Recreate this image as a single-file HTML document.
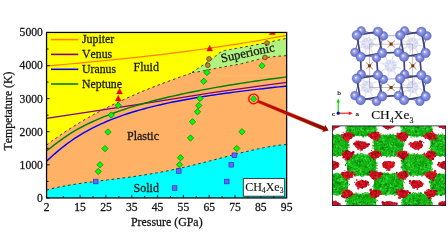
<!DOCTYPE html>
<html lang="en"><head><meta charset="utf-8"><title>CH4Xe3 phase diagram</title>
<style>html,body{margin:0;padding:0;background:#fff;overflow:hidden}body{width:448px;height:252px}</style></head>
<body>
<svg width="448" height="252" viewBox="0 0 448 252" style="display:block;font-kerning:none">
<defs>
<clipPath id="pc"><rect x="46.55" y="32.45" width="240.1" height="165.5"/></clipPath>
<radialGradient id="xe" cx="0.5" cy="0.5" r="0.55" fx="0.4" fy="0.37"><stop offset="0" stop-color="#ffffff"/><stop offset="0.1" stop-color="#e4e8ff"/><stop offset="0.24" stop-color="#a7b0f0"/><stop offset="0.52" stop-color="#848ee0"/><stop offset="0.82" stop-color="#6a74ca"/><stop offset="1" stop-color="#464ea2"/></radialGradient>
<radialGradient id="xf" cx="0.5" cy="0.5" r="0.5"><stop offset="0" stop-color="#e2e5f6"/><stop offset="0.35" stop-color="#cfd3ee"/><stop offset="0.8" stop-color="#d3d6ef"/><stop offset="1" stop-color="#e2e4f5"/></radialGradient>
<clipPath id="mdc"><rect x="332.5" y="125.9" width="113.1" height="79.5"/></clipPath>
<linearGradient id="ag" gradientUnits="userSpaceOnUse" x1="258" y1="101" x2="329" y2="130"><stop offset="0" stop-color="#d40000"/><stop offset="0.5" stop-color="#b80202"/><stop offset="1" stop-color="#8c0808"/></linearGradient>
</defs>
<rect width="448" height="252" fill="#ffffff"/>
<g clip-path="url(#pc)">
<rect x="40" y="28" width="252" height="174" fill="#ffff00"/>
<path d="M46.5 145.19 L48.97 143.16 L51.43 141.35 L53.9 139.59 L56.36 137.86 L58.83 136.15 L61.3 134.46 L63.76 132.79 L66.23 131.14 L68.69 129.52 L71.16 127.93 L73.63 126.36 L76.09 124.82 L78.56 123.31 L81.03 121.82 L83.49 120.36 L85.96 118.92 L88.42 117.51 L90.89 116.12 L93.36 114.75 L95.82 113.41 L98.29 112.09 L100.75 110.78 L103.22 109.5 L105.69 108.24 L108.15 107 L110.62 105.78 L113.08 104.57 L115.55 103.38 L118.02 102.21 L120.48 101.05 L122.95 99.91 L125.42 98.79 L127.88 97.68 L130.35 96.58 L132.81 95.5 L135.28 94.43 L137.75 93.38 L140.21 92.34 L142.68 91.31 L145.14 90.29 L147.61 89.29 L150.08 88.29 L152.54 87.31 L155.01 86.34 L157.47 85.38 L159.94 84.43 L162.41 83.49 L164.87 82.56 L167.34 81.64 L169.81 80.73 L172.27 79.83 L174.74 78.94 L177.2 78.06 L179.67 77.18 L182.14 76.32 L184.6 75.46 L187.07 74.61 L189.53 73.77 L192 72.93 L192.55 72.44 L193.21 72.38 L194 72.31 L194.91 72.22 L195.95 72.1 L197.14 71.95 L198.49 71.75 L200 71.5 L201.77 71.17 L203.85 70.77 L206.13 70.3 L208.53 69.81 L210.96 69.31 L213.32 68.83 L215.53 68.38 L217.5 68 L219.23 67.68 L220.81 67.39 L222.27 67.14 L223.66 66.91 L224.99 66.68 L226.3 66.46 L227.63 66.24 L229 66 L230.39 65.76 L231.76 65.52 L233.12 65.29 L234.47 65.06 L235.82 64.82 L237.19 64.57 L238.58 64.3 L240 64 L241.44 63.67 L242.9 63.33 L244.37 62.96 L245.85 62.57 L247.35 62.18 L248.88 61.79 L250.43 61.39 L252 61 L253.63 60.6 L255.34 60.17 L257.09 59.73 L258.85 59.29 L260.59 58.87 L262.28 58.47 L263.9 58.11 L265.4 57.8 L266.77 57.54 L268.01 57.33 L269.17 57.16 L270.29 57.01 L271.39 56.87 L272.52 56.75 L273.71 56.63 L275 56.5 L276.47 56.36 L278.11 56.23 L279.85 56.09 L281.6 55.97 L283.27 55.85 L284.79 55.75 L286.06 55.67 L287 55.6 L292 56 L292 202 L40 202 L40 143 Z" fill="#ffb266"/>
<path d="M192 72.5 L193.04 71.8 L194.47 70.84 L196.18 69.69 L198.05 68.43 L199.98 67.13 L201.85 65.87 L203.56 64.72 L205 63.75 L206.16 62.97 L207.15 62.32 L208.02 61.75 L208.82 61.23 L209.59 60.73 L210.37 60.19 L211.23 59.6 L212.2 58.9 L213.27 58.07 L214.39 57.13 L215.56 56.13 L216.76 55.1 L217.98 54.09 L219.21 53.14 L220.46 52.29 L221.7 51.6 L222.92 51.07 L224.13 50.66 L225.34 50.35 L226.57 50.1 L227.83 49.89 L229.15 49.69 L230.53 49.47 L232 49.2 L233.53 48.9 L235.08 48.62 L236.67 48.34 L238.33 48.06 L240.07 47.76 L241.92 47.44 L243.89 47.09 L246 46.7 L248.3 46.27 L250.78 45.79 L253.41 45.29 L256.12 44.77 L258.89 44.23 L261.66 43.68 L264.38 43.14 L267 42.6 L269.68 42.03 L272.54 41.42 L275.45 40.78 L278.31 40.14 L281.01 39.54 L283.43 39 L285.46 38.54 L287 38.2 L292 37 L292 56 L287 55.6 L286.06 55.67 L284.79 55.75 L283.27 55.85 L281.6 55.97 L279.85 56.09 L278.11 56.23 L276.47 56.36 L275 56.5 L273.71 56.63 L272.52 56.75 L271.39 56.87 L270.29 57.01 L269.17 57.16 L268.01 57.33 L266.77 57.54 L265.4 57.8 L263.9 58.11 L262.28 58.47 L260.59 58.87 L258.85 59.29 L257.09 59.73 L255.34 60.17 L253.63 60.6 L252 61 L250.43 61.39 L248.88 61.79 L247.35 62.18 L245.85 62.57 L244.37 62.96 L242.9 63.33 L241.44 63.67 L240 64 L238.58 64.3 L237.19 64.57 L235.82 64.82 L234.47 65.06 L233.12 65.29 L231.76 65.52 L230.39 65.76 L229 66 L227.63 66.24 L226.3 66.46 L224.99 66.68 L223.66 66.91 L222.27 67.14 L220.81 67.39 L219.23 67.68 L217.5 68 L215.53 68.38 L213.32 68.83 L210.96 69.31 L208.53 69.81 L206.13 70.3 L203.85 70.77 L201.77 71.17 L200 71.5 L198.49 71.75 L197.14 71.95 L195.95 72.1 L194.91 72.22 L194 72.31 L193.21 72.38 L192.55 72.44 L192 72.5 Z" fill="#b2f27f"/>
<path d="M46.5 190.04 L50.58 189 L54.65 188.03 L58.73 187.15 L62.81 186.33 L66.88 185.57 L70.96 184.87 L75.03 184.22 L79.11 183.6 L83.19 183.02 L87.26 182.47 L91.34 181.94 L95.42 181.42 L99.49 180.92 L103.57 180.42 L107.64 179.93 L111.72 179.43 L115.8 178.93 L119.87 178.42 L123.95 177.89 L128.03 177.35 L132.1 176.79 L136.18 176.2 L140.25 175.6 L144.33 174.96 L148.41 174.3 L152.48 173.62 L156.56 172.9 L160.64 172.15 L164.71 171.38 L168.79 170.57 L172.86 169.73 L176.94 168.86 L181.02 167.97 L185.09 167.05 L189.17 166.1 L193.25 165.12 L197.32 164.13 L201.4 163.11 L205.47 162.08 L209.55 161.03 L213.63 159.97 L217.7 158.9 L221.78 157.83 L225.86 156.76 L229.93 155.69 L234.01 154.64 L238.08 153.6 L242.16 152.58 L246.24 151.58 L250.31 150.62 L254.39 149.69 L258.47 148.81 L262.54 147.98 L266.62 147.21 L270.69 146.5 L274.77 145.87 L278.85 145.32 L282.92 144.86 L287 144.5 L292 144.4 L292 202 L40 202 L40 190 Z" fill="#00ffff"/>
<path d="M201 75.6 H286" stroke="#e9d070" stroke-width="0.55" stroke-opacity="0.75" fill="none"/>
<path d="M46.5 145.19 L48.97 143.16 L51.43 141.35 L53.9 139.59 L56.36 137.86 L58.83 136.15 L61.3 134.46 L63.76 132.79 L66.23 131.14 L68.69 129.52 L71.16 127.93 L73.63 126.36 L76.09 124.82 L78.56 123.31 L81.03 121.82 L83.49 120.36 L85.96 118.92 L88.42 117.51 L90.89 116.12 L93.36 114.75 L95.82 113.41 L98.29 112.09 L100.75 110.78 L103.22 109.5 L105.69 108.24 L108.15 107 L110.62 105.78 L113.08 104.57 L115.55 103.38 L118.02 102.21 L120.48 101.05 L122.95 99.91 L125.42 98.79 L127.88 97.68 L130.35 96.58 L132.81 95.5 L135.28 94.43 L137.75 93.38 L140.21 92.34 L142.68 91.31 L145.14 90.29 L147.61 89.29 L150.08 88.29 L152.54 87.31 L155.01 86.34 L157.47 85.38 L159.94 84.43 L162.41 83.49 L164.87 82.56 L167.34 81.64 L169.81 80.73 L172.27 79.83 L174.74 78.94 L177.2 78.06 L179.67 77.18 L182.14 76.32 L184.6 75.46 L187.07 74.61 L189.53 73.77 L192 72.93" fill="none" stroke="#1a1a1a" stroke-width="0.85" stroke-dasharray="2.6 2.9"/>
<path d="M192 72.5 L193.04 71.8 L194.47 70.84 L196.18 69.69 L198.05 68.43 L199.98 67.13 L201.85 65.87 L203.56 64.72 L205 63.75 L206.16 62.97 L207.15 62.32 L208.02 61.75 L208.82 61.23 L209.59 60.73 L210.37 60.19 L211.23 59.6 L212.2 58.9 L213.27 58.07 L214.39 57.13 L215.56 56.13 L216.76 55.1 L217.98 54.09 L219.21 53.14 L220.46 52.29 L221.7 51.6 L222.92 51.07 L224.13 50.66 L225.34 50.35 L226.57 50.1 L227.83 49.89 L229.15 49.69 L230.53 49.47 L232 49.2 L233.53 48.9 L235.08 48.62 L236.67 48.34 L238.33 48.06 L240.07 47.76 L241.92 47.44 L243.89 47.09 L246 46.7 L248.3 46.27 L250.78 45.79 L253.41 45.29 L256.12 44.77 L258.89 44.23 L261.66 43.68 L264.38 43.14 L267 42.6 L269.68 42.03 L272.54 41.42 L275.45 40.78 L278.31 40.14 L281.01 39.54 L283.43 39 L285.46 38.54 L287 38.2" fill="none" stroke="#1a1a1a" stroke-width="0.85" stroke-dasharray="2.6 2.9"/>
<path d="M192 72.5 L192.55 72.44 L193.21 72.38 L194 72.31 L194.91 72.22 L195.95 72.1 L197.14 71.95 L198.49 71.75 L200 71.5 L201.77 71.17 L203.85 70.77 L206.13 70.3 L208.53 69.81 L210.96 69.31 L213.32 68.83 L215.53 68.38 L217.5 68 L219.23 67.68 L220.81 67.39 L222.27 67.14 L223.66 66.91 L224.99 66.68 L226.3 66.46 L227.63 66.24 L229 66 L230.39 65.76 L231.76 65.52 L233.12 65.29 L234.47 65.06 L235.82 64.82 L237.19 64.57 L238.58 64.3 L240 64 L241.44 63.67 L242.9 63.33 L244.37 62.96 L245.85 62.57 L247.35 62.18 L248.88 61.79 L250.43 61.39 L252 61 L253.63 60.6 L255.34 60.17 L257.09 59.73 L258.85 59.29 L260.59 58.87 L262.28 58.47 L263.9 58.11 L265.4 57.8 L266.77 57.54 L268.01 57.33 L269.17 57.16 L270.29 57.01 L271.39 56.87 L272.52 56.75 L273.71 56.63 L275 56.5 L276.47 56.36 L278.11 56.23 L279.85 56.09 L281.6 55.97 L283.27 55.85 L284.79 55.75 L286.06 55.67 L287 55.6" fill="none" stroke="#1a1a1a" stroke-width="0.85" stroke-dasharray="2.6 2.9"/>
<path d="M46.5 190.04 L50.58 189 L54.65 188.03 L58.73 187.15 L62.81 186.33 L66.88 185.57 L70.96 184.87 L75.03 184.22 L79.11 183.6 L83.19 183.02 L87.26 182.47 L91.34 181.94 L95.42 181.42 L99.49 180.92 L103.57 180.42 L107.64 179.93 L111.72 179.43 L115.8 178.93 L119.87 178.42 L123.95 177.89 L128.03 177.35 L132.1 176.79 L136.18 176.2 L140.25 175.6 L144.33 174.96 L148.41 174.3 L152.48 173.62 L156.56 172.9 L160.64 172.15 L164.71 171.38 L168.79 170.57 L172.86 169.73 L176.94 168.86 L181.02 167.97 L185.09 167.05 L189.17 166.1 L193.25 165.12 L197.32 164.13 L201.4 163.11 L205.47 162.08 L209.55 161.03 L213.63 159.97 L217.7 158.9 L221.78 157.83 L225.86 156.76 L229.93 155.69 L234.01 154.64 L238.08 153.6 L242.16 152.58 L246.24 151.58 L250.31 150.62 L254.39 149.69 L258.47 148.81 L262.54 147.98 L266.62 147.21 L270.69 146.5 L274.77 145.87 L278.85 145.32 L282.92 144.86 L287 144.5" fill="none" stroke="#1a1a1a" stroke-width="0.85" stroke-dasharray="2.6 2.9"/>
<path d="M46.25 66.06 L56.28 65.17 L66.31 64.27 L76.34 63.35 L86.38 62.41 L96.41 61.44 L106.44 60.46 L116.47 59.45 L126.5 58.4 L136.53 57.33 L146.56 56.21 L156.59 55.06 L166.62 53.87 L176.66 52.63 L186.69 51.35 L196.72 50.01 L206.75 48.62 L216.78 47.18 L226.81 45.68 L236.84 44.11 L246.88 42.48 L256.91 40.79 L266.94 39.02 L276.97 37.18 L287 35.27" fill="none" stroke="#ff8000" stroke-width="1.2"/>
<path d="M46.5 161.27 L50.58 157.48 L54.65 153.83 L58.73 150.36 L62.81 147.06 L66.88 143.94 L70.96 141 L75.03 138.23 L79.11 135.62 L83.19 133.16 L87.26 130.84 L91.34 128.65 L95.42 126.59 L99.49 124.63 L103.57 122.79 L107.64 121.04 L111.72 119.38 L115.8 117.81 L119.87 116.31 L123.95 114.89 L128.03 113.54 L132.1 112.25 L136.18 111.02 L140.25 109.85 L144.33 108.72 L148.41 107.65 L152.48 106.62 L156.56 105.63 L160.64 104.68 L164.71 103.77 L168.79 102.89 L172.86 102.05 L176.94 101.23 L181.02 100.45 L185.09 99.69 L189.17 98.95 L193.25 98.24 L197.32 97.55 L201.4 96.88 L205.47 96.24 L209.55 95.6 L213.63 94.99 L217.7 94.39 L221.78 93.81 L225.86 93.24 L229.93 92.69 L234.01 92.15 L238.08 91.62 L242.16 91.1 L246.24 90.6 L250.31 90.1 L254.39 89.61 L258.47 89.13 L262.54 88.66 L266.62 88.2 L270.69 87.75 L274.77 87.3 L278.85 86.86 L282.92 86.42 L287 85.99" fill="none" stroke="#0000ff" stroke-width="1.45"/>
<path d="M46.5 118.4 L96 110.9 L150 102.6 L214 92.3 L270 84.7 L287 82.4" fill="none" stroke="#800080" stroke-width="1.35"/>
<path d="M46.5 150.56 L50.58 147.82 L54.65 144.66 L58.73 141.54 L62.81 138.59 L66.88 135.81 L70.96 133.2 L75.03 130.74 L79.11 128.44 L83.19 126.26 L87.26 124.2 L91.34 122.24 L95.42 120.38 L99.49 118.61 L103.57 116.92 L107.64 115.31 L111.72 113.76 L115.8 112.27 L119.87 110.84 L123.95 109.46 L128.03 108.14 L132.1 106.86 L136.18 105.62 L140.25 104.43 L144.33 103.27 L148.41 102.15 L152.48 101.07 L156.56 100.01 L160.64 98.99 L164.71 98 L168.79 97.03 L172.86 96.09 L176.94 95.17 L181.02 94.28 L185.09 93.41 L189.17 92.56 L193.25 91.73 L197.32 90.93 L201.4 90.14 L205.47 89.36 L209.55 88.61 L213.63 87.87 L217.7 87.15 L221.78 86.45 L225.86 85.76 L229.93 85.08 L234.01 84.42 L238.08 83.77 L242.16 83.13 L246.24 82.5 L250.31 81.89 L254.39 81.29 L258.47 80.7 L262.54 80.12 L266.62 79.55 L270.69 79 L274.77 78.45 L278.85 77.91 L282.92 77.38 L287 76.86" fill="none" stroke="#008000" stroke-width="1.45"/>
<rect x="93.45" y="179.2" width="4.6" height="4.6" fill="#6666f8" stroke="#3030c4" stroke-width="0.7"/>
<rect x="176.45" y="168.7" width="4.6" height="4.6" fill="#6666f8" stroke="#3030c4" stroke-width="0.7"/>
<rect x="172.3" y="185.7" width="4.6" height="4.6" fill="#6666f8" stroke="#3030c4" stroke-width="0.7"/>
<rect x="232.2" y="152.95" width="4.6" height="4.6" fill="#6666f8" stroke="#3030c4" stroke-width="0.7"/>
<rect x="228.95" y="162.45" width="4.6" height="4.6" fill="#6666f8" stroke="#3030c4" stroke-width="0.7"/>
<rect x="224.45" y="179.2" width="4.6" height="4.6" fill="#6666f8" stroke="#3030c4" stroke-width="0.7"/>
<path d="M98.25 168.35 L101.4 171.5 L98.25 174.65 L95.1 171.5 Z" fill="#00ff00" stroke="#0b820b" stroke-width="0.75"/>
<path d="M100 161.6 L103.15 164.75 L100 167.9 L96.85 164.75 Z" fill="#00ff00" stroke="#0b820b" stroke-width="0.75"/>
<path d="M105 145.45 L108.15 148.6 L105 151.75 L101.85 148.6 Z" fill="#00ff00" stroke="#0b820b" stroke-width="0.75"/>
<path d="M108 128.85 L111.15 132 L108 135.15 L104.85 132 Z" fill="#00ff00" stroke="#0b820b" stroke-width="0.75"/>
<path d="M111.25 111.85 L114.4 115 L111.25 118.15 L108.1 115 Z" fill="#00ff00" stroke="#0b820b" stroke-width="0.75"/>
<path d="M118.25 102.35 L121.4 105.5 L118.25 108.65 L115.1 105.5 Z" fill="#00ff00" stroke="#0b820b" stroke-width="0.75"/>
<path d="M179.5 161.6 L182.65 164.75 L179.5 167.9 L176.35 164.75 Z" fill="#00ff00" stroke="#0b820b" stroke-width="0.75"/>
<path d="M180.5 154.6 L183.65 157.75 L180.5 160.9 L177.35 157.75 Z" fill="#00ff00" stroke="#0b820b" stroke-width="0.75"/>
<path d="M190.5 134.85 L193.65 138 L190.5 141.15 L187.35 138 Z" fill="#00ff00" stroke="#0b820b" stroke-width="0.75"/>
<path d="M192.5 118.6 L195.65 121.75 L192.5 124.9 L189.35 121.75 Z" fill="#00ff00" stroke="#0b820b" stroke-width="0.75"/>
<path d="M197.5 108.6 L200.65 111.75 L197.5 114.9 L194.35 111.75 Z" fill="#00ff00" stroke="#0b820b" stroke-width="0.75"/>
<path d="M198.75 102.35 L201.9 105.5 L198.75 108.65 L195.6 105.5 Z" fill="#00ff00" stroke="#0b820b" stroke-width="0.75"/>
<path d="M200 95.35 L203.15 98.5 L200 101.65 L196.85 98.5 Z" fill="#00ff00" stroke="#0b820b" stroke-width="0.75"/>
<path d="M203.75 78.1 L206.9 81.25 L203.75 84.4 L200.6 81.25 Z" fill="#00ff00" stroke="#0b820b" stroke-width="0.75"/>
<path d="M207 69.35 L210.15 72.5 L207 75.65 L203.85 72.5 Z" fill="#00ff00" stroke="#0b820b" stroke-width="0.75"/>
<path d="M236.75 145.35 L239.9 148.5 L236.75 151.65 L233.6 148.5 Z" fill="#00ff00" stroke="#0b820b" stroke-width="0.75"/>
<path d="M242 128.6 L245.15 131.75 L242 134.9 L238.85 131.75 Z" fill="#00ff00" stroke="#0b820b" stroke-width="0.75"/>
<path d="M253.6 95.75 L256.75 98.9 L253.6 102.05 L250.45 98.9 Z" fill="#00ff00" stroke="#0b820b" stroke-width="0.75"/>
<path d="M262 62.55 L265.15 65.7 L262 68.85 L258.85 65.7 Z" fill="#00ff00" stroke="#0b820b" stroke-width="0.75"/>
<circle cx="209" cy="58.9" r="2.35" fill="#c08a24" stroke="#5e4010" stroke-width="0.8"/>
<circle cx="207.8" cy="65.2" r="2.35" fill="#c08a24" stroke="#5e4010" stroke-width="0.8"/>
<circle cx="267" cy="43" r="2.35" fill="#c08a24" stroke="#5e4010" stroke-width="0.8"/>
<circle cx="265" cy="57.5" r="2.35" fill="#c08a24" stroke="#5e4010" stroke-width="0.8"/>
<path d="M118.25 95.4 L121.15 100.9 L115.35 100.9 Z" fill="#ff0000" stroke="#b02020" stroke-width="0.6"/>
<path d="M119.5 88.4 L122.4 93.9 L116.6 93.9 Z" fill="#ff0000" stroke="#b02020" stroke-width="0.6"/>
<path d="M209.7 45.4 L212.6 50.9 L206.8 50.9 Z" fill="#ff0000" stroke="#b02020" stroke-width="0.6"/>
<path d="M272.4 29.1 L275.3 34.6 L269.5 34.6 Z" fill="#ff0000" stroke="#b02020" stroke-width="0.6"/>
</g>
<g font-family="'Liberation Serif', serif" font-size="11.8px" fill="#151515" stroke="#151515" stroke-width="0.26">
<line x1="51" y1="39.6" x2="78.3" y2="39.6" stroke="#ff8000" stroke-width="1.6"/>
<text x="82" y="43.2">Jupiter</text>
<line x1="51" y1="54.4" x2="78.3" y2="54.4" stroke="#800080" stroke-width="1.6"/>
<text x="82" y="58">Venus</text>
<line x1="51" y1="69.3" x2="78.3" y2="69.3" stroke="#0000ff" stroke-width="1.6"/>
<text x="82" y="72.9">Uranus</text>
<line x1="51" y1="84" x2="78.3" y2="84" stroke="#008000" stroke-width="1.6"/>
<text x="82" y="87.6">Neptune</text>
</g>
<rect x="46.55" y="32.45" width="240.1" height="165.5" fill="none" stroke="#000" stroke-width="1.25"/>
<path d="M63.33 197.95 v-2 M80.11 197.95 v-3.1 M93.02 197.95 v-2 M105.93 197.95 v-3.1 M118.84 197.95 v-2 M131.75 197.95 v-3.1 M144.66 197.95 v-2 M157.56 197.95 v-3.1 M170.47 197.95 v-2 M183.38 197.95 v-3.1 M196.29 197.95 v-2 M209.2 197.95 v-3.1 M222.11 197.95 v-2 M235.02 197.95 v-3.1 M247.92 197.95 v-2 M260.83 197.95 v-3.1 M273.74 197.95 v-2 M46.55 197.95 h3.1 M46.55 181.4 h2 M46.55 164.85 h3.1 M46.55 148.3 h2 M46.55 131.75 h3.1 M46.55 115.2 h2 M46.55 98.65 h3.1 M46.55 82.1 h2 M46.55 65.55 h3.1 M46.55 49 h2 M46.55 32.45 h3.1" stroke="#000" stroke-width="0.9" fill="none"/>
<g font-family="'Liberation Serif', serif" font-size="11.6px" fill="#151515" stroke="#151515" stroke-width="0.26">
<text x="46.55" y="210.8" text-anchor="middle">2</text>
<text x="80.11" y="210.8" text-anchor="middle">15</text>
<text x="105.93" y="210.8" text-anchor="middle">25</text>
<text x="131.75" y="210.8" text-anchor="middle">35</text>
<text x="157.56" y="210.8" text-anchor="middle">45</text>
<text x="183.38" y="210.8" text-anchor="middle">55</text>
<text x="209.2" y="210.8" text-anchor="middle">65</text>
<text x="235.02" y="210.8" text-anchor="middle">75</text>
<text x="260.83" y="210.8" text-anchor="middle">85</text>
<text x="286.65" y="210.8" text-anchor="middle">95</text>
<text x="42.8" y="201.85" text-anchor="end">0</text>
<text x="42.8" y="168.75" text-anchor="end">1000</text>
<text x="42.8" y="135.65" text-anchor="end">2000</text>
<text x="42.8" y="102.55" text-anchor="end">3000</text>
<text x="42.8" y="69.45" text-anchor="end">4000</text>
<text x="42.8" y="36.35" text-anchor="end">5000</text>
<text x="166.8" y="225.6" text-anchor="middle" font-size="11.9px">Pressure (GPa)</text>
<text transform="translate(12.4 111) rotate(-90)" text-anchor="middle" font-size="11.8px">Tempetature (K)</text>
</g>
<g font-family="'Liberation Serif', serif" font-size="12px" fill="#151515" stroke="#151515" stroke-width="0.26">
<text x="133.6" y="71.2">Fluid</text>
<text x="127" y="140">Plastic</text>
<text x="133.6" y="192.2">Solid</text>
<text transform="translate(221.8 62.4) rotate(-12)" font-size="12.6px">Superionic</text>
</g>
<rect x="243.3" y="178.6" width="41.4" height="17.6" fill="#fff" stroke="#2a2a2a" stroke-width="0.9"/>
<text x="245.2" y="191" font-family="'Liberation Serif', serif" font-size="12px" fill="#151515" stroke="#151515" stroke-width="0.12">CH<tspan font-size="7.6px" dy="2.3">4</tspan><tspan dy="-2.3">Xe</tspan><tspan font-size="7.6px" dy="2.3">3</tspan></text>
<circle cx="253.6" cy="98.9" r="4.85" fill="none" stroke="#ff0000" stroke-width="1.35"/>
<path d="M257.65 102.64 L324.57 131.06 L326.18 127.18 L258.75 99.96 Z" fill="url(#ag)"/>
<path d="M257.65 102.64 L324.57 131.06 M326.18 127.18 L258.75 99.96" fill="none" stroke="#8f9a28" stroke-width="0.45" stroke-opacity="0.85"/>
<path d="M328.7 130.5 L322.03 131.96 L324.63 128.82 L325.02 124.75 Z" fill="#8c0a0a"/>
<g>
<path d="M367.4 43.5 L377.57 46.1 M367.4 43.5 L372.76 52.53 M367.4 43.5 L364.8 53.67 M367.4 43.5 L358.37 48.86 M367.4 43.5 L357.23 40.9 M367.4 43.5 L362.04 34.47 M367.4 43.5 L370 33.33 M367.4 43.5 L376.43 38.14" stroke="#dfe1f3" stroke-width="1.3" fill="none"/>
<circle cx="367.4" cy="43.5" r="6.3" fill="url(#xf)"/>
<path d="M367.4 43.5 L373.21 44.98 M367.4 43.5 L370.46 48.66 M367.4 43.5 L365.92 49.31 M367.4 43.5 L362.24 46.56 M367.4 43.5 L361.59 42.02 M367.4 43.5 L364.34 38.34 M367.4 43.5 L368.88 37.69 M367.4 43.5 L372.56 40.44" stroke="#eceef9" stroke-width="0.9" fill="none"/>
<path d="M367.4 86.9 L377.57 89.5 M367.4 86.9 L372.76 95.93 M367.4 86.9 L364.8 97.07 M367.4 86.9 L358.37 92.26 M367.4 86.9 L357.23 84.3 M367.4 86.9 L362.04 77.87 M367.4 86.9 L370 76.73 M367.4 86.9 L376.43 81.54" stroke="#dfe1f3" stroke-width="1.3" fill="none"/>
<circle cx="367.4" cy="86.9" r="6.3" fill="url(#xf)"/>
<path d="M367.4 86.9 L373.21 88.38 M367.4 86.9 L370.46 92.06 M367.4 86.9 L365.92 92.71 M367.4 86.9 L362.24 89.96 M367.4 86.9 L361.59 85.42 M367.4 86.9 L364.34 81.74 M367.4 86.9 L368.88 81.09 M367.4 86.9 L372.56 83.84" stroke="#eceef9" stroke-width="0.9" fill="none"/>
<path d="M412.3 43.5 L422.47 46.1 M412.3 43.5 L417.66 52.53 M412.3 43.5 L409.7 53.67 M412.3 43.5 L403.27 48.86 M412.3 43.5 L402.13 40.9 M412.3 43.5 L406.94 34.47 M412.3 43.5 L414.9 33.33 M412.3 43.5 L421.33 38.14" stroke="#dfe1f3" stroke-width="1.3" fill="none"/>
<circle cx="412.3" cy="43.5" r="6.3" fill="url(#xf)"/>
<path d="M412.3 43.5 L418.11 44.98 M412.3 43.5 L415.36 48.66 M412.3 43.5 L410.82 49.31 M412.3 43.5 L407.14 46.56 M412.3 43.5 L406.49 42.02 M412.3 43.5 L409.24 38.34 M412.3 43.5 L413.78 37.69 M412.3 43.5 L417.46 40.44" stroke="#eceef9" stroke-width="0.9" fill="none"/>
<path d="M412.3 86.9 L422.47 89.5 M412.3 86.9 L417.66 95.93 M412.3 86.9 L409.7 97.07 M412.3 86.9 L403.27 92.26 M412.3 86.9 L402.13 84.3 M412.3 86.9 L406.94 77.87 M412.3 86.9 L414.9 76.73 M412.3 86.9 L421.33 81.54" stroke="#dfe1f3" stroke-width="1.3" fill="none"/>
<circle cx="412.3" cy="86.9" r="6.3" fill="url(#xf)"/>
<path d="M412.3 86.9 L418.11 88.38 M412.3 86.9 L415.36 92.06 M412.3 86.9 L410.82 92.71 M412.3 86.9 L407.14 89.96 M412.3 86.9 L406.49 85.42 M412.3 86.9 L409.24 81.74 M412.3 86.9 L413.78 81.09 M412.3 86.9 L417.46 83.84" stroke="#eceef9" stroke-width="0.9" fill="none"/>
<path d="M390.6 65.8 L400.77 68.4 M390.6 65.8 L395.96 74.83 M390.6 65.8 L388 75.97 M390.6 65.8 L381.57 71.16 M390.6 65.8 L380.43 63.2 M390.6 65.8 L385.24 56.77 M390.6 65.8 L393.2 55.63 M390.6 65.8 L399.63 60.44" stroke="#dfe1f3" stroke-width="1.3" fill="none"/>
<circle cx="390.6" cy="65.8" r="6.3" fill="url(#xf)"/>
<path d="M390.6 65.8 L396.41 67.28 M390.6 65.8 L393.66 70.96 M390.6 65.8 L389.12 71.61 M390.6 65.8 L385.44 68.86 M390.6 65.8 L384.79 64.32 M390.6 65.8 L387.54 60.64 M390.6 65.8 L392.08 59.99 M390.6 65.8 L395.76 62.74" stroke="#eceef9" stroke-width="0.9" fill="none"/>
<rect x="369.4" y="44.1" width="43.4" height="43.4" fill="none" stroke="#8a8a8a" stroke-width="0.5"/>
<path d="M387.5 40.5 L394.7 47.7 M387.5 47.7 L394.7 40.5" stroke="#cfa690" stroke-width="1.1" fill="none"/>
<rect x="389.6" y="42.6" width="3" height="3" fill="#7a3b12"/>
<path d="M365.8 62.2 L373 69.4 M365.8 69.4 L373 62.2" stroke="#cfa690" stroke-width="1.1" fill="none"/>
<rect x="367.9" y="64.3" width="3" height="3" fill="#7a3b12"/>
<path d="M409.2 62.2 L416.4 69.4 M409.2 69.4 L416.4 62.2" stroke="#cfa690" stroke-width="1.1" fill="none"/>
<rect x="411.3" y="64.3" width="3" height="3" fill="#7a3b12"/>
<path d="M387.5 83.9 L394.7 91.1 M387.5 91.1 L394.7 83.9" stroke="#cfa690" stroke-width="1.1" fill="none"/>
<rect x="389.6" y="86" width="3" height="3" fill="#7a3b12"/>
<path d="M383.5 35.9 L400.2 35.2 M383.5 79.3 L400.2 78.6" stroke="#bfc4e8" stroke-width="1.5" fill="none" stroke-linecap="round"/>
<path d="M361.2 30.8 L383.5 35.9 M383.5 35.9 L376.5 58 M376.5 58 L354.9 52.3 M354.9 52.3 L361.2 30.8 M361.2 74.2 L383.5 79.3 M383.5 79.3 L376.5 101.4 M376.5 101.4 L354.9 95.7 M354.9 95.7 L361.2 74.2 M404.6 30.8 L426.9 35.9 M426.9 35.9 L419.9 58 M419.9 58 L398.3 52.3 M398.3 52.3 L404.6 30.8 M404.6 74.2 L426.9 79.3 M426.9 79.3 L419.9 101.4 M419.9 101.4 L398.3 95.7 M398.3 95.7 L404.6 74.2" stroke="#5c60a0" stroke-width="0.9" fill="none" stroke-linecap="round"/>
<path d="M356.8 35.2 L378 31.7 M378 31.7 L382.2 53 M382.2 53 L360.6 56.8 M360.6 56.8 L356.8 35.2 M382.2 53 L398.3 52.3 M360.6 56.8 L361.2 74.2 M376.5 58 L378 75.1 M356.8 78.6 L378 75.1 M378 75.1 L382.2 96.4 M382.2 96.4 L360.6 100.2 M360.6 100.2 L356.8 78.6 M382.2 96.4 L398.3 95.7 M400.2 35.2 L421.4 31.7 M421.4 31.7 L425.6 53 M425.6 53 L404 56.8 M404 56.8 L400.2 35.2 M404 56.8 L404.6 74.2 M419.9 58 L421.4 75.1 M400.2 78.6 L421.4 75.1 M421.4 75.1 L425.6 96.4 M425.6 96.4 L404 100.2 M404 100.2 L400.2 78.6" stroke="#3f4280" stroke-width="1.7" fill="none" stroke-linecap="round"/>
<circle cx="361.2" cy="30.8" r="4.4" fill="url(#xe)" stroke="#5a62b0" stroke-width="0.3"/>
<circle cx="383.5" cy="35.9" r="4.4" fill="url(#xe)" stroke="#5a62b0" stroke-width="0.3"/>
<circle cx="376.5" cy="58" r="4.4" fill="url(#xe)" stroke="#5a62b0" stroke-width="0.3"/>
<circle cx="354.9" cy="52.3" r="4.4" fill="url(#xe)" stroke="#5a62b0" stroke-width="0.3"/>
<circle cx="361.2" cy="74.2" r="4.4" fill="url(#xe)" stroke="#5a62b0" stroke-width="0.3"/>
<circle cx="383.5" cy="79.3" r="4.4" fill="url(#xe)" stroke="#5a62b0" stroke-width="0.3"/>
<circle cx="376.5" cy="101.4" r="4.4" fill="url(#xe)" stroke="#5a62b0" stroke-width="0.3"/>
<circle cx="354.9" cy="95.7" r="4.4" fill="url(#xe)" stroke="#5a62b0" stroke-width="0.3"/>
<circle cx="404.6" cy="30.8" r="4.4" fill="url(#xe)" stroke="#5a62b0" stroke-width="0.3"/>
<circle cx="426.9" cy="35.9" r="4.4" fill="url(#xe)" stroke="#5a62b0" stroke-width="0.3"/>
<circle cx="419.9" cy="58" r="4.4" fill="url(#xe)" stroke="#5a62b0" stroke-width="0.3"/>
<circle cx="398.3" cy="52.3" r="4.4" fill="url(#xe)" stroke="#5a62b0" stroke-width="0.3"/>
<circle cx="404.6" cy="74.2" r="4.4" fill="url(#xe)" stroke="#5a62b0" stroke-width="0.3"/>
<circle cx="426.9" cy="79.3" r="4.4" fill="url(#xe)" stroke="#5a62b0" stroke-width="0.3"/>
<circle cx="419.9" cy="101.4" r="4.4" fill="url(#xe)" stroke="#5a62b0" stroke-width="0.3"/>
<circle cx="398.3" cy="95.7" r="4.4" fill="url(#xe)" stroke="#5a62b0" stroke-width="0.3"/>
<circle cx="356.8" cy="35.2" r="4.8" fill="url(#xe)" stroke="#5a62b0" stroke-width="0.3"/>
<circle cx="378" cy="31.7" r="4.8" fill="url(#xe)" stroke="#5a62b0" stroke-width="0.3"/>
<circle cx="382.2" cy="53" r="4.8" fill="url(#xe)" stroke="#5a62b0" stroke-width="0.3"/>
<circle cx="360.6" cy="56.8" r="4.8" fill="url(#xe)" stroke="#5a62b0" stroke-width="0.3"/>
<circle cx="356.8" cy="78.6" r="4.8" fill="url(#xe)" stroke="#5a62b0" stroke-width="0.3"/>
<circle cx="378" cy="75.1" r="4.8" fill="url(#xe)" stroke="#5a62b0" stroke-width="0.3"/>
<circle cx="382.2" cy="96.4" r="4.8" fill="url(#xe)" stroke="#5a62b0" stroke-width="0.3"/>
<circle cx="360.6" cy="100.2" r="4.8" fill="url(#xe)" stroke="#5a62b0" stroke-width="0.3"/>
<circle cx="400.2" cy="35.2" r="4.8" fill="url(#xe)" stroke="#5a62b0" stroke-width="0.3"/>
<circle cx="421.4" cy="31.7" r="4.8" fill="url(#xe)" stroke="#5a62b0" stroke-width="0.3"/>
<circle cx="425.6" cy="53" r="4.8" fill="url(#xe)" stroke="#5a62b0" stroke-width="0.3"/>
<circle cx="404" cy="56.8" r="4.8" fill="url(#xe)" stroke="#5a62b0" stroke-width="0.3"/>
<circle cx="400.2" cy="78.6" r="4.8" fill="url(#xe)" stroke="#5a62b0" stroke-width="0.3"/>
<circle cx="421.4" cy="75.1" r="4.8" fill="url(#xe)" stroke="#5a62b0" stroke-width="0.3"/>
<circle cx="425.6" cy="96.4" r="4.8" fill="url(#xe)" stroke="#5a62b0" stroke-width="0.3"/>
<circle cx="404" cy="100.2" r="4.8" fill="url(#xe)" stroke="#5a62b0" stroke-width="0.3"/>
</g>
<g>
<path d="M338.2 113.2 V101.6" stroke="#00d000" stroke-width="1.1"/>
<path d="M338.2 98.4 l1.7 4 h-3.4 z" fill="#00d000"/>
<path d="M338.2 113.2 H349.4" stroke="#ee1010" stroke-width="1.1"/>
<path d="M352.8 113.2 l-4 1.7 v-3.4 z" fill="#ee1010"/>
<circle cx="338.2" cy="113.2" r="1.6" fill="#0a0aa0"/>
<g font-family="'Liberation Sans', sans-serif" font-size="6.2px" font-weight="bold" fill="#222">
<text x="337.3" y="95.1">b</text><text x="355.6" y="115.6">a</text><text x="331.8" y="115.6">c</text>
</g></g>
<text x="371.2" y="119.3" font-family="'Liberation Serif', serif" font-size="13.4px" fill="#111" stroke="#111" stroke-width="0.15">CH<tspan font-size="8px" dy="3.3">4</tspan><tspan dy="-3.3">Xe</tspan><tspan font-size="8px" dy="3.3">3</tspan></text>
<g clip-path="url(#mdc)">
<rect x="332" y="125.6" width="116" height="79.6" fill="#fff"/>
<rect x="319" y="135.1" width="29" height="20.8" rx="7.5" ry="6.5" fill="#14b414"/>
<rect x="319" y="173.8" width="29" height="20.8" rx="7.5" ry="6.5" fill="#14b414"/>
<rect x="347" y="115.2" width="29" height="20.8" rx="7.5" ry="6.5" fill="#14b414"/>
<rect x="347" y="154.6" width="29" height="20.8" rx="7.5" ry="6.5" fill="#14b414"/>
<rect x="347" y="193.8" width="29" height="20.8" rx="7.5" ry="6.5" fill="#14b414"/>
<rect x="374" y="135.1" width="29" height="20.8" rx="7.5" ry="6.5" fill="#14b414"/>
<rect x="374" y="173.8" width="29" height="20.8" rx="7.5" ry="6.5" fill="#14b414"/>
<rect x="402.3" y="115.2" width="29" height="20.8" rx="7.5" ry="6.5" fill="#14b414"/>
<rect x="402.3" y="154.6" width="29" height="20.8" rx="7.5" ry="6.5" fill="#14b414"/>
<rect x="402.3" y="193.8" width="29" height="20.8" rx="7.5" ry="6.5" fill="#14b414"/>
<rect x="430.5" y="135.1" width="29" height="20.8" rx="7.5" ry="6.5" fill="#14b414"/>
<rect x="430.5" y="173.8" width="29" height="20.8" rx="7.5" ry="6.5" fill="#14b414"/>
<path d="M322.21 148.02h0M324.68 141.14h0M333.06 144.35h0M339.29 146.63h0M342.73 146.15h0M329.61 138.77h0M319.63 150.95h0M338.76 147.99h0M319.81 139.23h0M345.62 146.68h0M345.89 141.57h0M338.58 183.19h0M333.71 177.76h0M338.51 177.69h0M326.91 175.25h0M330.66 187.09h0M327.49 173.87h0M340.8 191.35h0M324.96 193.99h0M329.22 190.57h0M372.75 127.55h0M362.31 119.31h0M365.53 121.27h0M352.03 124.16h0M355.26 126.41h0M366.24 126.61h0M349.24 128.93h0M350.32 168.68h0M363.03 170.33h0M349.75 156.31h0M352.08 159h0M365.86 202.38h0M364.48 212.27h0M353.78 214.46h0M365.93 210.99h0M362.45 200.14h0M361.61 196.53h0M397.54 151.94h0M394.8 146.19h0M384.47 153.16h0M387.19 141.47h0M382.01 141.71h0M387.82 153.61h0M382.66 153.79h0M382.26 149.8h0M383.16 135.62h0M399.08 150.45h0M378.89 146.37h0M389.13 137.94h0M401.03 145.12h0M384.5 192.69h0M398.58 193.06h0M397.36 190.21h0M381.14 188.99h0M394.58 174.05h0M385.05 178.58h0M395.67 192.31h0M385.51 193.69h0M395.74 179.62h0M396.66 193.85h0M403.47 132.2h0M418.84 128.34h0M422.08 115.96h0M420.42 119.07h0M427.55 133.04h0M414.07 125.41h0M422.58 123.68h0M431.61 129.27h0M427.77 168.95h0M420.12 162.65h0M429.33 166.8h0M411.87 157.81h0M420.72 164.96h0M405.18 164.05h0M408.24 154.77h0M417.67 161.2h0M401.71 167.34h0M417.64 207.39h0M409.51 204.73h0M415.71 203.77h0M420.88 213.35h0M405.22 206.76h0M408.53 211.59h0M431.29 202.59h0M437.74 138.09h0M435.96 144.39h0M450.05 150.53h0M455.9 138.33h0M443.34 153.44h0M441.14 155.24h0M434.95 155.47h0M438.38 146.57h0M444.35 183.67h0M443.61 192.53h0M453.48 186.47h0M456.84 179.92h0M430.61 179.37h0M451.21 187.88h0M448.21 194.73h0" stroke="#0c9e0c" stroke-width="2.4" stroke-linecap="round" fill="none"/><path d="M319.55 148.65h0M340.03 147.36h0M319.76 149.4h0M331.19 139.35h0M322.55 149.87h0M333.76 141.72h0M335.44 140.9h0M344.36 150.5h0M330.63 150.67h0M332.56 141.12h0M330.71 156.02h0M323.97 140.4h0M338.08 174.75h0M342.49 189.78h0M326.57 178.06h0M347.33 185.77h0M346.02 181.78h0M321.51 191.06h0M321.27 186.25h0M329.73 190.88h0M341.57 176.36h0M319.42 181.71h0M339.37 180.71h0M338.3 181.23h0M348.81 123.04h0M348.91 125.44h0M365.95 129.84h0M352.73 128.76h0M354.85 131.45h0M360.01 120.1h0M371.86 135.18h0M374.43 122.73h0M359.64 134.18h0M351.45 117.54h0M372.19 123.19h0M364.93 157.71h0M354.38 166.38h0M362.38 162.36h0M368.08 204.77h0M371.25 195.23h0M357.26 202.18h0M366.99 202.23h0M354.95 201.82h0M359.07 203.41h0M357.95 214.58h0M373.48 196.32h0M397.54 153.53h0M390.24 144.57h0M394.27 142.28h0M397.02 155.86h0M380.86 143.79h0M399.16 140.42h0M382.59 136.43h0M386.96 149.27h0M384.24 147.24h0M381.92 150.97h0M379 147.15h0M377.28 153.02h0M377.05 183.57h0M376.35 191.8h0M396.82 188.73h0M386.17 181.53h0M402.58 181.25h0M401.26 186.02h0M401.63 126.75h0M414.27 136.25h0M426.98 128.68h0M409.56 122.08h0M411.58 133.43h0M402.28 130.54h0M419.61 170.75h0M420.52 163.09h0M408.27 163.73h0M426.04 155.11h0M408.87 160.25h0M420.79 165.15h0M405.49 171.98h0M413.31 174.12h0M412.04 163.98h0M408.43 155.94h0M409.55 208.56h0M428.51 204.58h0M415.14 202.77h0M435.81 147.53h0M448.96 145.51h0M435.99 144.63h0M454.54 142.31h0M431.93 144.92h0M457.76 150.47h0M433.1 150.3h0M449.06 155.75h0M447.08 149.5h0M451.6 193.29h0M437.11 194.22h0M453.81 190.01h0M451.1 184.84h0M431.9 185.82h0M459.82 182.56h0" stroke="#30d430" stroke-width="2.4" stroke-linecap="round" fill="none"/><path d="M338.13 153.21h0M325.93 137.56h0M326.93 147.13h0M335.63 145.48h0M342.75 152.38h0M338.44 141.52h0M329.8 146.45h0M331.25 153.5h0M345.82 144.4h0M341.78 148.2h0M332.32 135.06h0M341.85 191.82h0M341.43 182.34h0M318.77 181.48h0M339.59 176.32h0M332.23 191.76h0M321.23 176.08h0M325.59 189.87h0M319.5 182.29h0M354.34 134.01h0M351.72 133.73h0M365.84 166.54h0M358.04 174.54h0M364.88 156.97h0M365.51 162.87h0M364.76 158.74h0M352.03 168.68h0M352.49 156.26h0M354.85 161.74h0M356.15 161.95h0M362.3 160.82h0M358 164.75h0M375.28 165.09h0M370.81 211.5h0M367.37 195.89h0M352.54 202.17h0M356.16 205.11h0M361.98 197.57h0M351.91 206.25h0M359.39 202.32h0M396 139.46h0M392.88 143.3h0M377.69 144.67h0M374.73 140.61h0M389.53 137.74h0M398.9 153.36h0M398.23 145.65h0M387.59 137.21h0M381.29 148.43h0M387.43 190.81h0M386.64 174.51h0M394.38 185.32h0M378.34 182.56h0M387.84 173.72h0M397.91 182.74h0M377.62 193.67h0M382.33 173.6h0M384.41 173.72h0M393.3 179.78h0M378.87 181.06h0M377.2 176.23h0M404.15 127.24h0M409.42 119.8h0M418.68 121.42h0M425.12 119.98h0M415.78 127.08h0M405.54 122.87h0M418.01 127.34h0M416.43 120.54h0M404.34 122.91h0M403.37 125.64h0M425.34 123.49h0M422.51 129.06h0M414.49 160.38h0M419.38 168.41h0M420.06 161.78h0M424.77 172.34h0M415.31 165.65h0M411.29 211.59h0M412.4 210.16h0M419.04 207.26h0M406.25 203.65h0M420.42 202.49h0M412.32 207h0M418.51 200.8h0M427.78 211.74h0M424.72 208.97h0M420.93 193.57h0M449.86 141.93h0M435.19 139.67h0M452.01 151.69h0M446.54 151.23h0M459.8 143.87h0M449.37 144.09h0M439.45 147.9h0M447.69 156.03h0M441.82 146.38h0M454.46 145.09h0M453.67 142.62h0M454.68 154.7h0M459.43 139.9h0M439.32 175.78h0M446.09 192.6h0M450.2 173.43h0M450.27 174.5h0M456.99 183.38h0" stroke="#0a940a" stroke-width="2.4" stroke-linecap="round" fill="none"/><path d="M341.25 149.27h0M322.21 137.52h0M325.76 138.7h0M325.52 147.09h0M330.88 145.35h0M334.93 139.79h0M321.01 152.58h0M338.49 138.96h0M324.65 140.63h0M331.73 150.08h0M341.9 151.69h0M343.42 149.74h0M332.1 146.46h0M319.79 149.39h0M341.55 174.64h0M336.02 174.39h0M346.4 190.89h0M336.88 194.6h0M330.94 184.35h0M344.05 181.49h0M326.89 181.84h0M318.46 181.11h0M320.87 184.72h0M345.09 190.7h0M375.56 119.27h0M370.96 133.31h0M364.24 120.07h0M363.8 125.39h0M372.93 123.87h0M351.46 117.04h0M353.38 173.8h0M352.54 168.17h0M352.88 166.52h0M357.29 174.61h0M355.83 175.33h0M356.17 159.15h0M352.61 156h0M353.48 161.72h0M357.07 170.46h0M350.36 165.32h0M370.81 156.14h0M348.7 163.6h0M369.91 161.36h0M373.92 204.05h0M352.42 212.17h0M354.72 195.58h0M361.85 196h0M361.22 209.12h0M366.81 206.72h0M362.32 212.5h0M366.22 212.18h0M351.66 209.16h0M364.07 200.56h0M371.97 202.88h0M352.43 194.3h0M390.85 154.99h0M390.9 138.81h0M386.43 154.29h0M384.32 146.22h0M378.64 143.8h0M376.13 139.51h0M390.38 143.79h0M391.24 152.27h0M389.78 174.85h0M379.59 181.73h0M384.34 179.09h0M385.2 182.15h0M389.22 191.93h0M400.86 175.53h0M429.54 128.51h0M415.01 114.64h0M404.46 132.15h0M413.65 127.26h0M423.15 126.2h0M405.35 125.35h0M426.03 156.39h0M417.65 160.08h0M415.77 169.02h0M428.39 173.2h0M409.86 169.26h0M423.27 155.13h0M413.56 160.86h0M409.67 167.29h0M425.37 170.06h0M417.58 161.63h0M424.04 167.37h0M405.77 170.32h0M406.3 200.74h0M410.29 207.63h0M415.81 197.48h0M410.51 198.16h0M413.94 213.25h0M404.84 209.08h0M420.15 196.93h0M410.59 196.46h0M413.91 197.32h0M414.03 208.18h0M413.96 197.32h0M448.57 143.24h0M430.86 140.3h0M444.73 146.06h0M447.98 143.27h0M457.58 144.51h0M432.7 149.23h0M458.78 140.44h0M434.91 149.68h0M444.04 143.63h0M447.7 144.99h0M440.61 137.7h0M438.27 136.06h0M437.89 150.93h0M455.58 140.42h0M447.73 146.17h0M439.15 147.66h0M443.06 136.46h0M442.6 150.14h0M445.85 137.52h0M451.86 148.29h0M450.17 151.43h0M448.4 176.49h0M442.27 177.84h0M443.07 191.51h0M447.37 178.69h0M434.03 188.17h0M456.92 180.31h0M446.45 192.85h0M436.52 175.99h0M445.47 190.49h0" stroke="#22c822" stroke-width="2.4" stroke-linecap="round" fill="none"/><path d="M319.21 142.93h0M335.43 146.12h0M336.91 156.06h0M345.43 140.04h0M341.21 139.64h0M325.28 181.37h0M337.23 178.81h0M333.85 176.16h0M341.48 190.34h0M332.54 193.52h0M321.67 184.03h0M328.87 173.4h0M329.04 173.97h0M349.96 131.45h0M365.1 118.04h0M366.05 123.97h0M359.92 124.76h0M357.33 123.26h0M375.94 124.98h0M349.17 122.74h0M354.01 116.61h0M369.02 126.08h0M354.68 127.01h0M363.99 123.88h0M369.24 125.93h0M374.64 170.57h0M364.38 159.92h0M350.11 162.65h0M374.4 157.14h0M353.56 167.93h0M373.92 159.47h0M347.73 159.19h0M354.36 165.57h0M351.41 201.09h0M346.91 205.35h0M375 203.09h0M356.69 201.62h0M351.15 197.58h0M367.39 210.79h0M362.04 214.82h0M359.23 205.1h0M394.14 141.61h0M381.13 144.37h0M388.71 151.31h0M394.47 155.72h0M402.85 145.67h0M383.6 152.94h0M388.01 150.45h0M384.28 136.36h0M395.62 152.11h0M384.44 147.01h0M398.11 147.27h0M381.91 193.53h0M385.14 179.01h0M403.07 178.95h0M388.07 187.75h0M375.97 183.49h0M417.58 130.33h0M426.52 125.23h0M426.92 125.34h0M416.76 136.09h0M410.19 132.15h0M418.73 117.64h0M407.49 125.54h0M405.21 128.51h0M420.67 164.89h0M422.78 173.05h0M430.53 164.37h0M404.53 166.14h0M429.28 171.21h0M431.01 161.26h0M423.64 172.44h0M406.94 169.85h0M413.44 204.98h0M420.94 199.48h0M419.78 195.41h0M418.06 197.94h0M410.31 210.58h0M455.49 136.16h0M442.43 151.49h0M434.38 140.24h0M431.26 147.02h0M454.14 153.68h0M436.97 182.58h0M438.52 185.25h0M450.65 185.87h0M455.22 176.1h0M447.03 193.47h0M432.39 186.13h0M437.23 194.33h0M449.62 185.67h0M435.69 180.14h0M438.39 183.36h0M443.44 194.02h0" stroke="#0aa80a" stroke-width="2.4" stroke-linecap="round" fill="none"/><path d="M321.3 139.12h0M332.8 155.17h0M337.67 145.49h0M337.53 135.03h0M341.33 178.9h0M334.93 188.22h0M321.56 187.22h0M337.18 189.78h0M324.17 190.8h0M344.63 183.05h0M330.73 185.16h0M334.93 193.67h0M341.33 180.23h0M372.06 130.87h0M357.98 116.89h0M355.03 123.41h0M368.15 130.93h0M363.31 130.3h0M359.89 129.06h0M376.49 129.14h0M357.3 129.43h0M364.12 116.92h0M349.53 162.15h0M352.46 165.66h0M365.09 158.42h0M357.7 157.35h0M360.3 169.15h0M365.37 155.61h0M361.7 170.16h0M362.38 158.09h0M362.17 154.08h0M358.75 169.8h0M374.02 157.71h0M374.42 200.32h0M359.76 195.59h0M349.27 199.58h0M353.81 201.98h0M374.49 204.16h0M391.16 146.07h0M393.4 155.46h0M382.96 139.97h0M393.7 153.48h0M398.08 148.3h0M392.62 193.77h0M391.27 185.18h0M380.95 189.05h0M379.3 177.59h0M389.12 189.69h0M388.28 192.96h0M386.6 177.93h0M422.04 121.6h0M415.35 132.55h0M418.3 133.23h0M416.29 124.93h0M422.5 125.85h0M411.29 130.8h0M412.94 129.58h0M416.93 121.98h0M420.16 124.08h0M412.85 130.95h0M414.94 159.51h0M418.58 160.74h0M420.91 171.17h0M425.66 165.62h0M420.86 168.09h0M425.42 168.87h0M428.46 166.62h0M409.21 171.49h0M422.56 171.2h0M408.36 164.63h0M406.38 210.87h0M422.18 210.62h0M416.16 202.23h0M407.93 211.43h0M412.25 211.8h0M407.69 197.63h0M425.18 194.01h0M412.89 208.3h0M410.91 204.18h0M405.78 200.57h0M406.64 204.68h0M418.16 209.1h0M430.04 197.18h0M441.37 152.6h0M455.67 142.64h0M448.26 152.09h0M451.26 150.63h0M433.11 138.48h0M454.18 147.56h0M453.27 194.51h0M444.2 192.85h0M441.92 178.79h0M446.41 173.57h0M439.66 192.98h0M458.59 187h0M441.07 176.39h0M458.33 181.89h0M441.41 194.79h0M447.76 175.82h0" stroke="#46e046" stroke-width="2.4" stroke-linecap="round" fill="none"/><path d="M320.78 152.15h0M318.47 147.58h0M332.76 146.83h0M324.49 149.12h0M333.47 142.61h0M342.04 138.35h0M344.25 138.18h0M326.03 184.26h0M329.74 179.54h0M347.34 190.31h0M330.32 183.64h0M343.54 180.83h0M328.49 183.63h0M364.95 128.35h0M374.22 132.03h0M359.36 128.7h0M361.03 115.9h0M362.95 115.98h0M352.48 117.48h0M360.96 120.03h0M348.24 125.31h0M371.93 120.51h0M348.86 133.52h0M349.81 123.32h0M371.25 123.07h0M354.09 119.67h0M369.95 127.71h0M375.51 130.65h0M356.88 123.05h0M350.5 119.73h0M348.52 168.43h0M354.41 170.95h0M374.08 171.4h0M357.6 154.53h0M361.66 169.43h0M357.8 158.9h0M368.71 158.13h0M362.65 169.02h0M354.02 166.76h0M360.43 203.08h0M366.91 201.41h0M360.05 197.87h0M376.57 206.45h0M357.7 206.02h0M362.96 194.23h0M358.25 200.93h0M356.85 213.09h0M368.15 210.25h0M351.77 205.55h0M369.69 194.63h0M371.69 199.21h0M357.97 212.78h0M369.71 210.1h0M400.74 138.64h0M396.43 144.08h0M376.56 137.19h0M385.62 143.47h0M397.12 185h0M374.57 187.48h0M396.98 185.44h0M384.25 191.45h0M390.14 178.61h0M386.35 179.06h0M387.76 182.54h0M400.5 192.39h0M390.13 175.49h0M395.97 174.31h0M383.19 193.33h0M391.43 178.31h0M396.08 186.11h0M418.95 134.94h0M418.26 114.71h0M403.87 131.17h0M427.15 122.42h0M418.44 122.74h0M424.94 133.51h0M428.94 118.11h0M406.61 128.73h0M420.98 133h0M405.74 167.38h0M422.25 168.59h0M401.88 160.73h0M409.15 159.01h0M425.62 162.55h0M412.98 165.93h0M431.8 162.96h0M412.33 168.45h0M418.12 159.54h0M418.32 161.38h0M416.45 207.88h0M403.99 198.36h0M427.44 204.19h0M408.47 210.02h0M423.52 201.62h0M421.79 209.52h0M426.77 205.64h0M404.18 204.57h0M405.7 212.04h0M406.28 211.57h0M458.86 143.94h0M440.28 150.17h0M437.14 154.7h0M447.37 183.96h0M447.36 183.78h0M448.18 188.16h0M434.44 181.21h0M439.81 175.42h0M444.34 186.67h0M432.82 185.83h0M444.93 175.2h0M430.21 182.37h0M449.07 182.5h0M442.1 176.81h0" stroke="#18bc18" stroke-width="2.4" stroke-linecap="round" fill="none"/><path d="M326.77 148.15h0M344.72 136.21h0M343.04 151.14h0M334.43 154.73h0M345.14 150.14h0M322.6 144.57h0M333.44 185.37h0M327.13 193.94h0M335.96 182.37h0M327.5 190.85h0M334 176.91h0M319.55 182.74h0M331.49 188.29h0M336.12 189.38h0M364.58 129.81h0M363.17 136.29h0M369.23 125.98h0M353.09 121.3h0M353.61 126.2h0M350.72 126.53h0M357.54 162.19h0M356.71 172.09h0M348.12 168.98h0M367.88 174.28h0M348.52 166.7h0M370.08 160.15h0M375.04 163.51h0M350.29 155.57h0M363.56 161.93h0M359.9 161.87h0M369.97 213.53h0M357.32 211.05h0M358.94 196.64h0M361.05 208.98h0M364.04 210.51h0M361.23 212.27h0M374.73 210.43h0M366.99 211.85h0M360.17 195.7h0M354.07 203.31h0M396.01 145.52h0M382.57 148.03h0M398.94 152.66h0M391.83 150.7h0M381.69 142.37h0M385.27 145.04h0M392.42 137.79h0M396.98 147.17h0M396.44 185.95h0M379.47 177.99h0M375.84 185.44h0M393.16 188.68h0M375.12 179.94h0M380.8 184.96h0M387.2 190.95h0M379.84 185.44h0M398.56 178.31h0M381.47 180.23h0M396 189.65h0M415.9 131.33h0M421.33 115.61h0M413.31 120.65h0M423.07 117.8h0M430.88 129.96h0M409.85 123.7h0M404.36 123.35h0M407.36 133.97h0M425.8 128.36h0M408.8 130.49h0M423.88 116.18h0M423.88 163.52h0M416.01 158.4h0M417.89 173.37h0M410.42 173h0M426.1 165.64h0M423.51 173.43h0M409.4 208.38h0M421.38 205.35h0M410.32 207.76h0M414.31 198.94h0M416.63 206.99h0M416.9 200.68h0M405.75 213.39h0M404.61 197.07h0M409.17 202.89h0M414.15 212.41h0M408.87 204.75h0M432.68 143.53h0M458.34 146.41h0M445.91 154.4h0M448.13 150.69h0M435.09 153.39h0M433.67 188.08h0M433.63 185.86h0M434.45 184.69h0M439.26 174.58h0M451.07 183.54h0M459.18 183.05h0M444.68 192.79h0M441.15 194.89h0M436.17 194.29h0M432.7 188.19h0M439.45 180.65h0" stroke="#067e06" stroke-width="2.4" stroke-linecap="round" fill="none"/>
<path d="M348.45 142.33h0M333.71 136.67h0M331.07 142h0M329.95 146.66h0M341.78 153.38h0M332.49 153.58h0M341.95 136.59h0M334.88 135.98h0M338.5 147h0M322.49 140.34h0M348.82 144.78h0M331.03 149.32h0M342.34 142.74h0M322.49 148.17h0M347.77 151.02h0M334.44 135.68h0M335.29 147.61h0M319.7 138.09h0M323.99 151.34h0M338.56 143.62h0M328.72 145.57h0M332.02 154.94h0M324.32 143.03h0M325.7 138.55h0M343.4 152.73h0M320.78 141h0M337.27 183.14h0M339.88 180.3h0M321.22 187.34h0M329.27 185.76h0M346.58 177.64h0M339.63 177.55h0M347.17 189.43h0M347.32 181.4h0M339.16 186.88h0M330.34 185.31h0M345.61 191.84h0M337.98 195.07h0M322.42 187.51h0M325.15 190.7h0M345.2 189.78h0M334.61 194.55h0M333.23 182.25h0M322.07 187.25h0M328.08 176.63h0M341.44 174.2h0M328.21 181.44h0M349.01 179.13h0M333.3 180.27h0M329.25 182.83h0M359.4 123.06h0M371.94 117.19h0M357.91 127.9h0M363.76 135.4h0M360.48 123.34h0M367.83 127.5h0M363.54 126.47h0M363.97 126.95h0M369.98 128.35h0M372.22 130.98h0M346.66 131.84h0M368.67 114.86h0M369.76 120.77h0M349.08 124.58h0M357.5 128.17h0M370.05 118.14h0M375.4 131.87h0M354.6 133.34h0M376.26 172h0M360.81 153.5h0M364.41 166.74h0M348.39 172.32h0M369.25 175.55h0M357.38 164.88h0M363.72 158.92h0M354 161.95h0M367.3 172.47h0M361.96 163.86h0M359.37 166.56h0M372.11 161.88h0M351.87 166.45h0M353.8 165.37h0M364.21 169.64h0M365.28 171.16h0M365 199.14h0M356.1 210.31h0M348.67 205.77h0M353.12 206.95h0M346.23 199.94h0M373.47 209.34h0M368.55 210.68h0M367.58 203.04h0M347.26 205.64h0M371.73 214.14h0M345.68 200.87h0M364.49 195.56h0M349.69 199.87h0M376.17 205.2h0M360.16 212.53h0M363.82 205.56h0M365.56 212.89h0M361.86 199.66h0M369.75 194.04h0M349.92 204.82h0M374.5 198.89h0M366.38 196.39h0M379.07 139.75h0M376.61 136.37h0M386.96 136.56h0M388.12 140.25h0M400.01 146.42h0M394.15 138.02h0M385.72 145.03h0M402.77 137.97h0M389.94 134.23h0M375.68 145.79h0M381.5 156.23h0M377.97 150.88h0M391.88 152.54h0M387.12 156.23h0M399.81 149.67h0M373.99 140.9h0M392.34 155.47h0M398.99 143.08h0M393.78 141.05h0M380.79 152.23h0M395.32 141.53h0M383.7 152.49h0M380.06 185.21h0M398.16 194.71h0M391.63 182.98h0M398.54 184.81h0M387.99 175.48h0M380.92 192.62h0M384.67 186.75h0M392.26 183.94h0M392.76 176.56h0M374.7 185.87h0M384.61 173.32h0M388.72 190.17h0M392.69 173.65h0M399.38 175.92h0M377 182.22h0M402.95 186.88h0M393.63 192.17h0M396.75 176.73h0M395.23 185.15h0M401.78 191.85h0M405.18 127.3h0M427.93 129.82h0M415.82 131.45h0M431.02 130.39h0M430.22 124.8h0M413.94 133.2h0M406.35 119.52h0M414.73 118.69h0M411.53 126.43h0M409.58 127.47h0M422.16 135.67h0M422.36 134.78h0M409.33 135.41h0M405.86 122.87h0M419.9 127.94h0M416.08 131.99h0M420.01 120.23h0M418.59 123.27h0M423.23 120.08h0M419.4 127.64h0M422.13 124.87h0M426.28 121.62h0M401.28 130.91h0M416.2 115.23h0M415.8 121.14h0M405.58 129.12h0M402.03 165.92h0M415.59 160.28h0M408.36 156.64h0M429.63 173.88h0M422.51 175.49h0M417.43 163.67h0M402.75 161.39h0M414.83 168.72h0M416.44 166.92h0M402.23 162.83h0M422.08 164.54h0M410.83 175.85h0M413.17 176.45h0M407.4 166.45h0M406.85 175.68h0M402.98 171.92h0M413.6 162.99h0M417.31 167.65h0M411.86 173.86h0M428.8 165.81h0M418.15 155.29h0M403.3 157.33h0M418.48 172.09h0M407.64 156.97h0M429.25 156.46h0M412.02 204.32h0M408.63 207.73h0M408.16 203.8h0M426.17 198.81h0M410.2 211.72h0M406.2 194.05h0M417.37 212.96h0M405.33 209.3h0M413.69 192.8h0M418.3 196.26h0M410.59 203.76h0M418.34 195.14h0M420.92 214.15h0M418.89 193.05h0M422.68 212.76h0M402.59 208.88h0M416.95 203.23h0M438.28 140.51h0M446.21 134.39h0M440.87 134.86h0M431.33 150.64h0M447.36 138.02h0M435.6 148.55h0M445.82 155.54h0M439.41 143.87h0M442.78 140.49h0M448.67 184.88h0M457.06 183.61h0M455.03 176.26h0M455.05 184.79h0M447.97 191.32h0M440.51 175.61h0M438.79 179.37h0M458.63 181.56h0M432.89 178.99h0M453.45 183.8h0M456.18 177.71h0M444.67 182.34h0M440.89 185.35h0M444.12 191.43h0M445.84 179.24h0M440.1 186.07h0M434.57 186.38h0M452.38 190.84h0M432.99 184.7h0M457.07 178.73h0M446.1 179.84h0M429.4 181.67h0M430.93 186.23h0M432.63 175.74h0" stroke="#0aa80a" stroke-width="1.5" stroke-linecap="round" fill="none"/><path d="M332.77 145.33h0M348.14 142.33h0M329.59 142.78h0M329.46 155.26h0M331.64 154.19h0M325.74 156.18h0M321.93 147.63h0M329.62 145.87h0M346.14 153.36h0M330.19 140.62h0M347.72 147.59h0M331.92 150.54h0M328.29 135.67h0M330.41 135.52h0M327.17 142.89h0M333.23 139.82h0M335.73 140.67h0M327.89 155.27h0M331.85 184.44h0M337 177.02h0M320.92 177.41h0M327.45 186.64h0M319.46 181.98h0M334.04 192.1h0M338.48 174.35h0M322.45 178.66h0M324.72 177.72h0M340.04 193.95h0M322.91 187.4h0M336.67 191.24h0M340.84 181.69h0M323.82 188.1h0M343.14 193.12h0M343.67 182.34h0M339 182.46h0M337.89 191.19h0M331.57 179.08h0M346.99 182.43h0M337.43 185h0M345.62 186.9h0M354.3 126.86h0M375.83 122.91h0M364.12 121.93h0M353.23 125.21h0M364.35 121.56h0M369.42 118.42h0M375.3 123.27h0M361.71 130.16h0M376.06 119.43h0M374.06 128.65h0M369.36 125.44h0M375.11 131.3h0M355.09 115.47h0M367.43 121.89h0M358.36 130.67h0M368.86 118.59h0M371.54 126.57h0M354.89 124.89h0M355.52 126.39h0M357.24 129.52h0M363.7 117.99h0M346.24 130.97h0M354.42 123.97h0M365.69 122.36h0M354 160.98h0M375.65 163h0M365.09 173.03h0M364.36 170.86h0M371.22 165.34h0M356.38 163.77h0M360.12 166.09h0M359.54 162.68h0M362.56 158.81h0M348.82 167.34h0M352.74 154.47h0M347.3 157.59h0M376.91 168.36h0M367.66 156.1h0M353.78 154.31h0M367.23 167.26h0M375.41 172.05h0M356.92 160.14h0M349.96 172.79h0M369.78 157.86h0M373.94 169.89h0M354.92 175.79h0M366.56 173.04h0M364.21 172.78h0M359.22 159.79h0M355.42 169.39h0M348.15 160.07h0M345.73 164.8h0M362.69 197.9h0M368.49 213.21h0M363.96 203.7h0M353.54 201.46h0M362.31 195.79h0M349.83 212.11h0M360.39 201.58h0M356.12 193.06h0M367.07 213.01h0M360.38 204.3h0M355.34 213.84h0M371.15 198.11h0M356.39 194.39h0M373.26 199.43h0M363.25 211.18h0M360.58 214.85h0M367.38 202.98h0M372 198.67h0M370.92 205.45h0M355.65 213.98h0M383.48 136.62h0M393.56 145.13h0M376.63 154.67h0M394.71 139.55h0M376.87 149.93h0M386.03 144.63h0M403.41 144.88h0M400.13 151.26h0M378.64 140.02h0M389.12 143.58h0M377.78 147.75h0M378.76 150.62h0M385.23 143.94h0M383.13 145.32h0M380.25 137.49h0M390.59 134.78h0M402.95 139.83h0M390.38 141.09h0M384.14 136.09h0M377.12 143.57h0M390.85 135.71h0M385.72 151.47h0M395.02 152.9h0M389.05 146.81h0M395.58 147.84h0M376.09 154.59h0M400.12 141.34h0M390.79 177.81h0M388.27 194.31h0M375.88 177.77h0M386.39 184.32h0M387.8 186.27h0M391.78 177.7h0M377.57 193.15h0M394.06 192.49h0M385.8 188.84h0M373.82 189.67h0M374.49 184.09h0M388.63 179.52h0M382.96 184.15h0M372.96 186.38h0M385.13 186.89h0M386.67 188.65h0M384.21 193.3h0M378.5 190.89h0M392.87 189.63h0M392.78 193.48h0M402.88 125.84h0M412.16 118.84h0M401.49 125.93h0M421.43 131.15h0M424.07 132.21h0M425.79 127.44h0M421.55 115.59h0M412.27 130.4h0M410.7 120.37h0M419.41 135.29h0M405.96 131.28h0M415.47 126.38h0M418.28 125.76h0M428.62 135.28h0M423.46 125.4h0M421.84 136.43h0M421.02 134.54h0M408.37 116.9h0M401.59 123.48h0M412.79 117.16h0M409.44 116.68h0M416.16 124.74h0M425.53 118.39h0M418.29 135.96h0M414.34 135.34h0M413.19 132.77h0M407.7 117.9h0M421.13 170.71h0M424.43 159.36h0M404.18 160.46h0M419.91 165.85h0M406.37 169.33h0M422.69 164.21h0M414.96 165.83h0M428.55 169.23h0M416.95 161.55h0M416.88 156.83h0M422 170.34h0M405.94 157.61h0M428.73 167.27h0M426.48 172.78h0M416.93 155.12h0M432.11 169.42h0M414.78 159.84h0M431.16 160.33h0M413.17 172.77h0M422.67 166.71h0M429.48 158.04h0M421.16 170.29h0M416.53 211.08h0M424.54 200.51h0M413.59 198.92h0M412.47 212.44h0M406.65 196.6h0M416.93 194.12h0M415.19 215.71h0M420.27 200.3h0M426.22 194.07h0M409.49 202.54h0M423.86 201.81h0M404.81 203.88h0M430.89 204.99h0M403.45 209.26h0M420.68 193.09h0M405.82 198.97h0M416.84 200.2h0M419.04 199.74h0M416.33 204.42h0M407.11 206.92h0M448.53 146.68h0M433.2 137.82h0M444.82 135.97h0M457.93 143.66h0M453.42 152.28h0M447.79 145.58h0M445.03 149.63h0M439.55 155.66h0M442.95 154.8h0M436.75 137.13h0M444.91 145.72h0M447.7 142.67h0M441.59 136.11h0M432.7 146.71h0M458.59 141.79h0M445.12 140.33h0M447.75 154.78h0M442.5 149.48h0M452.09 134.73h0M446.32 155.16h0M444.76 156.32h0M446.45 188.91h0M432.75 178.9h0M459.69 182.9h0M456.93 191.64h0M452.46 178.03h0M456.21 189.9h0M445.76 181.68h0M443.2 188.6h0M445.09 181.54h0M445.7 191.32h0M460.21 183.92h0M434.82 185.79h0M453.61 175.53h0M451.46 186.11h0M454.27 182.76h0M451.56 183.17h0M459.27 181.29h0M446.05 181.48h0M455.86 183.65h0M446.18 183.46h0M432.64 177.77h0" stroke="#0c9e0c" stroke-width="1.5" stroke-linecap="round" fill="none"/><path d="M329.71 137.95h0M346.86 148.4h0M317.73 142.24h0M337.14 134.66h0M341.3 134.87h0M327.2 148.14h0M339.2 135.87h0M336.41 146.29h0M336.83 136.34h0M338.89 134.66h0M331.47 142.64h0M323.68 142.81h0M341.3 137.08h0M334.18 154.79h0M326.38 142.11h0M331.33 151.65h0M333.52 135.27h0M321.55 154.8h0M328.43 184.76h0M340.97 176.97h0M329.63 184.02h0M317.88 181.79h0M340.06 184.3h0M332.8 186.74h0M341.37 173.61h0M345.91 182.76h0M325.37 181.83h0M321.63 178.62h0M325.53 186.55h0M338.62 187.42h0M331.98 194.32h0M330.95 180.55h0M343.79 179.47h0M346.81 182.47h0M319.29 184h0M367.14 116.96h0M360.4 123.99h0M359.58 125.96h0M355.91 131.21h0M370.93 114.84h0M350.08 126.52h0M354.19 135.33h0M348.05 123.32h0M351.49 116.44h0M358.81 125.71h0M362.49 117.65h0M357.47 134.09h0M351.57 122.23h0M355.27 116.06h0M348.53 117.84h0M361.76 129.25h0M350.06 135.18h0M374.48 126.04h0M346.43 126.09h0M352.22 124.81h0M360.68 127.49h0M367.93 135.05h0M375.11 130.82h0M349.94 155.48h0M371.15 170.44h0M372.58 165.34h0M359.4 165.33h0M353.95 157.23h0M353.28 173.48h0M346.95 160.18h0M363.44 175.76h0M353.32 172.94h0M374.59 162.05h0M358.81 170.64h0M358.06 158.03h0M354.19 157.26h0M351.53 159.66h0M357.46 155.12h0M373.63 158.6h0M360.65 167.54h0M376.13 163.56h0M359.77 206.84h0M358.84 209.59h0M357.51 208.07h0M360.52 196.32h0M364.12 195.02h0M352.95 208.74h0M367.05 212.5h0M361.68 206.12h0M357.02 202.39h0M351.44 208h0M373.17 209.7h0M347.5 197.39h0M365.23 205.4h0M352.68 204.05h0M347.26 203.7h0M350.76 194.13h0M369.41 196h0M364.5 214.86h0M351.89 201.08h0M376.74 208.3h0M361.52 200.63h0M348.39 211.61h0M370.51 199.03h0M402.12 149.49h0M399.64 149.84h0M404.21 141.8h0M383.26 140.92h0M398.43 136.05h0M385.32 140.55h0M372.92 145.36h0M396.61 138.32h0M373.94 142.92h0M386.17 153.59h0M378.87 141.01h0M392.39 144.98h0M373.71 145.82h0M378.24 193.92h0M401.54 183.85h0M402.15 185.48h0M374.33 191.39h0M390.34 188.12h0M394.97 178.26h0M388.41 188.42h0M381.35 185.45h0M387.09 185.51h0M385.78 174.58h0M394.55 181.57h0M401.57 192.74h0M397.56 174.33h0M400.86 180.19h0M390.62 183.27h0M380.55 191.2h0M377.98 188.13h0M376.54 181.52h0M386.03 193.61h0M394.84 195.48h0M426.43 133.14h0M416.82 128.07h0M422.29 133.25h0M423.61 115.76h0M405.89 115.42h0M415.3 114.99h0M413.71 122.77h0M401.26 126.37h0M406.25 128.71h0M423.46 123.19h0M430.55 133.42h0M425.66 135.55h0M411.55 115.55h0M422.54 115.54h0M404.61 126.69h0M418.17 115.99h0M403.23 122.93h0M409.29 167.81h0M411.53 165.42h0M421.82 169.91h0M423.2 154.64h0M421.19 162.63h0M411.8 170.2h0M430.38 156.61h0M431.49 160.44h0M423.1 165.23h0M428.5 157.61h0M417.36 166.17h0M406.18 156.2h0M417.15 175.59h0M408.74 156.09h0M426.89 155.99h0M428.18 156.05h0M421.11 171.92h0M431.07 157.19h0M402.92 197.2h0M421.8 209.85h0M410.05 208.68h0M426.03 207.08h0M409.42 200.25h0M416.45 210.73h0M406.41 214.45h0M416.04 206.37h0M416.24 195.68h0M417.25 204.78h0M429.79 206.8h0M415.55 205.61h0M421.35 211.29h0M421.97 208.91h0M406.63 214.43h0M415.28 203.81h0M414.63 193.72h0M412.28 193.13h0M407.06 214.36h0M414.21 197.29h0M413.58 196.32h0M429.65 213.24h0M416.64 199.33h0M404.94 200.39h0M419.05 197.54h0M417.97 213.34h0M423.03 206.04h0M435.37 147.25h0M443.73 144.79h0M433.84 154.69h0M452.27 156.42h0M442 142.21h0M448.74 152.44h0M444.09 137.72h0M443.69 141.57h0M435.06 153.74h0M435.2 145.61h0M437.99 135.32h0M448.06 134.82h0M438.09 149.82h0M437.95 140.76h0M459.14 137.94h0M447.29 139.14h0M438.07 144.69h0M450.29 140.84h0M447.32 151.99h0M447.09 148.5h0M447.16 194.07h0M431.62 180.77h0M450.87 179.26h0M435.43 179.05h0M446.38 194.34h0M444.62 189.39h0M442.4 177.26h0M456.83 187.27h0M452.68 179.11h0M451.06 181.49h0M460.64 184.83h0M450.67 175.51h0M459.62 178.59h0M459.52 179.1h0M439.9 194.68h0M440.6 189.36h0M441.19 178.87h0M448.07 176.91h0" stroke="#0a940a" stroke-width="1.5" stroke-linecap="round" fill="none"/><path d="M344.77 145.26h0M331.95 136.42h0M332.48 134.73h0M336.56 153.07h0M337.24 143.14h0M320.86 149.45h0M345.5 148.92h0M339.45 151.32h0M331.57 143.87h0M324.91 155.71h0M319.62 137.26h0M336.74 156.33h0M347.44 149.04h0M321.91 147.18h0M344.07 150.39h0M346.72 136.57h0M347.06 146.26h0M340.34 144.76h0M317.79 145.85h0M325.74 141.89h0M334 146.72h0M341.2 151.44h0M335.55 149.31h0M332.74 151.79h0M321.62 149.27h0M327.56 154.22h0M332.74 152.48h0M346.72 149.66h0M332.13 154.16h0M320.99 143.27h0M319.4 150.96h0M343.57 177.69h0M346.42 177.46h0M345.43 174.86h0M334.97 187.38h0M322.63 188.98h0M347.46 185.17h0M341.75 195.24h0M348.67 179.87h0M340.83 183.22h0M371.31 136.24h0M348.72 116.39h0M371 116.47h0M364.62 118.94h0M351.13 127.83h0M370.13 123.81h0M355.54 115.25h0M371.1 127.92h0M362.53 136.27h0M358.79 120.2h0M373.36 134.17h0M369.82 120.03h0M368.66 135.03h0M368.96 115.65h0M347.11 132.29h0M361.99 119.73h0M360.08 115.46h0M371.26 120.17h0M347.67 117.97h0M371.6 117.2h0M355.89 117.22h0M356.71 116.18h0M351.49 119.11h0M355.44 135.39h0M359.95 130.2h0M346.2 160.57h0M356.75 172.93h0M347.27 158.39h0M351.62 169.26h0M348.27 164.67h0M362.11 173.02h0M355.95 172.55h0M364.77 162.09h0M369.03 167.46h0M374.68 156.09h0M352.26 159.66h0M361 155.28h0M360.92 169.85h0M348.22 159.96h0M365.09 163.2h0M370.07 156.75h0M348.51 195.4h0M353.94 210.88h0M375.26 211.75h0M362.53 212.96h0M373.78 200.16h0M367.27 206.16h0M375.58 211.12h0M360.89 203.98h0M372.55 195.52h0M353.86 202.29h0M359.91 207.15h0M368.38 193.37h0M348.16 203.31h0M365.38 215.67h0M362.18 196.01h0M360.75 197.2h0M367.52 196.98h0M359.87 203.19h0M370.63 209.85h0M376.8 209.17h0M346.68 205.12h0M354.9 202.81h0M401.18 148.61h0M391.99 143.82h0M394.73 137.27h0M398.59 155.21h0M388.31 156.09h0M398.08 151.78h0M381.56 152.84h0M387.55 145.26h0M373.08 146.73h0M403.98 143.89h0M383.3 141.83h0M394.93 146.56h0M383.97 142.39h0M393.75 140.91h0M387.9 151.76h0M391.89 143.22h0M372.81 141.94h0M396.32 147.54h0M383.58 147.35h0M383.38 139.83h0M393.72 184.61h0M383.74 175.59h0M398.57 192.74h0M391.24 179.33h0M383.87 183.11h0M400.1 185.8h0M383.15 182.7h0M376.61 178.94h0M387.04 173.51h0M375.7 190.23h0M400.69 179.31h0M401.29 175.77h0M394.87 182.22h0M401.07 182.93h0M398.13 177.77h0M386.33 186.68h0M384.74 173.38h0M404.14 182.54h0M394.8 189.31h0M385.19 187.62h0M386.59 195.32h0M381.02 179.55h0M426.8 115.17h0M411.63 119.99h0M432.27 129.81h0M404.8 129.53h0M403.19 130.34h0M416.33 128.78h0M410.1 126.34h0M423.51 119.83h0M411.4 131.06h0M422.17 127.61h0M421.35 122.04h0M410.97 116.77h0M403.24 132.07h0M410.4 128.4h0M422.46 114.77h0M419.83 128.23h0M427.3 129.8h0M420.08 120.62h0M417.97 130.02h0M401.04 127.72h0M408.53 135.32h0M422.5 155.47h0M424.23 164.28h0M429.76 164.95h0M417.74 173.7h0M429.46 167.33h0M416.61 172.78h0M412.94 153.89h0M429.97 166.25h0M417.24 169.16h0M412.23 162.81h0M402.3 161.05h0M405.18 169.26h0M414.4 174.77h0M420.66 159.49h0M413.72 167.45h0M413.05 158.92h0M431.48 161.21h0M432.53 164.01h0M430.56 170.93h0M408.84 203.13h0M410.19 208.06h0M408.23 212.08h0M426.31 214.45h0M422.32 204.46h0M415.41 193.08h0M432.1 203.8h0M425.19 213.46h0M425.9 193.77h0M425.29 206.61h0M425.24 205.67h0M432.66 203.47h0M426.05 208.78h0M422.56 215.53h0M419.5 210.61h0M406.71 200.02h0M415.49 194.41h0M421.84 213.18h0M420.73 201.7h0M409.83 194.49h0M428.36 198.74h0M418.59 209.23h0M414.94 194.83h0M429.64 207.82h0M430.17 207.96h0M443.43 153.08h0M433.73 142.07h0M452.79 153.51h0M438.62 135.51h0M448.36 139.7h0M448.63 154.91h0M444.94 136.77h0M459.93 150.19h0M448.94 141.43h0M438.36 143.12h0M436.32 137.55h0M456.77 140.65h0M453.74 153.88h0M457.83 153.43h0M444.14 141.46h0M446.99 138.02h0M430.47 140.31h0M433.82 147.49h0M432.92 136.23h0M453.89 154.94h0M459.09 150.07h0M434.99 150.27h0M430.59 140.85h0M457.94 149.99h0M433.85 148.5h0M436.84 145.05h0M441.15 145.18h0M449.81 174.78h0M441.96 187.53h0M450.44 181.7h0M438.99 185.55h0M452.92 194.37h0M434.16 183.08h0M453.48 174.8h0M453.71 175.46h0M457.51 190.24h0M435.49 183.63h0M432.07 186.29h0M436.8 186.29h0M446.58 191.25h0M460.58 188.66h0M432.87 190.17h0M443.75 191.47h0M434.44 176.25h0M454.27 180.25h0M434.92 177.36h0M454.46 187.7h0M449.42 190.72h0M449.9 182.65h0M445.33 195.01h0M432.99 191.7h0M446.04 186.75h0M451.53 176.48h0M443.46 186.2h0M439.28 193.31h0" stroke="#30d430" stroke-width="1.5" stroke-linecap="round" fill="none"/><path d="M321.69 151.46h0M333.86 154.22h0M337.81 145.83h0M332.16 147.12h0M323.94 147.83h0M324 138.58h0M328.14 137.54h0M323.7 142.52h0M327.06 141.47h0M328.51 156.7h0M332.99 155.03h0M328.59 139.64h0M323.47 143.66h0M334.32 137.4h0M329.28 137.44h0M331.56 151.77h0M339.64 145.87h0M318.31 140.95h0M322.41 152.34h0M346.56 144.29h0M344.53 148.6h0M339.76 153.58h0M343.67 142.33h0M339.53 144.39h0M325.36 143.9h0M344.34 135.61h0M330.19 194.33h0M345.55 188.56h0M338.74 186.31h0M327.61 178.36h0M342.69 183.18h0M324.75 185.39h0M325.92 179.18h0M334.04 177.5h0M334.44 189.9h0M344.13 189.07h0M331.76 184.23h0M332.15 186.3h0M340.56 192.03h0M341.77 188.76h0M349.36 184.42h0M345 180.19h0M319.82 177.89h0M327.17 191.86h0M344.46 190.98h0M341.06 184.44h0M339.84 192.64h0M362.2 118.49h0M364.83 121.55h0M346.43 128.23h0M358.28 118.76h0M358.05 130.26h0M358.89 118.96h0M368.74 133.84h0M358.97 130.55h0M364.12 123.5h0M355.95 127.18h0M365.48 119.84h0M351.34 121.23h0M357 126.4h0M365.23 128.13h0M354.16 126.63h0M375.82 127.49h0M352.84 122.04h0M353.89 121.38h0M359.11 132.63h0M361.92 124.93h0M353.86 171.62h0M348.07 173.82h0M350.44 170.74h0M354.83 174.21h0M349.93 168.01h0M361.41 166.15h0M349.37 167.36h0M370.52 165.72h0M349.11 158.08h0M361.64 174.04h0M363.1 154.61h0M355.45 175.32h0M363.07 175.35h0M375.35 157.86h0M361.34 167.8h0M361.43 159.95h0M373.05 166.44h0M376.05 158.65h0M362.68 174.07h0M351.15 157.76h0M373.55 165.42h0M352.9 164.19h0M347.81 159.71h0M360.09 154.86h0M358.37 164.78h0M361.34 176.27h0M360.8 175.13h0M361.3 198.98h0M374.01 199.11h0M350.29 198.53h0M347.44 204.57h0M366.82 193.92h0M368.79 204.27h0M350.14 203.92h0M364.58 204.02h0M358.46 206.55h0M364.49 195.03h0M350.85 204.32h0M397.23 151.46h0M394.46 141.64h0M399.19 135.24h0M388.11 142.02h0M401.09 142.43h0M389.29 150.2h0M384.56 142.95h0M398.06 146.78h0M375.9 146.43h0M394.65 145.94h0M392.89 134.84h0M399.54 153.07h0M398.59 141.2h0M398.3 146.5h0M395.63 145.99h0M385.31 138.55h0M392.25 150.14h0M378.54 154.19h0M373.65 152.06h0M379 136.46h0M395.46 138.04h0M394.8 155.13h0M376.27 153.53h0M385.29 152.56h0M386.64 156.69h0M374.96 147.84h0M377.17 140.01h0M377.24 181.54h0M386.52 185.82h0M397.35 177.72h0M400.24 190.26h0M375.19 180.12h0M382.19 174.01h0M396.28 175.91h0M374.75 180.73h0M399.96 175.7h0M379.26 179.22h0M395.34 174.3h0M381.32 187.27h0M389.7 180.03h0M387.65 185.36h0M398.25 194.59h0M403.13 179.89h0M394.37 180.59h0M401.97 180.27h0M388.65 179.16h0M378.97 187.8h0M387.31 173.39h0M394.07 179.99h0M374.46 177.56h0M400.98 177.52h0M395.08 177.87h0M392.25 186.35h0M419.61 120.58h0M415.15 123.55h0M421.76 119h0M411.11 127.41h0M411.46 125.38h0M428.49 122.48h0M414.89 118.39h0M403.69 129.85h0M414.01 133.67h0M401.99 123.74h0M430.26 118.65h0M429.77 117.66h0M407.44 133.22h0M410.79 133.57h0M424.24 125.21h0M427.2 126.74h0M410.98 136.93h0M413.56 124.7h0M415.87 130.8h0M428.15 118.49h0M427.28 116.62h0M430.32 171.62h0M428.2 167.79h0M404.3 160.11h0M412.65 165.37h0M411.07 154.53h0M430.26 158.94h0M406.52 157h0M422.02 172.65h0M402.54 162.28h0M427.2 160.73h0M422.17 165.38h0M417.14 160.17h0M422.31 175.56h0M416.77 157.79h0M430.85 167.63h0M408.5 202.84h0M409.79 199.01h0M429.05 198.79h0M409.35 213.12h0M415.8 208.57h0M417.81 202.76h0M406.3 205.54h0M406.07 213.49h0M401.88 202.47h0M429.75 203.15h0M421.67 208.45h0M410.91 205.04h0M416.13 193.63h0M426.84 206.41h0M420.74 204.18h0M412.44 205.54h0M435.68 142.33h0M434.3 152.34h0M440.17 156.2h0M455.9 139.36h0M430.29 151.32h0M445.38 148.18h0M459.97 149.49h0M452.19 152.43h0M437.64 148.15h0M429.22 148.2h0M438.28 134.22h0M429.68 139.83h0M458.39 140.62h0M454.19 139.04h0M442.22 143.19h0M451.02 146.9h0M443.59 151.25h0M433.89 135.85h0M459.95 144.37h0M447.59 152.67h0M443.35 139.93h0M453.3 135.53h0M457.16 183.81h0M455.06 192.64h0M451.55 195.15h0M433.15 189.23h0M448.91 189.48h0M457.24 193.77h0M439.62 173.5h0M451.66 194.59h0M439.23 180.54h0M460.59 186.15h0M447.24 194.36h0M432.26 183.46h0M443.61 192.51h0M448.21 176.72h0M441.91 177.44h0M444.09 174.7h0M430.16 182.19h0" stroke="#18bc18" stroke-width="1.5" stroke-linecap="round" fill="none"/><path d="M348.42 144.59h0M326.99 152.48h0M334.21 147.33h0M332.81 143h0M337.89 145.31h0M324.86 156.24h0M330 138.45h0M340.09 150.09h0M344.67 149.53h0M324.31 149.73h0M334.02 141.62h0M326.57 190.31h0M321.61 187.36h0M338.01 187.78h0M336.9 193.42h0M328.03 185.12h0M346.76 178.21h0M333.43 190.69h0M345.12 183.16h0M322.45 193.89h0M344.98 192.61h0M339.75 193.26h0M319.44 185.94h0M345.31 184.26h0M340.66 182.04h0M325.63 190.62h0M339.49 194.44h0M344.6 186.48h0M319.35 176.66h0M337.19 177h0M320.16 177.63h0M330.89 190.46h0M333.04 181.36h0M343.02 191.14h0M332.6 185.78h0M330.45 180.8h0M357.97 118.69h0M347.23 129.52h0M354.78 117.02h0M359.42 135.19h0M348.21 120.64h0M356.43 130.88h0M370.23 121.13h0M374.21 120.94h0M365.93 136.61h0M376.79 125.77h0M358.11 127.02h0M354.22 126.27h0M366.05 114.43h0M366.06 128.28h0M370.9 126.57h0M371.15 115.22h0M357.09 120.2h0M345.91 127.66h0M354.97 117.37h0M351.91 166.08h0M359.69 173.85h0M354.77 164.7h0M363.31 159.26h0M369.36 173.49h0M354.64 164.21h0M376.89 170.69h0M351.67 165.92h0M347.69 163.63h0M375.36 165.47h0M356.39 170.2h0M367.9 155.53h0M348.86 172.62h0M346.1 161.82h0M357.08 160.53h0M367.36 162.92h0M369.95 163.31h0M361.34 156.05h0M365.37 155.96h0M375.12 164.25h0M353.78 159.1h0M361 168.19h0M376.69 162.93h0M369.64 200.74h0M373.91 205.83h0M350.93 204.69h0M377.25 200.54h0M359.38 201.05h0M374.63 210.34h0M356.56 206.8h0M348.42 197.24h0M352.06 213.19h0M367.2 192.8h0M359.36 195.36h0M365.67 192.84h0M355.45 193.98h0M353.01 211.54h0M360.72 200.71h0M349.91 208.85h0M373.18 211.15h0M371.64 203.93h0M351.37 202.9h0M363.46 204.56h0M364.72 192.99h0M346.36 198.84h0M372.97 148.17h0M382.25 150.15h0M398.55 141.13h0M401.28 150.94h0M384.66 139.96h0M402.09 137.27h0M400.31 142.67h0M383.93 146.77h0M392.29 136.25h0M387.55 135.05h0M393.49 134.49h0M376.82 151.73h0M378.75 150.1h0M380.06 149.88h0M384.34 146.62h0M375.79 152.41h0M398.75 149.68h0M400.34 152.22h0M397.86 147.7h0M376.85 141.08h0M381.18 147.11h0M399.12 135.49h0M375.82 151.07h0M376.37 193.56h0M398.61 192.44h0M401.26 190.92h0M395.13 174.61h0M388.83 179.73h0M383.23 180.43h0M397.27 177.29h0M393.14 175h0M383.73 174.1h0M375.51 182.69h0M401.31 176.31h0M380.71 190.48h0M391.56 185.08h0M391.07 189.27h0M395.09 191.02h0M386.73 182.68h0M416.3 122h0M432.34 122.94h0M416.85 136.67h0M409.35 128.19h0M416.29 121.21h0M410.4 124.8h0M408.33 130.06h0M413.26 116.93h0M412.15 135.92h0M422.19 129.72h0M420.77 126.65h0M421.3 136.07h0M403.11 122.4h0M428.47 129.49h0M415.72 162.5h0M406.48 165.48h0M425.34 162.09h0M401.89 163.61h0M425.1 168.04h0M424.9 167.6h0M412.5 156.49h0M417.07 167.09h0M421.71 175.94h0M406.04 173.59h0M415.03 174.11h0M428.78 164.33h0M432.15 163.25h0M430.8 166.85h0M431.84 169.66h0M426.13 169.73h0M431.5 170.27h0M419.48 172.66h0M418.16 170.31h0M415.54 155.09h0M415.41 210.88h0M416.65 214h0M418.28 207.71h0M407.34 204.68h0M421.51 194.14h0M428.58 213.59h0M421.12 212.36h0M402.6 201.95h0M431.25 203.8h0M412.43 200.34h0M410.58 210.8h0M420.35 209.27h0M430.18 202.58h0M401.93 200.49h0M409.44 209.45h0M401.57 206.01h0M428.47 201.72h0M453.01 134.74h0M432.48 139.59h0M442.56 134.37h0M445.29 136.78h0M445.75 146.18h0M438.34 143h0M444.24 142.71h0M449.16 141.23h0M452.28 154.01h0M434.84 138.44h0M438.69 137.86h0M440.14 145.22h0M433.43 150.98h0M457.53 140.31h0M455.16 143.93h0M445.45 154.68h0M440.28 137.82h0M434.82 142.55h0M453.33 153.39h0M455.39 152.77h0M455.07 151.61h0M448.82 138.17h0M457.28 148.47h0M443.56 150.93h0M453.14 151.09h0M434.99 143.16h0M455.24 137.8h0M439.73 192.76h0M433.89 175.93h0M445.13 186.99h0M453.39 194.3h0M454.98 187.78h0M459.39 185.3h0M441.16 193.86h0M444.5 192.08h0M438.19 179.11h0M457.08 179.31h0M453.43 185.31h0M453.53 177.26h0M454.57 174.61h0M441.61 177.6h0M445.29 172.83h0M454.74 175.32h0M432.47 179.58h0M459.48 189.2h0M454.84 188.95h0" stroke="#22c822" stroke-width="1.5" stroke-linecap="round" fill="none"/><path d="M332.84 155.77h0M325.2 139.58h0M333.24 136.71h0M338.58 138.66h0M319.32 149.43h0M345.18 140.05h0M348.84 145.74h0M333.36 146.97h0M337.69 138.7h0M322.11 143.19h0M326.46 141.6h0M336.77 144.48h0M321.29 153.5h0M330.75 148.21h0M321.22 139.81h0M348.12 145.43h0M319.07 148.22h0M347.71 183.59h0M336.89 178.68h0M343.39 177.01h0M340.14 183.27h0M328.45 173.08h0M347.5 179.64h0M339.35 193.02h0M345.63 183.76h0M344.95 174.38h0M337.98 182.09h0M335.13 174.29h0M319.3 186.05h0M337.45 182.94h0M341.96 186.22h0M330.42 190.13h0M322.61 189.94h0M342.6 188.8h0M339.91 182.64h0M345.1 176.21h0M327.68 183.54h0M325.13 179.42h0M337.02 173.29h0M322.94 181.82h0M340.97 189.81h0M333.2 179.94h0M370.26 126.17h0M352.83 135.63h0M361.05 130.99h0M374.81 117.53h0M350.57 130.38h0M371.34 117.38h0M365.55 128.53h0M365.82 129.23h0M358.85 133.15h0M362.15 114.75h0M361.78 134.65h0M359.84 116.95h0M360.91 134.89h0M347.13 130.17h0M358.17 134.32h0M374.84 117.26h0M349.93 124.27h0M360.22 116.76h0M354.15 123.24h0M368.23 119.35h0M354 136.53h0M345.6 165.23h0M346.6 163.19h0M376.9 165.77h0M366.6 173.47h0M370.35 172.41h0M357.52 163.28h0M350.93 167.56h0M360.28 166.02h0M357.54 160.81h0M362.95 171.66h0M369.67 157.34h0M366.46 167.25h0M372.59 157.42h0M359.12 169.88h0M367.79 172.14h0M358.85 157.23h0M373.28 165h0M349.42 172.62h0M372.42 166.28h0M354.25 157.86h0M346.91 158.52h0M362.43 201.3h0M349.09 198.85h0M365.2 195.85h0M364.1 197.32h0M361.05 205.24h0M371.24 194.14h0M364.87 194.71h0M353.46 204.74h0M373.1 211.48h0M346.05 201.78h0M361.82 207.08h0M349.66 196.7h0M366.91 198.27h0M375.02 201.45h0M356.44 215.38h0M363.72 202.41h0M356.63 203.52h0M349.34 205.79h0M367.12 196.8h0M371.71 208.53h0M368.75 205.48h0M360.09 202.55h0M375.45 202.51h0M361.16 196.83h0M357.05 195.91h0M367.4 203.88h0M361.98 205.87h0M392.21 151.08h0M374.8 153.84h0M390.16 136.64h0M379.58 136.46h0M390.52 142.83h0M397.1 134.96h0M400.34 146.55h0M398.45 136.19h0M399.01 150.68h0M383.68 147.49h0M384.19 149.99h0M390.01 156.81h0M388.07 147.96h0M386.07 147.38h0M395.01 154.56h0M391.18 144.76h0M387.9 149.47h0M402.45 190.42h0M382.28 179h0M394.41 178.02h0M373.98 185.35h0M400.96 177.28h0M397.36 175.94h0M378.69 174.59h0M375.56 183.12h0M388.34 183.64h0M394.7 191.92h0M376.76 179.87h0M378.05 193.41h0M403.49 187.97h0M402.87 185.61h0M393.61 193.25h0M385.78 185.73h0M392.15 187.5h0M386.25 184.9h0M385.63 184.19h0M391.63 184.55h0M387.73 174.87h0M378.67 190.52h0M430.02 119h0M407.45 116.86h0M417.3 125.08h0M419.24 114.1h0M418.89 119.31h0M411.88 118.62h0M422.2 124.58h0M420.86 125.34h0M430.73 131.4h0M423.73 121.79h0M408.74 123.94h0M417.53 123.2h0M415.88 132.48h0M412.99 131.98h0M425.16 120.8h0M412.65 135.23h0M415.76 131.12h0M424.41 123.34h0M422.5 126.5h0M403.95 121.89h0M431.82 130.94h0M429.96 127.72h0M418.04 172.95h0M406.21 163.99h0M430.79 160.38h0M423.34 161.91h0M405.68 165.47h0M418.35 165.21h0M403.2 161.97h0M418.75 171.11h0M401.55 160.39h0M430 158.85h0M404.43 172.57h0M418.54 172.65h0M426.07 163.98h0M404.47 172.81h0M419.87 157.26h0M428.94 173.16h0M416.95 154.56h0M405.49 167.8h0M403.25 162.1h0M423.05 173.45h0M418.89 171.14h0M414.25 154.09h0M415.98 172.5h0M418.36 204.03h0M405.16 201.9h0M406.27 204.48h0M402.81 207.74h0M430.91 196.18h0M405.93 202.17h0M409.02 207.73h0M409.93 198.45h0M414.06 208.21h0M420.44 196.08h0M416.89 199.64h0M402.44 210.74h0M406.86 197.07h0M409.69 210.23h0M429.24 202.82h0M406.95 212.76h0M430.12 195.52h0M423.86 211.26h0M423.87 210.79h0M432.52 205.25h0M429.35 196.08h0M429.83 200.56h0M413.8 200.15h0M409.52 207.18h0M419.21 193.67h0M431.91 207.98h0M419.26 203.04h0M409.76 199.56h0M434.89 143.21h0M440.75 138.93h0M456.36 146.9h0M454.61 143.25h0M445.35 139.76h0M454.86 136.79h0M435.88 141.61h0M440.87 141.16h0M449.78 152.07h0M431.55 145.61h0M439.45 147.21h0M452.15 141.74h0M457.79 145.25h0M437.25 146.23h0M445.41 154.13h0M447.43 141.7h0M458.59 152.75h0M459.9 138.86h0M458.64 149.99h0M447 194.95h0M452.47 176.6h0M431.66 182.58h0M441.73 187.19h0M459.43 185.64h0M447.91 176.17h0M435.74 179.18h0M448.54 175.5h0M454.5 176.52h0M446.78 186.08h0M444.98 183.31h0M459.14 183.37h0M429.64 181.57h0M440.05 186.7h0M460.56 188.97h0M434.57 185.14h0M458.79 181.47h0M446.15 192.17h0M443.29 187.28h0M445.82 177.16h0M440.64 182.22h0M459.98 186.4h0M448.66 175.31h0M439.6 180.6h0" stroke="#067e06" stroke-width="1.5" stroke-linecap="round" fill="none"/><path d="M329.28 143.26h0M339.25 138.69h0M318.32 140.38h0M329.19 155.02h0M328.7 139.58h0M336.81 155.15h0M321.21 142.69h0M343.82 155.81h0M321.1 147.03h0M336.6 147.03h0M339.7 146.77h0M324.14 142.75h0M341.17 148.3h0M342.05 147.04h0M335.75 153.21h0M344.5 138.61h0M349.3 147.53h0M336.76 146.92h0M336.18 145.35h0M341.94 155.19h0M321.78 136.69h0M332.61 134.75h0M344.77 152.7h0M318.84 180.91h0M337.83 180.04h0M343.28 191.56h0M342.81 180.41h0M343.22 176.02h0M346.32 179.79h0M327.36 182.23h0M333.59 192.78h0M320.69 184.42h0M321.57 189.93h0M327.08 178.03h0M335.78 195.01h0M333.13 182.19h0M325.23 181.64h0M340.28 180.86h0M324.42 175.35h0M335.94 173.92h0M343.37 186.29h0M329.45 178.97h0M342.47 185.45h0M329.59 188.89h0M329.89 191.8h0M323.96 188.47h0M344.53 185.91h0M345.82 181.65h0M347.65 179h0M338.41 179.59h0M360.06 116.55h0M373.65 130.67h0M370.74 117.82h0M374.09 129.36h0M358.35 117.04h0M373.35 129.03h0M372.12 130.6h0M353.06 122.41h0M356.28 122.68h0M352.29 134.83h0M349.54 135.05h0M361.72 129.7h0M356.77 124.41h0M349.96 122.59h0M361.29 128.09h0M362.76 126.92h0M350.12 119.3h0M361.14 118.37h0M368.95 122.61h0M363.53 131.12h0M362.77 176.41h0M358.29 162.99h0M361.58 153.48h0M360.62 172.35h0M357.86 158.61h0M366.21 160.02h0M358.85 156.52h0M372.45 162.32h0M347.75 171.23h0M369.21 160.13h0M364.27 160.8h0M356.34 159.24h0M353.11 170.32h0M357.07 167.33h0M354.66 170.65h0M356.8 161.27h0M360.28 171.43h0M352.97 165.82h0M377.2 163.22h0M368.13 165.3h0M355.14 167.85h0M350.46 207.45h0M376.16 201.25h0M365.41 211.71h0M361.98 211.33h0M376.56 200.05h0M356.3 207.46h0M352.26 213.16h0M347.6 197.05h0M347.95 204.32h0M373 211.2h0M360.82 212.92h0M376.4 205.82h0M357.39 202.07h0M368.2 206.17h0M351.75 193.97h0M366.78 208.42h0M360.27 204.63h0M357.84 205.85h0M358.38 194.32h0M347 204.05h0M373.19 213.2h0M357.58 197.29h0M364.14 194.46h0M395.69 147.07h0M374.35 148.36h0M387.82 148.15h0M401.1 142.05h0M390.03 154.68h0M379.84 136.81h0M403.81 142.97h0M399.92 150.11h0M389.65 144.32h0M394.28 155.98h0M392.05 149.8h0M385.89 134.26h0M377.61 142.54h0M394.88 146.35h0M389.39 155.45h0M387.86 153.37h0M374.62 147.88h0M379.37 134.68h0M392.63 143.65h0M395.01 137.32h0M393.59 150.83h0M382.55 185.05h0M380.75 180.19h0M373.93 189.03h0M373.33 188.99h0M402.52 191.09h0M387.42 193.46h0M382.96 183.88h0M382.88 189.24h0M388.23 194.33h0M385.42 195.12h0M400.86 190.86h0M395.5 178.31h0M385.74 186.16h0M382.7 183.2h0M375.03 177.1h0M386.63 175.98h0M395.8 175.84h0M397.11 187.77h0M390.64 186.33h0M389.66 191.94h0M386.02 189.7h0M402.39 189.24h0M387.01 178.95h0M375.75 191.24h0M424.1 124.44h0M423.08 129.42h0M408.22 128.15h0M411.08 135h0M425.36 126.28h0M431.94 127.65h0M430.2 124.7h0M405.55 127.57h0M412.52 129.6h0M401.85 128.28h0M424.17 126.98h0M431.21 126.98h0M427.97 116.84h0M409.37 118.94h0M421.97 127.33h0M431.99 121.72h0M418.34 118.43h0M430.04 124.25h0M426.77 129.04h0M416.73 125.69h0M422.17 119.4h0M424.32 126.4h0M408.19 154.9h0M431.04 171.16h0M417.71 160.24h0M421.61 159.32h0M413.01 173.75h0M422.18 171.81h0M424.11 154.98h0M408.36 170.37h0M411.09 154.19h0M401.51 163.8h0M428.46 169.54h0M411.82 168.43h0M416.93 172.61h0M409.25 165.29h0M432.41 168.72h0M406.47 155.96h0M414.83 175.23h0M429.38 174.39h0M403.95 169.45h0M428.32 161.51h0M411.79 156.89h0M406.77 164.24h0M430.77 170.12h0M412.38 170.58h0M417.5 153.64h0M411.79 163.05h0M406.16 160.72h0M412.33 165.83h0M406.22 201.72h0M405.68 212.29h0M422.62 206.86h0M406.6 213.24h0M410.95 203.37h0M401.59 203.94h0M419.02 193.9h0M415.81 206.42h0M411.35 213.7h0M418.26 197.69h0M408.65 198.96h0M413.18 208.52h0M410.38 205.71h0M402.99 203.85h0M426.42 204.93h0M417.14 213.16h0M414.74 199.81h0M416.81 199.4h0M406.82 207.84h0M401.11 204.88h0M450.62 137.53h0M443.02 140.9h0M443.11 138.68h0M431.33 139.35h0M443.55 153.82h0M431.82 147.5h0M449.78 134.48h0M432.2 147.83h0M432.56 153.05h0M440.42 138.77h0M449.54 139.39h0M436.1 138.23h0M452.08 135.43h0M450.47 153.03h0M446.84 154.2h0M454.25 145.61h0M440.22 142.65h0M445.88 137.92h0M456.1 138.54h0M431.54 154.05h0M441.65 144.88h0M430.84 138.42h0M454.03 143.18h0M457.9 152.73h0M443.79 140.19h0M457.73 191.73h0M450.61 179.07h0M444.2 182.16h0M439.83 182.18h0M454 176.72h0M453.99 193.2h0M447.4 191.94h0M431.18 186.39h0M434.27 179.08h0M457.96 175.17h0M455.99 190.02h0M454.89 181.19h0M445.28 184.44h0M430.73 181.25h0M447.62 194.57h0M448.79 188.94h0M441.92 185.57h0M457.86 180.37h0M435.77 178.48h0" stroke="#46e046" stroke-width="1.5" stroke-linecap="round" fill="none"/>
<path d="M328.02 142.92h0M328.13 152.03h0M342.54 149.59h0M333.03 142.62h0M326.97 139.94h0M348.27 145.99h0M328.18 143.34h0M320.28 145.99h0M330.69 154.73h0M343.8 145.69h0M347.85 140.39h0M328.15 146.14h0M319.42 143.44h0M328.54 147.37h0M334.77 136.48h0M332.27 138.71h0M338.06 137.53h0M344.56 149.41h0M333.22 140.09h0M322.03 138.74h0M327.03 139.24h0M344.74 190.47h0M327.42 184.03h0M320.44 183.09h0M331.88 181.28h0M346.21 191.29h0M341.41 192.29h0M324.72 180.7h0M331.92 185.27h0M336.28 190.74h0M341.82 178.85h0M347.16 190.23h0M343.8 178.85h0M319.5 178.16h0M342.3 175.84h0M339.97 180.7h0M320.82 177.74h0M345.7 176.43h0M343.55 178.21h0M344 186.2h0M335.93 176.58h0M334.07 194.31h0M326.76 180.29h0M354.91 133.24h0M360.98 135.12h0M361.48 130.18h0M351.41 128.13h0M366.06 123.11h0M348.79 125.28h0M374.17 133.23h0M353.03 135.27h0M362.14 122.06h0M370.39 122.84h0M348.38 129.1h0M364 128.18h0M354.88 124.56h0M351.88 125.85h0M367.05 166.59h0M360.7 170.28h0M370.36 162.71h0M369.96 168.06h0M362.82 173.72h0M371.51 166.63h0M367.6 158.46h0M360.34 167.15h0M371.44 161.63h0M352.67 160.44h0M365.45 171.1h0M359.99 171.79h0M362.11 163.04h0M375.76 170.02h0M349.14 172.24h0M350.04 159.35h0M360.45 169.72h0M374.03 168.4h0M355.24 157.77h0M349.55 165.3h0M354.45 170.74h0M352.94 172.28h0M351.51 164.35h0M358.94 171.27h0M361.45 200.12h0M352.67 209.1h0M352.54 200.01h0M370.44 206h0M347.46 200.62h0M370.41 203.58h0M371.05 211.31h0M348.52 199.72h0M362.33 200.82h0M363.08 204.38h0M350.87 210.19h0M359.84 210.87h0M371.52 196.26h0M372.9 196.44h0M373.7 199.27h0M361.28 212.86h0M385.82 145.47h0M386.71 142.1h0M390.78 141.99h0M381.44 143.49h0M387.68 136.05h0M399.16 138.99h0M394.51 149.14h0M385.24 135.18h0M393.04 137.58h0M395.49 135.86h0M375.56 137.85h0M384.36 151.82h0M389.43 142.83h0M399.41 139.65h0M393.61 155.45h0M383.1 151.26h0M390.6 155.56h0M390.58 151.34h0M396.5 153.94h0M396.02 184.11h0M381.52 183.12h0M394.38 181.9h0M374.43 178.46h0M388.53 190.42h0M386.73 180.84h0M377.03 185.56h0M398.75 192.56h0M386.44 179.23h0M382.89 190.52h0M393.14 186.45h0M384.35 176.99h0M387.96 175.88h0M389 178.96h0M377.89 180.45h0M399.92 189.1h0M398.9 191.09h0M399.34 177.28h0M392.16 189.64h0M425.15 127.54h0M406.51 124.9h0M426.18 126.37h0M418.83 136h0M405.95 121.3h0M411.95 130.99h0M424.3 135.37h0M427.06 135.16h0M409.74 133.1h0M404.99 117.42h0M422.15 128.32h0M405.69 134.14h0M408.51 124.79h0M421.46 125.24h0M423.43 124.09h0M403.09 129.38h0M404.26 117.82h0M416.19 122.37h0M421.91 118.38h0M408.17 132.89h0M419.54 122.77h0M409.15 133.14h0M413.03 127.4h0M402.84 123.83h0M421.3 170.75h0M407.86 154.93h0M429.47 164.4h0M424.59 168.87h0M417.62 169.49h0M417.7 165.91h0M414.29 170.07h0M428.88 171.37h0M409.01 170.34h0M409.75 156.62h0M403.6 172.07h0M410.32 160.27h0M413.44 155.99h0M421.21 160.29h0M405.63 155.94h0M404.11 196.86h0M404.46 198.93h0M419.98 204.32h0M407.37 201.29h0M421.5 202.55h0M429.56 205.12h0M422.13 198.29h0M413.6 194.23h0M413.51 208.43h0M419.84 198.35h0M409.05 203.17h0M425.75 197.12h0M430.83 206.54h0M417.49 214.58h0M409.88 205.39h0M409.71 203.1h0M409.79 203.09h0M439.39 146.67h0M459.04 147.74h0M454.23 145.7h0M456.76 145.55h0M436.22 143.3h0M441.67 142.63h0M436.86 150.95h0M436.09 137.07h0M446.85 135.19h0M447.8 148.94h0M440.74 147.65h0M439.99 141.43h0M444.66 140.21h0M436.64 143.86h0M435.42 145.74h0M446.72 141.93h0M455.43 151.46h0M441.05 136.75h0M438.69 187.76h0M448.05 183.28h0M447.69 190.94h0M452.83 192.36h0M434.43 185.68h0M450.87 175.41h0M444.23 180.08h0M441.82 179.82h0M444.55 174.38h0M448.02 189.23h0M439.61 194.26h0M439.52 185.38h0M451.04 185.82h0M444.31 178.14h0M433.66 189.27h0M443.96 191.55h0M434.23 189.75h0" stroke="#46e046" stroke-width="0.9" stroke-linecap="round" fill="none"/><path d="M324.91 136.94h0M330.13 136.41h0M346.22 144.61h0M326.9 147.93h0M343.75 152.31h0M335.37 137.17h0M320.25 152.38h0M328.15 148.5h0M343.02 149.18h0M325.79 136.27h0M340.63 144.98h0M334.53 153.49h0M330.6 189.47h0M340.22 184.61h0M324.78 187.23h0M334.68 180.5h0M344.61 188.1h0M334.45 187.52h0M334.93 192.9h0M322.96 187.04h0M342.45 190.08h0M332.07 192.47h0M337.19 178.22h0M334.87 187.07h0M332 174.56h0M335.34 182.46h0M319.41 183.35h0M325.38 174.75h0M327.53 194.28h0M343.44 191.58h0M333.49 192.28h0M320.35 189.28h0M368.36 115.14h0M376.06 123.95h0M375.51 124.34h0M370.32 134.82h0M373.51 127.1h0M353.52 129.79h0M364.78 127.77h0M367.17 123.76h0M362.75 125.73h0M371.03 123.08h0M371.39 119.88h0M348.17 125.92h0M369.15 123.21h0M366.02 135.32h0M368.88 131.71h0M369.1 135.63h0M360.28 116.37h0M368.5 123.49h0M373.79 119.64h0M363.56 132.04h0M368.69 161.01h0M372.64 165.88h0M355.27 156.17h0M352.39 172.84h0M356.02 174.27h0M359.9 172.65h0M368.67 162.36h0M359.61 164.6h0M374.4 167.75h0M360.41 174.76h0M372.86 162.02h0M374.2 157.79h0M358.44 213.58h0M367.69 197.19h0M361.49 199.98h0M357.76 195.02h0M355.1 212.16h0M370.09 210.27h0M358.04 209.62h0M371.7 210.6h0M373.96 201.01h0M352.76 212.15h0M363.28 202.27h0M359.03 195.51h0M348.89 200.68h0M370.31 211.42h0M366.49 204.95h0M371.48 202.09h0M352.25 210.84h0M374.9 198.32h0M370.88 202.71h0M388.45 145.09h0M379.95 141.83h0M397.32 143.12h0M387.52 147.47h0M403.31 143.81h0M398.6 147.2h0M388.5 137.46h0M388.67 150.53h0M381.13 151.44h0M393.78 142.8h0M390.32 154.24h0M398.95 149.09h0M401.36 145.95h0M401.09 149.13h0M380.77 149.23h0M392.44 139.18h0M384.59 141.36h0M391.45 155.31h0M395.24 142.59h0M400.63 149.93h0M374.42 148.06h0M400.13 152.19h0M390.59 155.67h0M379.23 191.45h0M383.07 173.64h0M390.59 192.48h0M377.64 181.59h0M385.6 182.76h0M377.69 184.57h0M385.12 185.57h0M380.11 182.5h0M401.92 185.54h0M378.47 187.18h0M391.54 180.44h0M400.48 191.54h0M384.93 184.47h0M385.28 194.69h0M397.96 176.87h0M380.5 186.25h0M381.94 189.73h0M387.3 188.47h0M392.31 193.59h0M396.65 181.17h0M401.71 176.96h0M394.69 177.65h0M392.11 189.8h0M380.61 178.7h0M423.19 123.03h0M411.17 115.35h0M424.94 119.54h0M410.77 134.54h0M417.12 132.12h0M420.37 130.23h0M409.11 116.49h0M411.68 123.31h0M412.65 170.26h0M402.18 161.5h0M413.79 158.2h0M417.91 175.74h0M409.18 169.4h0M412.64 163.8h0M414.29 162.45h0M411.33 175.3h0M408.47 155.4h0M423.51 165.19h0M412.35 156.79h0M415.66 161.72h0M416.24 158.71h0M413.54 155.41h0M412.87 163.21h0M413.97 198.49h0M415.71 206.89h0M419.43 196.21h0M408.6 204.58h0M424.44 204.87h0M407.2 212.84h0M409.19 203.28h0M402.71 205.02h0M409.47 200.38h0M416.8 199.09h0M430.14 209.86h0M413.18 213.15h0M410.19 207.41h0M425.55 210.1h0M403.1 201.85h0M421.91 197.1h0M404.09 205.35h0M421.29 210.25h0M431.25 205.93h0M418.05 198.33h0M427 206.26h0M420.36 195.38h0M430.94 205.26h0M439.73 153.65h0M450.74 138.97h0M451.28 142.57h0M449.49 142.11h0M440.27 141.64h0M455.54 149.88h0M444.88 145.63h0M439.77 143.88h0M455.64 141.73h0M458.42 138.37h0M437.19 138.71h0M456.37 145.66h0M457.03 143.58h0M444.85 137.8h0M440.95 148.69h0M431.95 149.62h0M453.93 137.08h0M451.78 144.46h0M458.21 147.73h0M456.94 140.84h0M455.84 178.13h0M453.81 181.02h0M435.45 185.02h0M442.19 193.68h0M435.7 193.46h0M440.02 190.43h0M437.18 182.75h0M430.49 185.52h0M441.05 194.28h0M449.09 190.99h0M446.21 184.85h0M451.42 177.44h0M433.56 193.2h0M452.98 181.42h0M447.37 179.9h0M439.94 178.45h0M437.15 176.9h0" stroke="#067e06" stroke-width="0.9" stroke-linecap="round" fill="none"/><path d="M341.78 146.98h0M332.37 150.51h0M336.87 138.28h0M320.62 145.8h0M335.74 141.82h0M337.61 148.54h0M323.75 145.59h0M340.49 149.11h0M325.44 144.94h0M343.08 142.32h0M329.72 151.61h0M323.04 142.72h0M346.99 140.15h0M326.5 151.36h0M336.38 154h0M329.56 152.89h0M339.78 147.4h0M337.12 189.1h0M323.3 180.13h0M331.12 179.23h0M323.24 179.93h0M335.63 190.72h0M322.59 186.8h0M329.47 184.64h0M332.06 188.17h0M345.19 184.34h0M328.31 182.92h0M338.27 174.15h0M338 179.6h0M335.2 174.16h0M348.06 181.45h0M339.9 189.24h0M337.02 185.11h0M325.74 177.41h0M320.06 183.59h0M336.58 188.09h0M347.39 186.45h0M342.73 183.66h0M361.51 117.02h0M374.47 124.26h0M354.01 122.56h0M370.85 126.93h0M356.41 134.7h0M374.11 119.61h0M363.36 125.57h0M351.69 129.26h0M369.18 127.33h0M349.08 119.22h0M360.52 131.52h0M369.79 121.51h0M373.47 125.56h0M362.76 128.44h0M365.11 126.33h0M374.5 125.76h0M375.45 125.15h0M360.01 129.49h0M374.22 167.39h0M371.77 161.69h0M371.68 171.49h0M374.67 162.81h0M358.68 164.42h0M369.6 171.96h0M367.15 159.52h0M365.37 161.36h0M370.59 156.45h0M376.03 167.41h0M356.5 157.97h0M372.91 163.24h0M364.21 160.57h0M370.89 157.92h0M357.23 173.9h0M370.8 171.09h0M365.33 172.24h0M365.97 172.88h0M370.48 172.08h0M360.53 165.36h0M375.74 165.73h0M348.74 159.69h0M350.2 165.8h0M362.42 174.3h0M357.72 168.9h0M363.45 156.01h0M372.02 174.31h0M371.22 157.8h0M360.33 195.13h0M347.32 201.26h0M357.71 213.18h0M352.5 209.65h0M375.77 207.57h0M368.62 197.82h0M366.43 197.26h0M353.77 206.2h0M356.53 199.38h0M361.99 196.89h0M349.63 208.06h0M351.41 199.99h0M348.15 210.77h0M365.99 196.64h0M348.91 198.94h0M350.17 203.72h0M348.47 198.54h0M355.58 194.72h0M372.61 207.94h0M350.46 198.62h0M368.73 211.05h0M371.17 206.93h0M354.23 211.37h0M378.71 147.05h0M380.79 154.04h0M395 151.66h0M392.29 144.74h0M402.05 149.87h0M393.57 145.04h0M376.97 137.78h0M398.12 149.3h0M388.42 148.77h0M382.04 144.95h0M401.23 143.55h0M378.32 143.36h0M379.86 154.1h0M378.68 142.31h0M392.34 155.31h0M378.72 154.4h0M387.24 149.83h0M396.9 183.09h0M391.95 179.42h0M398.04 176.89h0M383.12 184.86h0M399.53 190.06h0M403.11 181.19h0M401.51 181.41h0M401.35 186.17h0M396.98 191.05h0M375.65 177.52h0M392.03 193.99h0M378.81 190.8h0M401.98 187.49h0M393.28 185.07h0M379.94 194.15h0M388.8 176.99h0M379.1 183.35h0M381.85 180.43h0M403.67 125.7h0M417.63 123.67h0M413.51 132.48h0M430.68 125.59h0M415.81 124.54h0M409.38 115.28h0M429.2 131.63h0M424.38 125.21h0M414.81 116.99h0M418.84 115.31h0M405.92 119.53h0M430.31 132.52h0M417.63 121.61h0M412.73 131.66h0M416.82 132.92h0M427 122.83h0M408.4 129.34h0M413.83 174.67h0M418.58 168.96h0M413.77 156.23h0M428.03 171.68h0M414.59 159.99h0M410.42 160.37h0M405.45 167.02h0M412.25 164.2h0M406.28 174.51h0M409.59 174.59h0M419.02 158.24h0M426.13 156.4h0M427.68 172.51h0M422.48 173.74h0M402.46 170.02h0M408.02 164.97h0M419.79 158.6h0M425.4 169.72h0M423.61 164.91h0M423.53 154.64h0M407.19 164.12h0M416.53 172.82h0M407.71 198.61h0M430.13 204.97h0M417.8 209.9h0M418.43 206.5h0M411.88 210.61h0M420.47 208.34h0M417.93 202.25h0M405.25 210.6h0M420.38 196.45h0M419.13 212.66h0M402.29 199.34h0M423.73 206h0M418.84 209.99h0M407.97 198.05h0M419.26 195.58h0M413.49 208.24h0M403.16 197.34h0M430.67 207.73h0M419.02 200.68h0M419.32 214.36h0M456.94 149.18h0M447.67 155.55h0M435.98 141.21h0M433.4 152.24h0M444.13 139.33h0M453.12 152.31h0M447.74 154.08h0M447.65 148.92h0M446.66 153.54h0M444.31 147.63h0M453.86 151.33h0M444.93 150.46h0M446.55 154.93h0M440.92 135.97h0M446.84 139.79h0M442.09 138h0M455.28 154.6h0M454.99 146.74h0M430.91 150.27h0M432.34 145.27h0M439.08 136.21h0M444.59 149.67h0M455.29 153.85h0M440.59 136.25h0M431.35 143.86h0M434.23 139.09h0M447.46 179.51h0M450.18 177.21h0M435.88 192.94h0M455.25 178.87h0M448.43 180.77h0M446.63 191.74h0M453.46 187.56h0M436.56 182.74h0M430.83 187.07h0M454.25 178.59h0M438.98 175.03h0M435.95 177.15h0M456.36 180h0M436.25 184.66h0M430.86 178.65h0M443.65 188.57h0M447.49 189.79h0" stroke="#0aa80a" stroke-width="0.9" stroke-linecap="round" fill="none"/><path d="M332.56 142.06h0M335.07 135.85h0M323.04 150.51h0M335.1 150.16h0M341.79 136.1h0M345.49 152.93h0M342.25 139.17h0M339.89 146.84h0M332.41 154.93h0M326.25 141.58h0M330.95 140.36h0M342.89 141.76h0M330.48 138.94h0M337.15 147.54h0M321.14 145.31h0M319.84 149.2h0M336.9 145.2h0M334.09 151.65h0M340.42 190.56h0M332.11 187.92h0M329.1 192.69h0M339.77 176.21h0M343.46 185.51h0M346.39 189.4h0M320.28 177.46h0M341.24 193.85h0M339.13 179.37h0M342.5 192.42h0M330.18 190.96h0M333.03 179.71h0M321.24 181.87h0M352.52 130.91h0M357.07 115.79h0M364.85 124.19h0M358.87 117.22h0M373.6 118.28h0M373.6 128.11h0M372.33 131.68h0M373.78 118.89h0M355.87 131.5h0M376.18 128.92h0M356.23 135.61h0M354.44 126.19h0M371.71 127.59h0M366.22 124.96h0M366.54 125.64h0M347.67 124.92h0M368.99 131.33h0M353.1 135.15h0M363.57 162.81h0M366.38 165.73h0M354.62 160.78h0M372.51 169.97h0M362.79 167.56h0M372.17 171.61h0M350.96 174.23h0M364.03 170.42h0M354.07 155.67h0M369.39 171.32h0M367.83 161.34h0M370.64 155.35h0M353.79 163.95h0M352.71 165.91h0M353.87 162.63h0M356.77 155.53h0M359.23 164h0M359.77 169.61h0M362.18 168.74h0M355.84 166.93h0M360.75 168.34h0M364.37 196.22h0M359.03 210.97h0M362.69 196.07h0M356.23 204.03h0M353.98 204.24h0M351.25 200.79h0M370.53 204.68h0M372.04 198.83h0M372.91 195.57h0M353.63 202.69h0M368.71 201.49h0M374.94 199.96h0M376.06 205.77h0M375.11 207.53h0M355.57 196.28h0M357.25 212.9h0M352.29 208.03h0M361.81 214.2h0M367.59 211.49h0M363.11 202.19h0M351.79 194.7h0M385.27 151.22h0M400.56 143.78h0M390.1 154.89h0M388.74 152.24h0M401.93 148.93h0M396.54 142.92h0M398.83 148.29h0M398.88 138.11h0M385.01 146.3h0M387.02 154.97h0M402.9 148.49h0M385.78 153.61h0M392.39 149.27h0M397.44 139.53h0M390.11 138.61h0M393.07 136.86h0M383.39 142.95h0M390.13 152.52h0M375.44 185.39h0M383.72 173.95h0M381.82 175.66h0M378.81 191.52h0M379.69 192.58h0M393.54 185.95h0M380.24 192.36h0M376.36 186.39h0M397.29 176.04h0M395.07 179.71h0M391.39 183.17h0M390.89 188.13h0M379.19 184.84h0M376.05 180.53h0M380.6 180.29h0M374.29 179.99h0M380.69 183.13h0M388.61 179.21h0M387.66 192.58h0M393.58 185.45h0M389.91 187.84h0M398.37 182.68h0M394.18 185.96h0M385.53 185.87h0M404.95 118.78h0M415.44 123.34h0M410.53 130.87h0M410.07 120.54h0M413.84 126.86h0M418.64 130.79h0M423.85 133.5h0M407.84 131.46h0M418.6 122.25h0M405.85 125.39h0M426.57 131.63h0M430.96 123.98h0M417.54 124.22h0M419.68 128.67h0M413.9 131.04h0M425.35 115.63h0M407.69 126.92h0M424.25 118.02h0M402.73 129.56h0M411.14 123.08h0M424.07 132.62h0M431.51 126.73h0M404.73 125.64h0M404.38 129.59h0M424.56 133.23h0M408.13 132.43h0M430.9 167.7h0M417.7 174.16h0M424.39 169.41h0M417.92 158.17h0M414.06 159.46h0M417.7 175h0M411.7 165h0M423.7 169.72h0M419.41 172.72h0M416.7 165.51h0M429.31 172.4h0M408.29 156.28h0M427.95 161.9h0M423.57 154.7h0M417.94 158.14h0M427.79 162.58h0M411.71 158.76h0M412.31 162.59h0M420.81 154.69h0M428.59 207.58h0M428.52 196.62h0M419.89 208.97h0M415.13 205h0M420.63 197.56h0M409.58 195.79h0M415.41 197.36h0M430.84 200.89h0M402.17 205.42h0M424.83 205.4h0M412.78 213.57h0M414.64 198.81h0M450.09 147.47h0M433.76 143.42h0M437.1 154.41h0M452.06 143.59h0M457.45 147.5h0M452.47 151.02h0M451.8 143.77h0M457.45 147.03h0M443.21 151.96h0M444.66 151.89h0M446.94 146.25h0M433.19 153.77h0M434.1 137.79h0M440.51 150.5h0M451.5 152.99h0M430.53 149.68h0M443.83 135.05h0M448.29 143.64h0M445.76 144.08h0M434.61 140h0M430.76 147.64h0M448.82 153.94h0M451.44 153.89h0M449.34 151.25h0M435.19 180.95h0M454.61 178.24h0M449.55 175.11h0M448.14 182.03h0M448.43 191.24h0M448.54 191.33h0M432.46 191.21h0M440.4 176.15h0M448.19 180.79h0M432.3 184.34h0M451.32 187.57h0M430.4 188.41h0M459.71 185.77h0M437.11 192.4h0M445.4 191.45h0M432.46 185.65h0M442.56 194.18h0M435.08 180.49h0M452.04 175.88h0M443.29 175.43h0" stroke="#18bc18" stroke-width="0.9" stroke-linecap="round" fill="none"/><path d="M331.3 135.2h0M334 135.31h0M334.86 138.55h0M338.56 154.23h0M327.49 134.98h0M345 145.4h0M334.86 136.88h0M332.1 136.19h0M341.59 146.02h0M323.28 145.45h0M342.13 137.86h0M329.62 143.57h0M343.12 151.21h0M319.92 148.12h0M331.69 151.54h0M333.71 145.18h0M335.88 186.26h0M325.68 183.63h0M332.73 185.55h0M321.47 185.83h0M321.71 192.96h0M332.34 190.12h0M337.98 182.08h0M339.23 187.83h0M324.77 180.67h0M324.23 184.8h0M330.69 183.69h0M332.03 183.56h0M345.31 187.08h0M341.09 183.44h0M329.13 193.57h0M331.75 173.63h0M318.9 187.68h0M340.88 191.7h0M327.03 179.28h0M323.93 188.21h0M322.21 179.14h0M326.89 192.53h0M339.59 188.67h0M350.17 124.35h0M372.15 117.75h0M374.67 128.85h0M364.08 129.04h0M375.29 131.5h0M364.25 128.08h0M363.16 128.79h0M356.09 127.87h0M375.32 123.93h0M361.97 123.85h0M369.58 124.03h0M362.3 135.17h0M364.5 126.23h0M353.18 122.64h0M353.02 123.03h0M349.53 125.05h0M371.95 134.12h0M357.43 164.32h0M350.94 169.98h0M362.29 169.05h0M372.81 168.85h0M352.28 161.88h0M352.26 164.34h0M349.47 166.29h0M373.53 168.4h0M347.94 165.11h0M356.23 160.31h0M353.96 162.51h0M352.3 163.85h0M362.25 160.51h0M363.98 174.44h0M365.16 161.9h0M371.02 158.01h0M349.35 209.42h0M355.78 198.01h0M368.46 208.06h0M367.84 203.08h0M363.58 200.43h0M361.17 210.18h0M363.03 208.54h0M354.31 203.62h0M368.86 211.67h0M354.03 199.95h0M364.76 208.41h0M357.36 193.79h0M362.71 213.1h0M356.87 208.58h0M369.61 209.66h0M349.26 202.98h0M347.61 205.95h0M372.79 204.97h0M375.36 205.43h0M375.79 148.89h0M402.68 141.84h0M396.29 143.74h0M402.1 146.82h0M380.65 137.82h0M398.92 144.01h0M392.58 152.27h0M381.12 141.03h0M398.01 138.12h0M379.92 141.57h0M387.78 143.1h0M375.93 143.2h0M376.46 148.83h0M400.44 151.71h0M389.6 136.02h0M401.09 144.51h0M375.88 184.86h0M400.48 185.15h0M396.45 174.28h0M382.21 179.48h0M378.56 179.5h0M383.25 188.06h0M399.56 177.69h0M401.89 177.59h0M400.58 181.88h0M394.48 174.08h0M377.47 176.88h0M398.89 177.21h0M388.99 189.93h0M382.43 177.36h0M377.53 187.65h0M383.7 194.66h0M380.76 174.54h0M386.13 173.88h0M397.47 189.75h0M385.57 174.15h0M403.17 184.06h0M384.87 184.87h0M385.1 179.27h0M413.68 117.39h0M424.3 124.86h0M410.9 122.13h0M422.61 119.59h0M424.99 117.36h0M425.58 118.91h0M422.06 135.56h0M417.4 119.76h0M414.6 118.06h0M410.34 118.89h0M410.27 131.13h0M423.98 123.78h0M408.72 122.46h0M415.61 115.19h0M414.67 135.6h0M423.9 115.26h0M410.17 135.05h0M425.48 118.03h0M413.14 125.26h0M427.55 125.2h0M425.14 119.16h0M407.5 161.07h0M403.42 161.61h0M411.1 155.27h0M419.37 174.11h0M425.24 163.54h0M411.81 167.13h0M406.93 172.09h0M421.24 159.66h0M429.92 160.57h0M429.46 169.8h0M416.96 158.15h0M409.36 169.79h0M404.95 173.6h0M425.73 167.54h0M414.19 159.66h0M423.6 156.77h0M414.8 159.26h0M425.64 156.69h0M421.63 169.8h0M422.96 168.36h0M419.43 196.67h0M409.79 198.45h0M408.46 208.33h0M403.24 211.01h0M429.13 204.52h0M416.47 205.36h0M418.94 201.37h0M410.55 212.36h0M424.44 213.94h0M421.11 214.49h0M413.62 204.02h0M419.88 212.09h0M418.74 202.27h0M422.63 209.01h0M405.56 211.07h0M418.51 206.88h0M426.64 209.18h0M417.93 202.06h0M416.84 213.39h0M419.25 199.13h0M456.38 146.62h0M458.03 147.19h0M437.56 148.4h0M440 154.24h0M447.95 142.64h0M441.81 155.43h0M443.6 150.46h0M436.61 140.48h0M450.89 145.06h0M448.15 139.29h0M432.41 141.36h0M432.04 153.02h0M451.54 147.58h0M449.06 135.28h0M454.64 140.95h0M433.63 139.47h0M436.63 175.99h0M444.51 178.26h0M431.65 184.28h0M453.6 185.96h0M437.01 193.73h0M455.72 176.55h0M439.12 179.88h0M454.02 182.71h0M453.33 193.79h0M440.68 185.52h0M439.3 185.85h0M451.05 176.04h0M446.93 191.5h0M443.56 177.01h0M435.84 183.48h0M443.44 178.44h0M449.73 191.94h0M435.85 190.84h0M452.04 184.01h0M448.39 191.66h0" stroke="#0a940a" stroke-width="0.9" stroke-linecap="round" fill="none"/><path d="M327.25 153.95h0M321.5 141.43h0M320.83 138.61h0M326.91 145.09h0M336.79 153.08h0M319.98 141.42h0M321.55 143.21h0M341.98 135.39h0M330.31 143.77h0M330.57 143.51h0M330.62 142.93h0M328.65 151.12h0M345.65 151.6h0M332.64 144.39h0M340.46 153.94h0M341.23 155.01h0M321.98 149.75h0M346.19 142.93h0M333.33 150.88h0M340.3 142.26h0M332.38 137.53h0M331.55 152.12h0M346.96 138.5h0M347.93 149.8h0M336.76 184.79h0M344.76 180.99h0M327.25 187.51h0M326.13 179.17h0M328.73 194.32h0M345.3 188.84h0M327.88 177.36h0M323.83 184.5h0M327.14 183.56h0M339.77 180.34h0M326.17 181.8h0M336.88 188.69h0M338.07 194.77h0M342.03 183.27h0M333.71 188.03h0M359.17 136.07h0M370.17 118.96h0M371.86 125.01h0M360.78 127.14h0M359.81 121.29h0M348.37 119.62h0M362.5 115.29h0M361.14 124.21h0M370.59 129.58h0M370.01 125.21h0M352.04 119.43h0M365.14 129.16h0M354.87 120.2h0M348.42 118.95h0M354.16 129.18h0M375.78 123.7h0M364.93 125.31h0M374.33 118.51h0M351.68 132.16h0M349.86 121.73h0M346.62 123.98h0M359.89 135.26h0M351.36 155.42h0M360.49 158.04h0M358.7 155.15h0M362.04 163.58h0M358.46 163.13h0M359.13 156.32h0M353.3 167.02h0M359.13 172.7h0M360.99 156.08h0M365.16 168.12h0M369.02 165h0M370.16 165.6h0M369.56 173.64h0M348.25 170.75h0M366.45 168.11h0M351.87 174.23h0M366.36 171.81h0M352.37 165.62h0M355.17 175.48h0M352.11 171.71h0M365.94 210.39h0M366.41 198.86h0M368.38 205.04h0M357.84 205.4h0M362.18 210.7h0M370.97 205.68h0M351.07 199.77h0M370.27 211.5h0M362.37 200.47h0M357.71 212.87h0M359.27 198.52h0M362.07 199.07h0M366.35 201.33h0M352.59 201.54h0M352.22 202.25h0M368.76 207.05h0M388.33 139.94h0M383.76 142.34h0M392.35 138.65h0M394.98 137.07h0M388.08 150.82h0M380.6 138.46h0M394.09 140.25h0M380.31 143.19h0M389.28 137.87h0M394.72 149.16h0M395.41 140.72h0M381.79 142.55h0M385.4 146.6h0M376.51 137.48h0M392.8 152.87h0M397.35 142.83h0M376.26 142.7h0M388.85 150.66h0M384.48 151.41h0M374.19 150.23h0M389.13 136.38h0M387.34 154.63h0M402.27 181.46h0M377.1 184.98h0M378.97 176.27h0M395.72 180.54h0M395.65 174.72h0M400.49 191.38h0M384.7 180.51h0M392.8 189.06h0M400.27 185.93h0M389.34 180.09h0M394.74 181.29h0M402.15 184.12h0M400.97 181.96h0M396.19 193.47h0M397.57 187.64h0M380.17 182.55h0M385.22 189.91h0M398.59 186.83h0M376.31 182.21h0M430.83 124.25h0M409.23 131.23h0M414.02 119.9h0M422.55 126.49h0M412.77 132.02h0M408.19 132.99h0M425.11 125.04h0M429.22 118.62h0M406.66 129.39h0M419.02 131.11h0M417.59 130.57h0M421.62 116.56h0M425.04 130.22h0M404.26 126.41h0M419.87 130.06h0M418.46 123.02h0M407.25 122.31h0M418.16 174.32h0M431.6 162.33h0M427.03 163.8h0M408.03 167.42h0M413.03 165.88h0M411.68 172.32h0M423.37 163.05h0M427.14 169.93h0M409.82 162.6h0M424.86 155.63h0M431.03 169.84h0M424.3 166.51h0M412.54 170.05h0M423.01 168.84h0M422.47 174.77h0M423.26 167.77h0M424.14 163.42h0M418.9 163.67h0M425 207.07h0M426.3 203.53h0M415.13 202.19h0M404.26 208.27h0M408.11 195.98h0M426.76 202.87h0M421.74 200.65h0M402.59 208.88h0M421.72 202.67h0M411.32 214.3h0M409.31 212.93h0M420.24 201.52h0M402.22 207.96h0M411.33 204.3h0M429.36 207.54h0M411.03 212.07h0M422.97 210.36h0M407.58 198.24h0M423.35 214.39h0M428.88 205.21h0M416.03 195.92h0M416.95 206.11h0M445.99 151.07h0M452.78 143.67h0M444.98 145.63h0M456.18 147.68h0M446.4 152.02h0M436.29 147.97h0M459.02 146.42h0M435.54 143.2h0M453.49 139.94h0M435.71 150.38h0M442.41 136.23h0M456.35 139.83h0M445.44 145.14h0M447.57 155.2h0M441.62 137.73h0M436.32 144.94h0M433.64 149.88h0M440.56 175.02h0M451.8 174.76h0M453.66 187.41h0M448.03 181.27h0M441.73 175.34h0M433.95 184.04h0M459.44 181.51h0M450.48 173.76h0M445.01 187.02h0M430.96 185.8h0M446.9 175.66h0M448.09 183.75h0M435.03 175.13h0M438.58 180.31h0M448.45 193.99h0M446.23 192.89h0M459.1 187.71h0M450.76 187.57h0M434.82 179.43h0M450.76 183.84h0M441.36 192.55h0M452.53 177.64h0" stroke="#22c822" stroke-width="0.9" stroke-linecap="round" fill="none"/><path d="M344.75 150.59h0M332.91 146.53h0M321.86 144.95h0M327.98 153.17h0M347.73 144.2h0M336.89 142.98h0M321.53 145.47h0M335.48 142.17h0M337.6 135.08h0M334.43 144.49h0M330.06 141.64h0M346.74 143.28h0M336.21 152.17h0M321.59 147.71h0M340.12 151.03h0M336.48 148.81h0M326.56 149.75h0M325.1 144.6h0M326.51 145.71h0M343.83 153.93h0M347.07 184.9h0M332.96 190.32h0M343.15 177.02h0M325.6 181.29h0M331.46 190.86h0M344.1 178.61h0M328.24 182.07h0M328.67 189.61h0M346.42 178.6h0M330.16 179.02h0M322.5 185.67h0M326.24 194.17h0M329.04 189.95h0M327.23 175.35h0M329 191.99h0M335.98 194.56h0M342.52 186.07h0M336.11 175.73h0M341.6 193.46h0M340.3 188.91h0M350.23 124.54h0M366.79 116.65h0M362.73 127.97h0M349.96 118.14h0M375.15 119.28h0M364.03 126.65h0M364.67 125.39h0M364.76 129.75h0M347.79 129.46h0M358.46 119.06h0M371.15 125.46h0M363.31 123.64h0M370.13 134.62h0M355.66 129.34h0M350.4 129.47h0M358.58 132.54h0M348.47 170.38h0M364.64 157.52h0M370.02 164.39h0M353.23 174.39h0M370.07 161.29h0M360.55 175.38h0M369.39 166.14h0M373.24 160.86h0M375.65 165.99h0M372.55 170.41h0M357.32 156.65h0M348.85 168.86h0M360.79 175.54h0M353.16 158.28h0M363.87 200.52h0M368.63 194.11h0M358.66 213.86h0M367.41 210.9h0M361.7 207.15h0M373.7 200.03h0M371.28 201.34h0M369.17 213.3h0M374.79 202.55h0M375.67 208.98h0M357.2 208.62h0M374.22 211.13h0M352.36 196.47h0M359.43 198.39h0M360.67 211.88h0M366.53 204.16h0M402.21 141.12h0M400.53 145.22h0M395.06 147.19h0M391.65 155.96h0M385.43 137.1h0M394.82 155.26h0M382.6 142.64h0M390.18 151.99h0M378.43 152.85h0M392.55 149.93h0M381.69 146.87h0M395.7 143.68h0M392.35 135.91h0M397.07 147.74h0M397.52 152.67h0M384.73 137.04h0M401.19 191.59h0M383.26 184.46h0M402.03 187h0M374.43 182.95h0M382.32 183.87h0M376.41 181.69h0M383.9 177.07h0M394.66 187.08h0M388.36 190.25h0M416.7 135.61h0M420.42 130.45h0M404.53 133.83h0M403.08 125.09h0M416.28 115.62h0M410.06 123.25h0M416.82 135.31h0M421.92 127.9h0M423.06 126.13h0M403.83 120.05h0M428.98 122.68h0M428.65 127.87h0M420.06 120.76h0M404.24 126.82h0M427.73 124.3h0M411.27 131.73h0M418.9 132.88h0M419.17 135.57h0M412.95 170.3h0M414.44 164.44h0M423.62 173.84h0M405.84 163.42h0M404.89 167.35h0M418.15 173.45h0M430.46 165.06h0M416.08 171.73h0M407.21 162.74h0M420.87 163.46h0M410.47 172.37h0M420.06 168.65h0M421.93 164.1h0M425.49 161.55h0M412.09 168.96h0M421.46 171.57h0M411.38 170.04h0M407.17 156.78h0M413.83 160.84h0M404.96 156.84h0M419.8 160.69h0M417.51 169.88h0M414.44 206.86h0M429.97 201.12h0M420.23 211.08h0M416.99 201.35h0M406.76 207.61h0M425.44 204.35h0M417.81 206.84h0M416.97 214.22h0M408.87 199.53h0M409.22 208.67h0M414.47 196.58h0M427.93 207.7h0M413.76 208.36h0M429.96 196.71h0M417.48 213.65h0M441.44 144.73h0M455.05 143.04h0M431.82 141.55h0M455.42 152.45h0M439.32 136.6h0M445.51 142.3h0M440.83 136.94h0M454.08 135.89h0M453.67 136.33h0M449.27 138.2h0M438.23 138.39h0M456.23 150.05h0M454.41 140.24h0M447.73 148.1h0M437.98 193.93h0M442.95 193.18h0M449.11 184.82h0M450.58 179.59h0M434.84 193.45h0M443.22 177.31h0M439.33 175.49h0M444.87 191.29h0M448.9 188.08h0M450.29 180.45h0M437.95 176.67h0M433.28 175.75h0M433.54 192.4h0M459.69 187.54h0M451.65 189.9h0M457.09 176.03h0M455.21 179.69h0M444.12 182.47h0M447.85 177.6h0M439.63 189.97h0M445.06 194.52h0" stroke="#0c9e0c" stroke-width="0.9" stroke-linecap="round" fill="none"/><path d="M323.56 142.92h0M326.13 154.71h0M325.05 155.37h0M342.95 149.84h0M332.85 156.19h0M342.46 142.5h0M344.23 147.04h0M334.36 139.15h0M335.79 152.77h0M337.29 148.41h0M344.67 143.41h0M321.95 145.83h0M336.69 145.18h0M321.59 136.9h0M323.8 151.05h0M336.09 150.17h0M331.82 153.11h0M341.33 144.02h0M341.37 147.76h0M333.68 155.22h0M322.42 139.89h0M324.91 155.01h0M329.24 185.77h0M345.69 177.95h0M333.88 194.46h0M334.97 190.74h0M339.44 186.54h0M330.45 190.99h0M320.98 185.05h0M343.84 191.72h0M346.99 190.29h0M334.29 178.28h0M324.65 183.54h0M331.12 181.15h0M333.96 182.6h0M332.04 183.38h0M338.67 174.76h0M331.26 175.83h0M363.11 115.77h0M353.73 124.31h0M360.24 131.1h0M372.18 126.64h0M348.09 118.73h0M371.06 124.25h0M350.51 120.33h0M351.8 128.7h0M360.27 120.49h0M352.21 131.16h0M360.03 121.96h0M363.25 115.35h0M354.71 127.65h0M373.19 132.75h0M354.02 127.97h0M368.92 119.84h0M355.57 115.69h0M349.97 128.15h0M370.56 120.22h0M347.92 121.72h0M348.52 131.35h0M365.87 118.33h0M368.67 124.63h0M363.45 133.29h0M360.36 135.37h0M367.58 171.06h0M350.32 171.4h0M375.54 168.22h0M349.85 165.66h0M352.05 173.03h0M370.67 156.2h0M372.28 159.43h0M366.91 175.15h0M363.24 161.51h0M374.22 163.8h0M370.77 165.82h0M363.93 170.33h0M351.27 157.69h0M361.22 157.47h0M366.24 172.59h0M361.3 198.24h0M348.91 197.44h0M362.52 214.73h0M365.51 206.92h0M353.33 198.73h0M352.78 201.34h0M356.37 200.7h0M375 199.78h0M354.57 198.47h0M358.09 200.47h0M375.17 200.99h0M358.41 203.57h0M351.07 199.43h0M372.36 195.81h0M359.93 206.07h0M364.49 194.1h0M347.03 203.82h0M375.34 209.22h0M358.79 200.14h0M374.21 205.37h0M380.81 154.78h0M384.35 143.16h0M401.66 151.85h0M383.64 137.21h0M379.46 140.58h0M396.13 147.4h0M393.24 155.79h0M376.9 147.62h0M400.74 145.28h0M382.69 135.15h0M384.58 140.37h0M377.57 144.66h0M399.19 140.88h0M401.2 141.56h0M384.23 153.71h0M382.72 153.33h0M380.64 135.37h0M384.05 141.2h0M378.66 140.8h0M399.95 191.39h0M392.49 188.13h0M378.98 189.35h0M379.77 179.79h0M388.87 183.08h0M379.31 177.25h0M381.52 192.83h0M393.5 175.18h0M376.77 182.63h0M389.49 194.97h0M400.5 177.08h0M379.8 192.09h0M390.74 194.36h0M381.3 185.93h0M404.24 130.79h0M430 130.51h0M418.82 130.56h0M411.67 124.83h0M416.84 118.92h0M430.73 128.13h0M409.21 122.04h0M424.26 134.87h0M407.24 124.32h0M417.82 122.73h0M420.46 119.12h0M423.47 133.42h0M413.91 120.32h0M413.56 118.03h0M415.7 120.28h0M427.37 131.11h0M420.13 129.68h0M402.8 121.02h0M411.52 131.46h0M426.96 156.14h0M413.62 169.34h0M408.22 174.44h0M429.66 169.34h0M418.53 157.46h0M403.51 167.51h0M427.2 158.73h0M424.18 166.75h0M416.41 158.38h0M425.19 166.3h0M428.51 167.16h0M413.58 164.64h0M416.29 173.95h0M402.9 163.46h0M426.7 162.8h0M421.7 161.5h0M427.73 169.38h0M428.91 164.55h0M411.03 161.28h0M402.7 201.88h0M411.37 200.49h0M427.55 204.96h0M415.66 196.55h0M409.09 198.84h0M416.31 212.41h0M421.71 214.33h0M412.19 208.43h0M405.21 209.79h0M409.34 203.02h0M414.39 210.7h0M430.78 206.76h0M422.15 197.04h0M412.12 203.91h0M418.9 193.48h0M406.3 195.28h0M421.81 210.34h0M402.76 209.85h0M427.51 201.73h0M404.32 202.47h0M421.64 210.61h0M440.24 151.2h0M434.22 145.53h0M451.57 143.37h0M439.03 147.46h0M435.52 147.91h0M431.09 147.82h0M437.54 145.65h0M450.93 148.45h0M443.29 154.96h0M459.17 140.57h0M452.45 140.92h0M449.71 145.29h0M449.56 141.49h0M435.41 142.13h0M451.25 155.31h0M436 190.99h0M431.82 179.03h0M446.7 173.8h0M458.67 182.5h0M434.9 177.71h0M452.89 186.69h0M438.2 193.89h0M443.23 193.82h0M437.03 178.81h0M432.58 191.86h0M456.47 191.99h0M440.65 180.77h0M434.6 180.88h0M444.02 175.69h0M436.99 177.4h0M450.01 183.95h0" stroke="#30d430" stroke-width="0.9" stroke-linecap="round" fill="none"/>
<path d="M359.6 129.2h0M357.3 160.4h0M363.8 174.1h0M348 152h0M418 170.2h0M340.2 192h0M393.2 181h0" stroke="#1f4fd0" stroke-width="0.9" stroke-linecap="round"/>
<ellipse cx="333.5" cy="125.6" rx="5.38" ry="2.94" fill="#cc0c1c"/>
<ellipse cx="333.5" cy="165" rx="5.38" ry="3.95" fill="#cc0c1c"/>
<ellipse cx="333.5" cy="204.2" rx="5.38" ry="2.94" fill="#cc0c1c"/>
<ellipse cx="361.5" cy="145.5" rx="6.22" ry="3.95" fill="#cc0c1c"/>
<ellipse cx="361.5" cy="184.2" rx="6.22" ry="3.95" fill="#cc0c1c"/>
<ellipse cx="388.5" cy="125.6" rx="6.22" ry="2.94" fill="#cc0c1c"/>
<ellipse cx="388.5" cy="165" rx="6.22" ry="3.95" fill="#cc0c1c"/>
<ellipse cx="388.5" cy="204.2" rx="6.22" ry="2.94" fill="#cc0c1c"/>
<ellipse cx="416.8" cy="145.5" rx="6.22" ry="3.95" fill="#cc0c1c"/>
<ellipse cx="416.8" cy="184.2" rx="6.22" ry="3.95" fill="#cc0c1c"/>
<ellipse cx="445" cy="125.6" rx="5.38" ry="2.94" fill="#cc0c1c"/>
<ellipse cx="445" cy="165" rx="5.38" ry="3.95" fill="#cc0c1c"/>
<ellipse cx="445" cy="204.2" rx="5.38" ry="2.94" fill="#cc0c1c"/>
<ellipse cx="347.5" cy="136.15" rx="5.38" ry="3.78" fill="#cc0c1c"/>
<ellipse cx="347.5" cy="154.65" rx="5.38" ry="3.78" fill="#cc0c1c"/>
<ellipse cx="347.5" cy="175.2" rx="5.38" ry="3.78" fill="#cc0c1c"/>
<ellipse cx="347.5" cy="193.6" rx="5.38" ry="3.78" fill="#cc0c1c"/>
<ellipse cx="375" cy="136.15" rx="5.38" ry="3.78" fill="#cc0c1c"/>
<ellipse cx="375" cy="154.65" rx="5.38" ry="3.78" fill="#cc0c1c"/>
<ellipse cx="375" cy="175.2" rx="5.38" ry="3.78" fill="#cc0c1c"/>
<ellipse cx="375" cy="193.6" rx="5.38" ry="3.78" fill="#cc0c1c"/>
<ellipse cx="402.65" cy="136.15" rx="5.38" ry="3.78" fill="#cc0c1c"/>
<ellipse cx="402.65" cy="154.65" rx="5.38" ry="3.78" fill="#cc0c1c"/>
<ellipse cx="402.65" cy="175.2" rx="5.38" ry="3.78" fill="#cc0c1c"/>
<ellipse cx="402.65" cy="193.6" rx="5.38" ry="3.78" fill="#cc0c1c"/>
<ellipse cx="430.9" cy="136.15" rx="5.38" ry="3.78" fill="#cc0c1c"/>
<ellipse cx="430.9" cy="154.65" rx="5.38" ry="3.78" fill="#cc0c1c"/>
<ellipse cx="430.9" cy="175.2" rx="5.38" ry="3.78" fill="#cc0c1c"/>
<ellipse cx="430.9" cy="193.6" rx="5.38" ry="3.78" fill="#cc0c1c"/>
<path d="M333.58 129.09h0M332.29 125.18h0M338.74 125.67h0M335.16 165.99h0M331.45 164.12h0M332.33 207.05h0M358.45 148.72h0M355.42 143.68h0M356.61 141.78h0M366.95 182.14h0M363.73 185.99h0M365.53 185.98h0M384.82 162.61h0M387.8 207.28h0M392.86 203.98h0M390.88 204.02h0M416.01 142.93h0M448.55 124.09h0M446.31 205.6h0M348.51 134.24h0M349.73 133.62h0M345.26 138.5h0M348.97 152.88h0M349.05 175.85h0M343.86 192.66h0M343.73 196.62h0M370.34 136.26h0M378.25 133.05h0M380.6 154.63h0M379.68 154.69h0M376.91 176.01h0M372.2 177.53h0M377.41 190.98h0M403.7 190.8h0M399.19 197.59h0M431.72 138.69h0M430.7 138.8h0M432.32 136.32h0M430.37 158.77h0M435.1 171.38h0M433.15 190.71h0M428.11 195.83h0M433.54 194.7h0M430.46 191.3h0" stroke="#e01c2a" stroke-width="2.6" stroke-linecap="round" fill="none"/><path d="M337.92 126.19h0M328.66 204.28h0M357.93 144.02h0M359.04 184.34h0M390.19 126.99h0M390.6 125.31h0M386.12 125.09h0M394.18 123.56h0M390.38 163.87h0M420.13 141.53h0M421.19 185.17h0M440.92 166.18h0M443.77 206.15h0M446.81 202.83h0M350.24 137.2h0M347.95 152.29h0M348.42 158.76h0M347.11 151.07h0M346.35 153.26h0M342.43 196.31h0M346.96 196.94h0M376.39 135.45h0M375.06 153.64h0M373.09 154.73h0M380.17 173.48h0M376.1 194.38h0M375.36 194.75h0M404.88 156.99h0M405.74 175.38h0M405.96 175.13h0M404.67 171.94h0M402.68 191.47h0M403.42 196.85h0M435.44 138.36h0M427.68 176.47h0" stroke="#84040a" stroke-width="2.6" stroke-linecap="round" fill="none"/><path d="M337.54 123.95h0M330.46 123.89h0M336.9 166.54h0M334.47 164.02h0M331.82 162.58h0M357.31 142.91h0M358.56 141.73h0M365.19 185.96h0M362.56 183.98h0M364.99 184.51h0M390.14 166.1h0M389.14 169.69h0M383.98 166.48h0M419.36 146.15h0M413.89 146.45h0M444.99 126.64h0M442.21 124.06h0M449.34 168.58h0M439.8 165.94h0M444.2 204.49h0M344.69 138.39h0M342.8 173.06h0M344.66 176.01h0M372.54 156.77h0M380.53 173.07h0M379.06 191.51h0M399.1 134.73h0M405.39 139.75h0M398.38 134.83h0M398.84 155.67h0M406.12 174.98h0M401.5 189.75h0M398.32 190.58h0M397.03 191.87h0M406.28 192.58h0M430.26 137.4h0M424.61 136.21h0M435.39 136.05h0M424.25 136.31h0M434.04 154.52h0M428.94 151.69h0M434.92 155.94h0M428.6 157.72h0M430.67 175.26h0M433.19 179.95h0" stroke="#bc0c1a" stroke-width="2.6" stroke-linecap="round" fill="none"/><path d="M336.47 123.5h0M331.88 123.63h0M332.99 162.83h0M332.4 206.44h0M361.79 183.19h0M389.15 125.21h0M387.26 126.02h0M393.85 125.31h0M391.24 163.77h0M391.53 205.43h0M389.68 202.22h0M413.56 146.37h0M416.09 146.71h0M416.32 148.29h0M415 142.31h0M418.65 148.44h0M415.2 143.39h0M414.72 184.73h0M414.03 184.7h0M444.13 126.13h0M445.27 126.41h0M342.42 135.41h0M347.77 134.82h0M345.84 137.61h0M349.19 172.31h0M348.01 176.08h0M353.8 173.53h0M350.78 192.89h0M346.42 192.51h0M369.46 135.35h0M372.45 155.59h0M374.27 178.98h0M376.77 177.53h0M377.06 195.14h0M376.25 196.24h0M403.12 134.83h0M399.91 154.91h0M396.9 153.65h0M404.58 175.38h0M405.15 177.96h0M404.1 175.95h0M425.7 136.31h0M424.59 155.14h0M430.71 158.15h0M432.42 172.45h0M432.14 174.01h0M428.32 194.88h0M430.06 193.15h0" stroke="#ea2836" stroke-width="2.6" stroke-linecap="round" fill="none"/><path d="M330.89 126.13h0M329.64 168.76h0M329.98 165.32h0M361.24 143.76h0M365.72 183.49h0M395.81 124.47h0M396.54 203.85h0M385.45 204.91h0M413.42 181.32h0M412.68 182.8h0M410.14 181.42h0M440.31 126.38h0M438.99 163.11h0M441.92 164.99h0M444.28 166.86h0M439.87 203.62h0M352.13 153.22h0M348.73 158.37h0M346.14 157.86h0M353.32 152.37h0M344.47 193.14h0M349.26 191.93h0M351.56 193.9h0M370.95 135.17h0M375.28 133.13h0M376.03 155.83h0M381.57 174.27h0M370.66 190.03h0M376.27 196.28h0M406.01 136.96h0M402.75 154.03h0M401.9 157.79h0M399.77 156.1h0M403.61 159.29h0M401.42 176.42h0M429.07 198.14h0" stroke="#9c0410" stroke-width="2.6" stroke-linecap="round" fill="none"/><path d="M336.84 125.87h0M332.08 160.63h0M338 204.06h0M333.65 204.42h0M330.86 204.98h0M368.3 144.72h0M363.22 143.28h0M354.25 143.94h0M390.1 127.31h0M392.99 162.77h0M418.05 182.58h0M419.86 182.26h0M421.65 185.54h0M444.31 127.59h0M439.95 126.47h0M443.09 127.85h0M445.41 165.94h0M446.76 162.42h0M444.46 202.96h0M443.04 204.79h0M348.97 136.04h0M349.84 176.85h0M348.41 172.42h0M374.98 135.61h0M377.2 132.73h0M369.5 154.09h0M377.01 154.37h0M380.69 175.96h0M375.91 176.06h0M400.09 137.98h0M401.28 139.13h0M403.53 152.4h0M407.54 191.23h0M405.5 195.7h0M434.97 155h0M432.29 158.7h0M430.48 153.16h0M426.63 174.32h0M431.38 174.44h0M428.75 190.12h0M428.36 193.03h0M426.93 193.59h0" stroke="#cc1826" stroke-width="2.6" stroke-linecap="round" fill="none"/><path d="M330.55 166.07h0M329.75 203.23h0M336.5 204.24h0M337.46 204.96h0M335.5 201.79h0M364.92 183.63h0M394.89 123.17h0M386.44 166.58h0M388.32 166.89h0M393.7 162.72h0M388.19 202.95h0M382.65 202.42h0M386.93 206.88h0M417.38 185.54h0M446.4 126.94h0M449.03 163.88h0M446.64 165.21h0M446.94 206.36h0M442.99 206.42h0M445.54 207.9h0M347.32 140.17h0M350.56 157.04h0M352.04 176.52h0M349.08 174.94h0M346.75 192.98h0M372.13 133.24h0M375.23 134.32h0M372.61 156.25h0M377.17 173.06h0M371.71 196.75h0M375.23 194.94h0M405.41 133.1h0M406.02 135.77h0M401.14 140.14h0M401.03 152.69h0M404.12 174.06h0M402.25 173.54h0M427.57 134.47h0M430.66 177.95h0M434.5 175.54h0" stroke="#d81424" stroke-width="2.6" stroke-linecap="round" fill="none"/>
<path d="M335.52 124.74h0M332.05 123.61h0M331.76 124.97h0M336.08 125.87h0M336.29 125.18h0M331.91 165.97h0M333.93 164.41h0M337.58 165.63h0M333 164.88h0M333.41 206.93h0M361.2 149.33h0M354.96 144.5h0M362.03 187.48h0M361.84 180.57h0M368.15 182.44h0M389.62 124.42h0M387.82 124.03h0M387.66 128.86h0M385.12 163.28h0M383.77 163.24h0M387.99 202.96h0M388.11 207.39h0M383.32 202.9h0M418.52 143.59h0M444.22 127h0M443.75 162.56h0M446.97 202.88h0M447.57 204.86h0M443.43 204.77h0M349.72 136.28h0M344.86 134.73h0M345.52 153.97h0M347.33 159.38h0M348.34 152.53h0M351.48 153.24h0M347.27 154.05h0M347.91 173.05h0M352.52 172.57h0M346.99 190.51h0M348.96 192.02h0M351.1 193.37h0M349.01 196.12h0M378.26 134.75h0M368.3 134.35h0M375.69 136.63h0M378.21 152.5h0M373.13 178.25h0M375.5 175.72h0M369.61 171.94h0M376.31 192.09h0M371.83 194.25h0M375.94 191.62h0M403.82 140.12h0M398.58 156.13h0M407.56 155.08h0M402.34 154.51h0M405.95 172.76h0M409.87 193.01h0M401.28 196.45h0M429.31 136.41h0M430.96 133.87h0M428.36 156.93h0M432.94 158.97h0M429.28 154.48h0M427.39 176.59h0M425.99 192.68h0M430.97 190.72h0" stroke="#84040a" stroke-width="1.9" stroke-linecap="round" fill="none"/><path d="M330.66 127.02h0M331.11 126.63h0M333.57 125.52h0M332.35 168.48h0M335.5 167.89h0M356.67 180.07h0M363.49 185.65h0M358.47 188.31h0M356.74 185.28h0M384.28 124.14h0M384.95 125.04h0M388.27 124.87h0M388.82 164.11h0M388.29 163.07h0M389.72 163.62h0M390.42 205.31h0M392.89 203.48h0M420.34 142.65h0M411.12 146.4h0M416.75 148.3h0M419.28 180.88h0M413.05 187.68h0M417.77 182.64h0M414.36 187.86h0M446.77 123.95h0M447.69 126.75h0M448.84 125.65h0M446.77 121.82h0M449.51 163.6h0M438.76 164.69h0M448.81 160.53h0M443.29 202.57h0M344.59 137.77h0M345.36 159.43h0M350.88 153.3h0M343.1 157.52h0M347.47 173.64h0M352.27 176.04h0M343.58 190.16h0M347.41 196.17h0M346.72 193.51h0M375.73 134.64h0M377.68 138.46h0M377.99 137.48h0M377.71 137.42h0M369.95 154.1h0M370.66 154.48h0M375.83 172.75h0M376.34 176.52h0M381.07 176h0M374.15 195.37h0M405.46 136.59h0M404.15 134.82h0M397.37 133.55h0M399.37 156.95h0M404.19 155.43h0M404.86 151.39h0M407.42 172.54h0M405.11 178.9h0M397.53 175.27h0M398.18 193.22h0M398.46 192.47h0M399.16 192.46h0M429.36 154.22h0M430.11 155.32h0M425.94 174.83h0M424.38 174.18h0M434.26 177.17h0M430.07 172.14h0M432.5 193.42h0" stroke="#ea2836" stroke-width="1.9" stroke-linecap="round" fill="none"/><path d="M335.03 124.2h0M336.16 124.51h0M336.71 123.95h0M336.8 163.36h0M355.93 146.24h0M364.68 147.74h0M366.6 146.13h0M360.8 143.91h0M389.26 124.81h0M389.64 124.05h0M390.29 125.07h0M387.01 124.72h0M390.56 124.46h0M386.97 124.09h0M393.59 165.5h0M389.52 165.47h0M387.8 166.93h0M384.72 163.61h0M388.82 206.48h0M394.38 202.88h0M386 203.2h0M419.07 147.35h0M413.13 185.36h0M417.44 188.95h0M443.03 127.91h0M444.36 127.33h0M444.71 165.08h0M439.01 162.95h0M446.09 204.02h0M450.63 203.85h0M442 205.64h0M446.03 204.85h0M448.14 204.69h0M347.14 135.21h0M349.48 136.69h0M348.69 152.34h0M345.05 173.99h0M347.99 176.98h0M347.69 178.11h0M343.15 194.31h0M350.14 192.91h0M376.88 138.11h0M373.54 135.82h0M368.74 135.76h0M372.64 134.26h0M373.37 155.7h0M374.74 158.94h0M373.11 176.12h0M377.33 174.85h0M373.86 196.37h0M372.81 196.1h0M396.57 136.19h0M405.52 136.46h0M406.12 137.94h0M401.58 153.57h0M398.71 156h0M398.82 176.42h0M399.6 176.85h0M405.19 194.89h0M435.71 136.98h0M430.47 134.19h0M429.31 154.91h0M429.88 158.13h0M432.27 175.54h0M431.74 177.55h0M432.25 174.91h0M432.66 172.42h0M434.95 172.69h0M432.05 192.9h0M429.27 195.89h0M428.2 197.03h0" stroke="#e01c2a" stroke-width="1.9" stroke-linecap="round" fill="none"/><path d="M331.33 125h0M329.47 162.75h0M334.36 163.84h0M328.04 205.95h0M339.31 205.51h0M334.83 202.02h0M330.63 206.09h0M363.98 147.8h0M355 143.17h0M362.47 145.32h0M358.24 188.02h0M387.23 126.8h0M383.94 124.22h0M389.54 163.23h0M389.33 170.03h0M388.29 168.06h0M395.48 203.5h0M389.39 204.65h0M409.1 144.08h0M411.24 143.18h0M414.23 142.62h0M411.79 145.2h0M411.84 143.86h0M417.84 187.08h0M446.02 127.34h0M447.17 127.52h0M445.08 162.15h0M443.77 166.72h0M445.25 169.33h0M442.1 201.86h0M343.74 153.15h0M347.75 171.58h0M346.15 175.8h0M347.57 174.01h0M350.92 192.58h0M344.78 191.78h0M379.18 136.77h0M375.31 151.82h0M378.06 156.8h0M372.11 171.29h0M378.13 191.36h0M374.84 197.65h0M379.98 191.78h0M402.76 138.33h0M401.36 172.14h0M399.75 178.96h0M405.88 195.56h0M426.07 135.17h0M432.74 134.93h0M428.01 133.76h0M429.38 156.94h0M435.45 154.45h0M428.57 177.04h0" stroke="#d81424" stroke-width="1.9" stroke-linecap="round" fill="none"/><path d="M335.18 124.5h0M335.31 125.74h0M336.46 125.57h0M330.37 160.24h0M329.6 165.78h0M339.86 203.96h0M332.47 201h0M331.56 203.54h0M362.67 142.15h0M356.6 184.31h0M358.68 186.64h0M363.3 186.87h0M358.74 185.68h0M388.49 123.77h0M391.25 166.32h0M386.7 168.29h0M388.64 201.88h0M411.11 145h0M418.22 144.64h0M416.01 143.62h0M419.79 183.72h0M421.36 184.96h0M420.56 184.2h0M416.59 185.2h0M414.56 185.25h0M450.62 127.4h0M448.85 123.67h0M446.01 165.12h0M447.15 166.27h0M442.04 205.51h0M446.59 203.81h0M347.5 134.8h0M344.5 138.83h0M350.74 152.98h0M342.09 174.32h0M346.22 179.82h0M349.83 193.98h0M345.19 194.59h0M375.34 151.34h0M376.54 154.63h0M380.03 154.31h0M379.89 176.34h0M375.84 179.63h0M375.71 194.29h0M378.46 191.18h0M380.97 194.16h0M398.17 133.68h0M403.4 134.86h0M401.52 137.17h0M406.5 155.74h0M399.89 152.29h0M400.63 176.72h0M404.21 176.49h0M404.76 175.22h0M400.14 198.03h0M399.53 191.96h0M404.62 191.43h0M400.71 195.44h0M408.64 192.4h0M404.46 195.47h0M431.96 136.89h0M427.61 154.56h0M424.38 153.47h0M428.71 175.78h0M429.52 194.74h0M429.12 191h0" stroke="#cc1826" stroke-width="1.9" stroke-linecap="round" fill="none"/><path d="M337.59 125.41h0M334.22 168.67h0M333.67 164.21h0M336.66 163.38h0M329.98 204.85h0M331.23 206.52h0M337.32 206.28h0M360.39 141.9h0M367.24 144.36h0M362.02 149.63h0M366.87 183.36h0M361.27 184.59h0M385.28 165h0M385.31 203.46h0M391.89 205.42h0M420.77 146.17h0M414.03 187.54h0M415.7 186.07h0M442.95 124.04h0M449.46 124.35h0M439.69 126.56h0M444.68 168.11h0M442.58 165.11h0M437.86 164.71h0M444.31 204.74h0M447.62 206.56h0M348.92 133.92h0M352.05 134.54h0M345.97 137.07h0M351.05 137.93h0M348.66 134.76h0M351.4 134.54h0M349.45 137.67h0M345.32 155.52h0M351.19 153.65h0M342.35 173.34h0M346.96 172.2h0M347.31 175.16h0M354.78 174.84h0M348.31 191.88h0M349.25 190.61h0M377.56 140.38h0M378.7 135.03h0M373.25 157.5h0M376.04 151.64h0M373.99 153.89h0M374.21 171.75h0M378.87 173.38h0M376.54 175.41h0M375.29 172.34h0M375.72 194.57h0M403.41 139.96h0M404.36 139.89h0M401.14 154.91h0M402.22 156.26h0M405.9 176.81h0M407.36 176.06h0M401.24 176.94h0M402.75 195.46h0M397.6 190.85h0M425.52 137.94h0M427.2 135.29h0M432.93 135.73h0M429.95 172.3h0M431.94 173.86h0M432.54 177.63h0M424.94 192.61h0M433.13 196.22h0" stroke="#bc0c1a" stroke-width="1.9" stroke-linecap="round" fill="none"/><path d="M335.24 164.2h0M337.98 163.46h0M336.8 202.93h0M330.44 203.64h0M332.48 205.27h0M336.44 205.63h0M332.21 206.66h0M367.59 146.34h0M369.04 144.17h0M354.81 144.05h0M365.92 184.25h0M365.71 181.31h0M388.77 124.6h0M386.24 168.3h0M391.93 202.71h0M384.31 203.47h0M387.71 205.78h0M416.15 145.45h0M421.21 142.23h0M420.45 182.24h0M418.52 186.31h0M440.5 125.1h0M448.14 124.83h0M442.25 167.73h0M448.14 165.96h0M442.77 205.06h0M446.9 201.28h0M353.66 135.16h0M348.42 135.29h0M347.47 154.81h0M344.06 157.46h0M347.74 153.11h0M344.81 197.43h0M372.89 132.78h0M371.06 136.39h0M373.06 154.81h0M376.24 153.33h0M371.85 153.68h0M378.9 176.4h0M375.97 191.32h0M376.31 190.76h0M375.43 195.51h0M399.38 138.47h0M401.33 133.3h0M402.06 134.06h0M404.3 153.53h0M402.5 153.78h0M403.9 155.45h0M399.58 155.02h0M396.81 172.69h0M405.5 175.58h0M409.93 192.67h0M430.75 138h0M433.12 136.08h0M430.68 136.79h0M427.95 134.32h0M428.88 136.82h0M426.63 156.59h0M430.42 156.63h0M430.53 152.58h0M433.22 158.82h0M428.43 156.27h0M434.14 177.77h0M429.13 194.38h0M436.64 190.98h0M432.55 194.1h0M427.71 194.12h0M434.99 191.04h0M430.95 191.34h0" stroke="#9c0410" stroke-width="1.9" stroke-linecap="round" fill="none"/>
<path d="M331.8 125.63h0M335.98 123.07h0M334.34 127.29h0M328.61 123.1h0M328.43 206.34h0M361.96 144.43h0M359.44 144.01h0M356.42 142.74h0M359.86 145.85h0M363.76 182.46h0M366.4 181.74h0M354.85 182.44h0M391.75 162.26h0M391.98 167.86h0M390.79 164.31h0M383.62 203.45h0M385.65 204.02h0M385.43 205.05h0M416.56 147.29h0M416.9 146.35h0M410.56 142.89h0M412.98 185.33h0M415.18 182.39h0M419.12 181.92h0M417.6 182.76h0M438.16 125.57h0M443.3 125.7h0M445.56 122.54h0M441.27 124.97h0M448.13 126.59h0M444.99 126.01h0M440.74 165.37h0M444.51 166.23h0M449.52 165.01h0M445.3 201.83h0M440.26 202.22h0M341.95 134.97h0M347.46 153.09h0M348.04 151.41h0M349.21 155.01h0M346.35 159.15h0M343.76 174.24h0M345.8 177.07h0M353.06 194.75h0M347.46 190.69h0M369.97 133.91h0M369.17 134.31h0M378.33 138.71h0M374.51 152.84h0M377.85 157.05h0M371.39 157.18h0M372.3 171.36h0M373.76 174.92h0M372.43 175.45h0M371.99 175.87h0M376.11 196.92h0M373.59 196.46h0M370.24 191.19h0M376.92 195.16h0M375.26 195.79h0M405.18 137.76h0M401.03 152.13h0M405.06 152.14h0M399.73 151.46h0M403.32 176.73h0M403.07 178.67h0M399.14 174.47h0M399.76 172.89h0M407.94 172.25h0M398.48 190.87h0M399.96 191.61h0M396.9 191.9h0M400.09 193.69h0M399.98 195.46h0M425.51 134.59h0M430.36 134.27h0M432.2 140.65h0M429.43 154.88h0M430.65 155.06h0M431.98 151.73h0M428.81 178.42h0M436 175.08h0M430.15 178.81h0M430.26 172.98h0M428.28 172.99h0M435.02 171.04h0M427.71 194.32h0M427.93 194.23h0M427.86 192.36h0M432.3 190.87h0M431.3 198.7h0" stroke="#d81424" stroke-width="1.2" stroke-linecap="round" fill="none"/><path d="M339.33 123.51h0M328.86 125.09h0M329.67 123.45h0M337.58 125.22h0M332.24 167.9h0M330.89 164.56h0M333.97 169.45h0M340.99 205.02h0M331.46 204.19h0M328.27 205.77h0M337.92 203.97h0M330.6 207.59h0M331.37 202.5h0M359.86 145.89h0M367.34 144.04h0M358.86 144.3h0M364.81 182.11h0M363.17 181.24h0M362.45 180.9h0M362.47 188.26h0M362.49 180.8h0M385.98 128.4h0M393.03 125.24h0M387.22 126.52h0M389.28 127.32h0M383.76 126.36h0M387.09 168.45h0M387.54 169.99h0M389.67 204.99h0M387.21 203.93h0M392.29 205.62h0M422.12 141.45h0M418.25 149.96h0M410.02 142.91h0M414.37 183.88h0M417.28 182.72h0M447.35 128.55h0M443.61 162.52h0M447.49 163.86h0M449.24 201.93h0M343.78 135.98h0M348.4 133.36h0M351.4 156.86h0M350.03 153.32h0M347.39 152.96h0M348.39 152.09h0M342.4 174.83h0M348.95 175.46h0M349.19 176.64h0M344.86 170.75h0M346.12 175.75h0M380.91 133.89h0M373.65 137.05h0M375.43 132.86h0M372.2 155.64h0M371.94 156.93h0M371.57 155.47h0M373.56 178.51h0M372.3 176.24h0M369.08 172.85h0M372.22 172.03h0M378.52 195.9h0M377.24 196.24h0M380.3 191.77h0M375.65 196.67h0M375.24 191.91h0M374.15 197.82h0M401.47 133.04h0M403.82 137.26h0M400.91 137.65h0M407.62 136.31h0M401.93 155.31h0M402.08 154.78h0M403.45 178.74h0M405.88 174.27h0M404.33 191.28h0M400.14 191.87h0M397.14 192.68h0M407.27 194.87h0M431.14 134.13h0M429.2 139.29h0M434.3 154.25h0M428.78 156.51h0M430.54 155.84h0M432.1 153.14h0M427.69 156.76h0M428.93 176.38h0M432.16 174.14h0M429.18 178.77h0M429.96 195.41h0M433.74 190.65h0M434.43 194.53h0M429.71 194.08h0M427.37 195.34h0" stroke="#84040a" stroke-width="1.2" stroke-linecap="round" fill="none"/><path d="M331.76 126.58h0M334.85 123.21h0M332.81 128.46h0M333.14 122.96h0M334.87 167.61h0M334.07 165.27h0M338.77 166.78h0M338.79 202.93h0M364.67 142.22h0M368.91 144.11h0M363.97 147.68h0M363.27 146.26h0M361.57 183.95h0M385.73 124.36h0M386.04 128.62h0M388.43 128.9h0M385.66 124.64h0M383 164.01h0M383.42 162.74h0M383.01 203.15h0M394.7 204.98h0M413.76 185.51h0M418.52 187.47h0M444.37 124.83h0M443.36 124.76h0M448.92 160.91h0M438.39 164.08h0M449.39 161h0M447.15 165.94h0M451.1 202.01h0M347.33 134.3h0M343.63 137.73h0M347.21 135.56h0M347.78 153.86h0M351.62 152.82h0M349.54 177.37h0M347.44 175.88h0M351.08 173.13h0M348.36 177.27h0M350.58 174h0M351.62 176.79h0M347.91 176.8h0M343.81 196.05h0M344.06 193.19h0M354.26 194.75h0M349.23 190.44h0M348.99 192.16h0M375.28 133.11h0M375.13 135.12h0M376.24 136.77h0M378.76 153.4h0M373.59 159.5h0M380.71 152.6h0M380.64 155.75h0M371.55 174.13h0M377.23 172.02h0M381.22 174.15h0M374.09 178.42h0M369.65 171.41h0M371.73 175.11h0M379.67 175.43h0M370.43 194.43h0M370.67 193.77h0M374.09 189.97h0M400.12 136.73h0M397.08 136.67h0M404.72 134.72h0M407.42 136.88h0M406.78 152.42h0M402.32 157.98h0M407.63 154.62h0M402.04 155.77h0M403.88 151.49h0M398.84 174.47h0M403.64 178.6h0M403.69 173.86h0M404.45 177.07h0M409.48 192.67h0M406.74 194.56h0M401.52 190.41h0M405.16 191.03h0M433.72 135.55h0M429 137.17h0M434.06 138.4h0M426.49 133.93h0M430.67 153.86h0M427.42 156.32h0M429.38 151.99h0M429.3 176.39h0M435.23 176.07h0M436.18 173.41h0M425.18 193.35h0M428.19 195.23h0" stroke="#9c0410" stroke-width="1.2" stroke-linecap="round" fill="none"/><path d="M329.13 122.97h0M337 126.13h0M332.46 123.03h0M331.02 129.1h0M329.22 167.99h0M337.53 162.68h0M328.41 205.89h0M337.72 203.4h0M328.8 207.43h0M334.72 202.2h0M357.51 141.5h0M361.22 144.56h0M359.87 147.7h0M363.31 187.24h0M392.18 125.38h0M389.3 126.08h0M391.16 122.6h0M389.78 126.12h0M391.03 126.37h0M387.78 124.09h0M393.08 204.32h0M385.03 204.3h0M387.36 204.39h0M384.22 204.57h0M415.15 146.14h0M414.11 146.37h0M412.14 184.07h0M420.44 184.51h0M422.65 183.16h0M409.47 183.49h0M423.7 183.92h0M414.54 184.09h0M446.27 127.17h0M446.14 123.24h0M439.16 125.81h0M445.71 122.29h0M449.78 123.12h0M448.87 165.88h0M443.12 167.92h0M448.9 165h0M444.47 203.07h0M441.47 204.24h0M443.88 202.86h0M444.19 207.69h0M446.25 203.82h0M349.1 139.66h0M351.68 132.78h0M349.07 134.84h0M349.06 133.8h0M348.15 140.05h0M350.32 153.25h0M353.6 154.28h0M345.58 155.33h0M342.69 154.93h0M350.08 177.05h0M341.66 173.08h0M348.53 172.58h0M342.94 193.44h0M350.63 191.78h0M348.46 190.59h0M351.62 192.71h0M346.08 198.08h0M378.48 138.69h0M372.53 132.56h0M373.01 132.7h0M369.48 154.38h0M377.14 155.59h0M370.48 152.76h0M379.84 151.62h0M371.42 173.22h0M399.47 138.57h0M403.7 133.1h0M397.87 134.9h0M404.5 136.53h0M401.08 154.54h0M408.05 175.64h0M399.09 177.51h0M404.33 172.66h0M432.74 131.69h0M431.43 157.17h0M430.38 151.6h0M436.04 174.4h0M433.07 174.35h0M433.75 194.9h0" stroke="#e01c2a" stroke-width="1.2" stroke-linecap="round" fill="none"/><path d="M330.44 126.94h0M330.24 126.99h0M336.37 166.3h0M328.24 162.15h0M336.21 162.36h0M333.14 167.68h0M329.68 201.4h0M332.83 202.6h0M331.57 202.66h0M363.87 145.23h0M360.32 150.84h0M360.08 142.39h0M360.36 147.95h0M356.67 146.88h0M364.68 145.16h0M357.99 186.1h0M361.44 180.57h0M368.96 184.65h0M357.45 185.47h0M359.05 186.62h0M361.46 186.44h0M385.46 123.47h0M383.66 125.67h0M386.43 170.28h0M382.67 163.8h0M388.81 162.2h0M386.31 161.73h0M387.74 165.38h0M394.15 162.75h0M385.01 161.77h0M386.53 166.95h0M389.42 162.61h0M389.6 201.84h0M384.05 203.87h0M389.38 205.77h0M414.92 149.17h0M415.66 149.09h0M413.07 147.54h0M414.27 147.64h0M415.37 147.3h0M419.77 181.89h0M413.46 186.73h0M445.46 128.53h0M449.58 122.89h0M443.59 127.53h0M444.42 168.06h0M444.47 163.21h0M442.56 202.38h0M446.55 201.49h0M447.41 203.91h0M444.18 204.99h0M350.83 137.89h0M345.69 139.99h0M351.27 135.48h0M347.6 137.08h0M348.79 140.9h0M346.21 157.82h0M351.3 172.29h0M349.06 192.98h0M344.5 193.74h0M354.32 194.08h0M349.81 191.85h0M376.22 140.83h0M376.7 135h0M370.16 153.1h0M374.01 153.27h0M378.71 151.33h0M373.62 178.95h0M380.3 175.58h0M379 176.96h0M381.81 173.81h0M370.73 191.06h0M382.39 193.37h0M371.3 188.96h0M375.12 192.16h0M395.8 135.72h0M407.02 137.21h0M405.56 133.73h0M405.47 157.39h0M398.81 154.91h0M408.74 153.1h0M401.5 154.59h0M406.85 151.31h0M401.01 176.55h0M398 176.25h0M399.28 175.36h0M401.66 196.74h0M398.28 191.07h0M406.58 190.88h0M430.7 135.52h0M426.62 136.64h0M432.33 131.47h0M436.01 139.23h0M425.46 134.17h0M432.51 132.18h0M433.72 156.11h0M433.5 153.97h0M428.75 151.49h0M428.62 176.21h0M434.09 174.37h0M427.73 172.46h0M424.99 191.46h0M434.36 195.66h0" stroke="#cc1826" stroke-width="1.2" stroke-linecap="round" fill="none"/><path d="M336.91 123.4h0M332.23 163.95h0M334.26 163.33h0M328.47 161.92h0M334.9 168.38h0M328.73 161.12h0M334.53 206.49h0M332.1 205.71h0M336.72 202.78h0M360.24 184.27h0M368.18 185.41h0M361.52 182.08h0M387.69 128.47h0M391.65 126.92h0M390.72 126.04h0M392.04 126.4h0M388.69 162.53h0M386.86 168.63h0M389.25 202.9h0M391.76 203.44h0M382.91 205.8h0M418.62 142.64h0M413.28 145.97h0M415.12 147.44h0M418.57 186.86h0M418.99 181.86h0M448.99 122.93h0M438.69 125.91h0M449.56 122.85h0M446.99 127.39h0M441.4 162.3h0M444.36 163.82h0M440.54 166.23h0M447.58 162.12h0M443.6 168.12h0M444.73 165.91h0M445 161.77h0M448.24 203.69h0M446.43 202.39h0M345.88 140.2h0M345.01 140.01h0M347.53 138.83h0M342.5 151.81h0M343.54 152.49h0M348.34 152.28h0M345.62 157.1h0M352.51 176.91h0M344.79 177.19h0M344.24 177.07h0M343.7 194.4h0M346.28 193.8h0M348.97 190.43h0M376.73 138.57h0M373.4 138.64h0M372.62 135.38h0M368.52 135.51h0M374.6 138.57h0M376.46 138.53h0M374.55 156.45h0M372.92 155.98h0M375.34 192.87h0M377.27 193.02h0M400.62 139.85h0M398.43 133.87h0M402.38 159.91h0M404.57 155.31h0M409 153.81h0M403.14 176.19h0M397.51 190.91h0M407.61 194.46h0M404.26 194.63h0M435.04 137.21h0M432.45 137.24h0M428.18 133.95h0M435.46 154.44h0M427.77 157.09h0M427.63 152.21h0M433.25 156.83h0M426.89 177h0M428.55 173.5h0M427.81 177.79h0M426.38 190.62h0M428.88 196.37h0M432.31 190.04h0" stroke="#ea2836" stroke-width="1.2" stroke-linecap="round" fill="none"/><path d="M340.67 124.85h0M330.85 127.56h0M334.48 127h0M335.65 165h0M329.33 164.11h0M335 168.27h0M334.82 162.89h0M333.38 169.12h0M334.08 201.76h0M328.59 204.61h0M332.06 201.69h0M335.76 201.62h0M365.8 142.13h0M354.55 144.69h0M368.41 183.74h0M364.18 186.14h0M358.1 189.06h0M388.33 126.63h0M390.5 162.02h0M386.6 165.68h0M386.37 166.45h0M384.54 167.5h0M388.84 203.64h0M395.11 203.77h0M384.05 204.57h0M387.19 207.72h0M422.06 144.85h0M414.84 142.95h0M423.79 142.66h0M413.45 146.61h0M410.17 145.05h0M417.18 141.51h0M410.13 183.6h0M413.29 180.47h0M419.72 185.22h0M414.78 180.75h0M443.66 123h0M444.43 163.9h0M439.51 204.73h0M449.47 202.01h0M441.41 205.71h0M445.3 204.72h0M448.28 205.34h0M438.68 204.07h0M442.47 202.4h0M345.45 136.16h0M343.17 132.23h0M347.54 133.51h0M346.57 152.08h0M343.39 155.77h0M349.7 153.66h0M347.47 175.24h0M347.59 190.25h0M350.83 192.95h0M344.03 197.37h0M377.41 138.73h0M373.74 139.16h0M377.59 156.6h0M377.21 153.63h0M371.46 150.52h0M369.89 174.61h0M375.97 172.32h0M380.41 192.25h0M380.08 192.44h0M408.48 134.87h0M404.28 141.33h0M403.76 139.1h0M404.38 136.95h0M403.68 155.71h0M404.32 155.84h0M406.32 151.76h0M404.1 174.71h0M406.1 171.71h0M398.91 175.71h0M403.2 171.93h0M406.76 192.97h0M401.37 196.97h0M403.81 197.62h0M436.2 134.38h0M429.22 138.01h0M431.63 138.13h0M433.6 154.18h0M434.39 153.37h0M426.22 175.96h0M434.31 171.68h0M430.93 193.64h0M434 193.86h0M435.35 190.69h0M426.91 190.09h0" stroke="#bc0c1a" stroke-width="1.2" stroke-linecap="round" fill="none"/>
<path d="M338.12 125.25h0M334.51 123.73h0M337.79 126.48h0M333.41 126.93h0M339.09 164.75h0M334.34 205.79h0M336.97 204.14h0M362.32 144.93h0M361.42 181.28h0M392.45 126.47h0M393.78 123.68h0M386.82 124h0M390.24 127.82h0M392.17 164.12h0M383.15 163.93h0M385.27 165.97h0M384.45 165.35h0M384.47 166.94h0M387.09 201.44h0M390.88 205.01h0M392.03 205.56h0M418.75 142.18h0M419.58 181.29h0M418.07 182.46h0M421.2 185.04h0M418.04 186.63h0M439.83 125.8h0M449.77 126.77h0M445.43 167.35h0M444.08 165.93h0M445.57 202.56h0M344.3 138.02h0M347.27 137.04h0M344.06 134.66h0M349.22 133.76h0M349.99 137.31h0M350.13 135.28h0M347.93 153.37h0M347.84 152.51h0M344.73 175.27h0M345.17 177.34h0M350.29 173.17h0M353.19 193.31h0M346.34 192.19h0M373.55 137.24h0M380.5 135.2h0M378.75 135.24h0M373.72 155.51h0M375.29 156.93h0M404.64 134.77h0M402.46 134.2h0M403.08 178.51h0M401.64 178.96h0M406.27 194.97h0M400.9 190.34h0M401.45 192.47h0M427.25 137.33h0M433.86 133.02h0M432.54 138.02h0M432.6 135.97h0M433.79 151.75h0M433.57 158.1h0M426.81 175.33h0M425.59 173.64h0M431.91 176.68h0M434.11 194.81h0M428.47 191.5h0M426.68 193.67h0" stroke="#ea2836" stroke-width="0.8" stroke-linecap="round" fill="none"/><path d="M333.57 128.62h0M330.63 124.13h0M328.75 124.68h0M334.8 166.5h0M338.12 203.88h0M330.49 202.97h0M362.5 142.71h0M357.51 186.19h0M392.11 163.3h0M386.77 165.11h0M387.22 166.43h0M392.12 203.46h0M410.87 145.07h0M413.61 147.01h0M414.97 186.21h0M414.24 180.89h0M446.61 165.16h0M446.87 168.2h0M443.62 206.17h0M442.2 203.97h0M347.3 133.97h0M345.63 138.78h0M350.75 152.64h0M352.19 155.79h0M344.88 156.89h0M348.13 175.32h0M347.54 177.94h0M351.26 174.3h0M348.02 196.32h0M343.59 195.86h0M345.67 192.09h0M348.17 196.14h0M347.19 194.36h0M343.99 194.56h0M379.87 135.01h0M376.47 152.86h0M372.15 175.78h0M371.76 174.54h0M373.54 194.2h0M375.23 190.89h0M370.98 194.28h0M400.78 135.69h0M398.83 134.36h0M400.78 153.34h0M404.24 156.1h0M401.42 157.8h0M400.76 175.97h0M403.46 197.01h0M430.74 136.25h0M430.58 135.53h0M430.96 158.54h0M434.15 174.25h0M431.97 172.35h0" stroke="#d81424" stroke-width="0.8" stroke-linecap="round" fill="none"/><path d="M331.19 126.46h0M333.95 125.87h0M333.72 168.06h0M337.02 162.74h0M331.86 200.93h0M362.96 142.64h0M359.12 144.51h0M362.63 186.93h0M394.45 124.02h0M386.1 126.09h0M394.63 203.39h0M384.3 203.94h0M415.95 147.62h0M418.21 146.29h0M421.17 182.91h0M418.91 186.34h0M418.7 187.22h0M416.31 183.8h0M446.97 123.64h0M445.75 126.29h0M442.7 124.87h0M448.24 124.53h0M446.7 163.22h0M447.08 203.2h0M445.22 207.08h0M444.67 203.67h0M349.86 134.46h0M345.65 155.35h0M348.7 152.16h0M348.45 193.04h0M379.36 136.53h0M377.56 139.03h0M375.06 151.93h0M373.15 175.33h0M376.22 173.16h0M378.47 191.96h0M406.15 134.85h0M406.74 135.6h0M403.42 135.63h0M398.65 154.39h0M398.77 155.08h0M403.83 154.29h0M404.07 175.39h0M405.59 172.47h0M406.36 193.77h0M399.77 194.36h0M408.4 192.66h0M433.83 136.04h0M433.85 154.79h0M427.26 175.43h0" stroke="#9c0410" stroke-width="0.8" stroke-linecap="round" fill="none"/><path d="M333.68 124.13h0M333.45 125.5h0M331.72 166.36h0M330.67 163.91h0M337.55 203.91h0M337.84 203.92h0M364.67 146.3h0M365.1 143.57h0M391.67 125.5h0M389.19 127.4h0M394.26 125.25h0M394.15 163.57h0M389.89 205.25h0M390.54 203.16h0M417.86 148.31h0M414.9 146.78h0M421.09 147.71h0M415.23 181.35h0M444.24 125.45h0M448.75 166.11h0M443.51 203.4h0M445.06 203.82h0M348.09 134.72h0M352.04 175.37h0M348.78 175.99h0M347.76 172.64h0M345.08 194.57h0M348.59 190.72h0M378.11 152.83h0M377.01 152.99h0M374.72 154.29h0M377.69 156.03h0M371.02 192.6h0M375.53 191.03h0M376.7 191.21h0M372.4 193.84h0M398.72 136.84h0M399.25 153.76h0M405.73 154.26h0M403.15 158.6h0M400.42 158.08h0M398.64 153.72h0M402.2 173.54h0M403.26 173.62h0M401.8 175.15h0M401.64 190.73h0M433.8 135.54h0M429.5 152.23h0M429.26 155.89h0M431.81 151.44h0M434.54 153.38h0M435.92 173.59h0M430.52 179h0M433.38 174.98h0M426.85 192.21h0M430.7 197.69h0" stroke="#84040a" stroke-width="0.8" stroke-linecap="round" fill="none"/><path d="M334.61 124.52h0M339.26 164.06h0M333.27 168.18h0M333.3 161.67h0M337.64 166.39h0M332.69 203.87h0M333.59 202.01h0M333.44 206.03h0M357.58 145.06h0M358.04 183.95h0M367.61 183.16h0M384.53 124.54h0M389.12 125.64h0M384.82 164.82h0M386.69 201.66h0M389.1 202.86h0M414.6 143.3h0M418.23 149.16h0M412.07 146.87h0M412.35 183.97h0M445.65 126.73h0M439.58 124.95h0M443.54 126.02h0M447.02 163.65h0M448.32 168.78h0M449.21 161.9h0M447.42 163.99h0M444.43 206.56h0M449.65 203.07h0M442.44 202.46h0M445 204.62h0M346 133.94h0M348.21 136.79h0M349.33 156.85h0M348.59 173.57h0M345.21 174.33h0M373.59 134.96h0M375.09 136.7h0M377.82 137.29h0M376.03 137.96h0M373.31 158.03h0M380.94 153.92h0M377.64 154.57h0M374.15 173.61h0M373.09 177.43h0M372.93 176.29h0M372.08 193.73h0M401.35 138.65h0M397.75 135.35h0M397.95 175.38h0M401.32 173.84h0M401.88 196.11h0M435.2 138.06h0M428.43 137.74h0M431.09 134.6h0M432.36 152.95h0M433.14 154.95h0M435.57 153.71h0M433.01 175.51h0M435.67 173.74h0M431.15 178.25h0M431.04 190.94h0M427.01 191.85h0M430.71 192.57h0" stroke="#bc0c1a" stroke-width="0.8" stroke-linecap="round" fill="none"/><path d="M330.14 127.3h0M333.64 125.07h0M332.08 162.86h0M329.33 204.78h0M333.49 203.61h0M364.51 144.05h0M355.03 143.91h0M357.05 146.29h0M365.01 146.96h0M360.23 187.38h0M361.09 183.67h0M361.32 187.01h0M368.28 184.61h0M367.02 182.24h0M357.62 184.71h0M362.04 183.77h0M384.99 126.24h0M386.35 162.64h0M388.52 162.09h0M393.02 205.4h0M385.65 203.34h0M419.88 145.27h0M415.87 184.36h0M414.27 184.95h0M446.88 125.55h0M440.66 124.95h0M445.61 162.98h0M445.23 163.57h0M447.8 167.94h0M447.56 203.64h0M348.46 155.19h0M348.29 177.2h0M346.58 174.12h0M346.68 196.48h0M348.19 196.35h0M369.53 134.08h0M369.85 136.32h0M377.33 133.17h0M376.35 153.78h0M372.67 176.12h0M371.88 173.32h0M370.93 175.51h0M372.56 193.3h0M378.84 193.14h0M377.51 192.42h0M402.68 133.9h0M404.88 136.2h0M397.14 136.46h0M401.66 152.42h0M404.67 155.65h0M399.85 175.32h0M402.56 173.23h0M403.14 173.29h0M400.18 194.11h0M433.18 132.73h0M430.96 151.59h0M432.58 156.67h0M434.43 176.26h0M434.17 191.41h0M427.63 191.16h0" stroke="#e01c2a" stroke-width="0.8" stroke-linecap="round" fill="none"/><path d="M331.7 165.87h0M329.87 162.64h0M337.92 166.36h0M330.92 206.78h0M338.77 204.04h0M362.03 147.21h0M360.43 142.75h0M361.46 150.04h0M363.17 183.02h0M361.03 183.98h0M393.88 124.79h0M390.71 127.72h0M387.48 169.33h0M392.86 164.63h0M389.1 205h0M387.15 205.21h0M417.76 146.64h0M421.58 145.37h0M442.18 126.88h0M448.78 124.93h0M441.61 163.14h0M447.26 204.79h0M348.48 136.74h0M349.23 135.84h0M349.24 152.8h0M349.04 153.22h0M351.16 152.54h0M345.31 153.65h0M346.32 154.75h0M348.77 176.74h0M347.22 195.85h0M376.89 133.89h0M373.52 152.74h0M371.05 154.9h0M376.89 178.08h0M371.49 176.02h0M372.35 177.99h0M372.65 176.87h0M372.8 190.94h0M377.07 192.77h0M400.07 137.48h0M404.62 155.22h0M403.09 175.92h0M405.96 192.21h0M406.84 191.33h0M402.71 193h0M408.15 192.63h0M433.98 138.41h0M427.89 137.34h0M432.98 151.5h0M429.96 173.83h0M428.49 194.38h0M431.54 191.2h0M430.56 193.57h0M430.98 192.17h0" stroke="#cc1826" stroke-width="0.8" stroke-linecap="round" fill="none"/>
</g>
<rect x="332.5" y="125.9" width="113.1" height="79.5" fill="none" stroke="#15152a" stroke-width="0.8"/>
</svg>
</body></html>
